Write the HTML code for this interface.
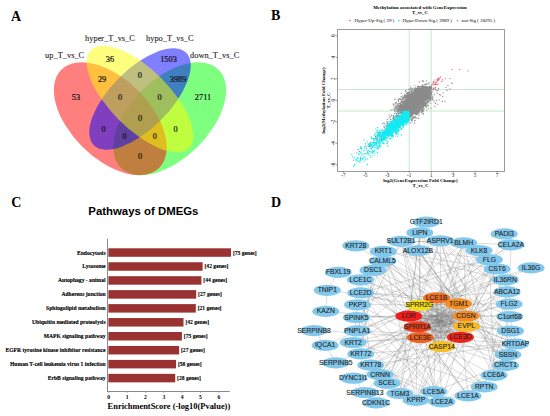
<!DOCTYPE html>
<html><head><meta charset="utf-8"><style>
html,body{margin:0;padding:0;background:#fff;}
body{width:550px;height:416px;overflow:hidden;font-family:"Liberation Sans",sans-serif;}
svg{display:block;}
</style></head><body>
<svg width="550" height="416" viewBox="0 0 550 416">
<rect width="550" height="416" fill="#fff"/>
<text x="10.9" y="20.5" font-family="Liberation Serif, serif" font-weight="bold" font-size="14">A</text>
<text x="271" y="20.4" font-family="Liberation Serif, serif" font-weight="bold" font-size="14">B</text>
<text x="11.2" y="207.3" font-family="Liberation Serif, serif" font-weight="bold" font-size="14">C</text>
<text x="271" y="207.2" font-family="Liberation Serif, serif" font-weight="bold" font-size="14">D</text>
<ellipse cx="169.70" cy="118.74" rx="69.30" ry="39.60" transform="rotate(-45.0 169.70 118.74)" fill="#00ff00" fill-opacity="0.5"/>
<ellipse cx="110.30" cy="118.74" rx="69.30" ry="39.60" transform="rotate(-135.0 110.30 118.74)" fill="#ff0000" fill-opacity="0.5"/>
<ellipse cx="140.00" cy="98.94" rx="65.34" ry="29.70" transform="rotate(-45.0 140.00 98.94)" fill="#0000ff" fill-opacity="0.5"/>
<ellipse cx="140.00" cy="98.94" rx="69.30" ry="29.70" transform="rotate(-135.0 140.00 98.94)" fill="#ffff00" fill-opacity="0.5"/>
<text x="109.9" y="62.3" font-family="Liberation Serif, serif" font-size="8.3" text-anchor="middle" fill="#111" stroke="#111" stroke-width="0.2">36</text>
<text x="168.5" y="62.3" font-family="Liberation Serif, serif" font-size="8.3" text-anchor="middle" fill="#111" stroke="#111" stroke-width="0.2">1503</text>
<text x="102.1" y="82.0" font-family="Liberation Serif, serif" font-size="8.3" text-anchor="middle" fill="#111" stroke="#111" stroke-width="0.2">29</text>
<text x="139.9" y="77.6" font-family="Liberation Serif, serif" font-size="8.3" text-anchor="middle" fill="#111" stroke="#111" stroke-width="0.2">0</text>
<text x="178.1" y="82.0" font-family="Liberation Serif, serif" font-size="8.3" text-anchor="middle" fill="#111" stroke="#111" stroke-width="0.2">3989</text>
<text x="76" y="99.7" font-family="Liberation Serif, serif" font-size="8.3" text-anchor="middle" fill="#111" stroke="#111" stroke-width="0.2">53</text>
<text x="120.1" y="99.7" font-family="Liberation Serif, serif" font-size="8.3" text-anchor="middle" fill="#111" stroke="#111" stroke-width="0.2">0</text>
<text x="159.5" y="99.7" font-family="Liberation Serif, serif" font-size="8.3" text-anchor="middle" fill="#111" stroke="#111" stroke-width="0.2">0</text>
<text x="203" y="99.7" font-family="Liberation Serif, serif" font-size="8.3" text-anchor="middle" fill="#111" stroke="#111" stroke-width="0.2">2711</text>
<text x="140" y="121.3" font-family="Liberation Serif, serif" font-size="8.3" text-anchor="middle" fill="#111" stroke="#111" stroke-width="0.2">0</text>
<text x="103.6" y="131.8" font-family="Liberation Serif, serif" font-size="8.3" text-anchor="middle" fill="#111" stroke="#111" stroke-width="0.2">0</text>
<text x="175.6" y="131.8" font-family="Liberation Serif, serif" font-size="8.3" text-anchor="middle" fill="#111" stroke="#111" stroke-width="0.2">0</text>
<text x="124.6" y="139.3" font-family="Liberation Serif, serif" font-size="8.3" text-anchor="middle" fill="#111" stroke="#111" stroke-width="0.2">0</text>
<text x="154.9" y="139.3" font-family="Liberation Serif, serif" font-size="8.3" text-anchor="middle" fill="#111" stroke="#111" stroke-width="0.2">0</text>
<text x="140" y="159.0" font-family="Liberation Serif, serif" font-size="8.3" text-anchor="middle" fill="#111" stroke="#111" stroke-width="0.2">0</text>
<text x="45.1" y="58" font-family="Liberation Serif, serif" font-size="8.4" fill="#222" stroke="#222" stroke-width="0.1">up_T_vs_C</text>
<text x="85.1" y="41.1" font-family="Liberation Serif, serif" font-size="8.4" fill="#222" stroke="#222" stroke-width="0.1">hyper_T_vs_C</text>
<text x="146" y="40.6" font-family="Liberation Serif, serif" font-size="8.4" fill="#222" stroke="#222" stroke-width="0.1">hypo_T_vs_C</text>
<text x="190" y="57.6" font-family="Liberation Serif, serif" font-size="8.4" fill="#222" stroke="#222" stroke-width="0.1">down_T_vs_C</text>
<text x="420" y="8.7" font-family="Liberation Serif, serif" font-weight="bold" font-size="4.9" text-anchor="middle">Methylation associated with GeneExpression</text>
<text x="420" y="13.6" font-family="Liberation Serif, serif" font-weight="bold" font-size="4.9" text-anchor="middle">T_vs_C</text>
<circle cx="349.9" cy="20.6" r="0.8" fill="#f05070"/><circle cx="398.9" cy="20.6" r="0.8" fill="#00e0ff"/><circle cx="457.5" cy="20.6" r="0.8" fill="#888"/>
<text x="354.5" y="22.2" font-family="Liberation Serif, serif" font-size="4.9">Hyper-Up-Sig ( 29 )</text>
<text x="402.5" y="22.2" font-family="Liberation Serif, serif" font-size="4.9">Hypo-Down-Sig ( 3989 )</text>
<text x="461.5" y="22.2" font-family="Liberation Serif, serif" font-size="4.9">not-Sig ( 18295 )</text>
<line x1="409.2" y1="29" x2="409.2" y2="171" stroke="#c4e8c8" stroke-width="1"/>
<line x1="337" y1="111.0" x2="504" y2="111.0" stroke="#c4e8c8" stroke-width="1"/>
<line x1="431.2" y1="29" x2="431.2" y2="171" stroke="#c4e8c8" stroke-width="1"/>
<line x1="337" y1="89.5" x2="504" y2="89.5" stroke="#c4e8c8" stroke-width="1"/>
<path d="M410.0 101.8h1.1v1.1h-1.1zM413.3 104.5h1.1v1.1h-1.1zM406.6 110.3h1.1v1.1h-1.1zM422.5 90.1h1.1v1.1h-1.1zM422.5 91.4h1.1v1.1h-1.1zM417.0 97.2h1.1v1.1h-1.1zM411.2 94.4h1.1v1.1h-1.1zM426.8 92.0h1.1v1.1h-1.1zM421.2 99.1h1.1v1.1h-1.1zM415.5 97.3h1.1v1.1h-1.1zM402.0 101.0h1.1v1.1h-1.1zM414.8 92.2h1.1v1.1h-1.1zM411.3 109.4h1.1v1.1h-1.1zM411.5 104.8h1.1v1.1h-1.1zM418.9 94.9h1.1v1.1h-1.1zM413.7 108.7h1.1v1.1h-1.1zM405.1 101.6h1.1v1.1h-1.1zM406.1 107.6h1.1v1.1h-1.1zM423.4 103.0h1.1v1.1h-1.1zM409.8 96.3h1.1v1.1h-1.1zM416.2 105.2h1.1v1.1h-1.1zM418.8 97.2h1.1v1.1h-1.1zM411.6 103.8h1.1v1.1h-1.1zM412.1 114.0h1.1v1.1h-1.1zM403.6 101.5h1.1v1.1h-1.1zM424.9 86.7h1.1v1.1h-1.1zM420.0 100.9h1.1v1.1h-1.1zM400.6 107.7h1.1v1.1h-1.1zM423.4 91.2h1.1v1.1h-1.1zM414.8 97.7h1.1v1.1h-1.1zM410.7 97.7h1.1v1.1h-1.1zM417.8 99.9h1.1v1.1h-1.1zM402.0 110.4h1.1v1.1h-1.1zM430.9 93.8h1.1v1.1h-1.1zM421.1 98.9h1.1v1.1h-1.1zM405.2 106.8h1.1v1.1h-1.1zM414.7 96.2h1.1v1.1h-1.1zM411.1 96.2h1.1v1.1h-1.1zM409.8 108.6h1.1v1.1h-1.1zM423.4 92.2h1.1v1.1h-1.1zM402.9 105.7h1.1v1.1h-1.1zM428.9 90.1h1.1v1.1h-1.1zM413.9 103.7h1.1v1.1h-1.1zM430.4 92.8h1.1v1.1h-1.1zM430.0 94.9h1.1v1.1h-1.1zM404.8 106.0h1.1v1.1h-1.1zM421.1 88.4h1.1v1.1h-1.1zM416.7 97.8h1.1v1.1h-1.1zM413.4 98.0h1.1v1.1h-1.1zM411.6 101.9h1.1v1.1h-1.1zM419.3 96.4h1.1v1.1h-1.1zM418.9 92.7h1.1v1.1h-1.1zM416.0 95.2h1.1v1.1h-1.1zM406.4 103.4h1.1v1.1h-1.1zM421.7 84.3h1.1v1.1h-1.1zM403.3 110.3h1.1v1.1h-1.1zM416.8 97.0h1.1v1.1h-1.1zM407.9 102.8h1.1v1.1h-1.1zM418.6 100.8h1.1v1.1h-1.1zM417.3 91.2h1.1v1.1h-1.1zM424.2 90.1h1.1v1.1h-1.1zM410.1 98.5h1.1v1.1h-1.1zM416.4 88.6h1.1v1.1h-1.1zM408.9 102.1h1.1v1.1h-1.1zM433.7 101.4h1.1v1.1h-1.1zM426.2 102.0h1.1v1.1h-1.1zM416.4 104.3h1.1v1.1h-1.1zM406.2 109.9h1.1v1.1h-1.1zM416.1 99.2h1.1v1.1h-1.1zM410.1 99.9h1.1v1.1h-1.1zM414.8 117.5h1.1v1.1h-1.1zM423.3 94.3h1.1v1.1h-1.1zM412.8 97.7h1.1v1.1h-1.1zM413.8 97.1h1.1v1.1h-1.1zM423.2 99.4h1.1v1.1h-1.1zM410.4 115.6h1.1v1.1h-1.1zM422.7 87.6h1.1v1.1h-1.1zM430.7 91.8h1.1v1.1h-1.1zM418.3 105.4h1.1v1.1h-1.1zM415.2 89.0h1.1v1.1h-1.1zM400.5 103.6h1.1v1.1h-1.1zM423.6 93.4h1.1v1.1h-1.1zM414.7 97.5h1.1v1.1h-1.1zM418.9 86.1h1.1v1.1h-1.1zM427.8 89.3h1.1v1.1h-1.1zM403.8 104.2h1.1v1.1h-1.1zM414.7 99.9h1.1v1.1h-1.1zM427.8 89.9h1.1v1.1h-1.1zM413.1 97.1h1.1v1.1h-1.1zM409.8 100.5h1.1v1.1h-1.1zM409.7 108.6h1.1v1.1h-1.1zM409.1 104.5h1.1v1.1h-1.1zM423.0 96.3h1.1v1.1h-1.1zM423.2 91.6h1.1v1.1h-1.1zM414.2 100.8h1.1v1.1h-1.1zM418.0 101.8h1.1v1.1h-1.1zM407.9 109.7h1.1v1.1h-1.1zM416.8 102.1h1.1v1.1h-1.1zM408.9 108.5h1.1v1.1h-1.1zM405.4 97.8h1.1v1.1h-1.1zM423.4 108.0h1.1v1.1h-1.1zM402.3 110.4h1.1v1.1h-1.1zM415.5 113.9h1.1v1.1h-1.1zM421.6 96.0h1.1v1.1h-1.1zM418.4 100.5h1.1v1.1h-1.1zM418.4 91.9h1.1v1.1h-1.1zM418.9 94.4h1.1v1.1h-1.1zM423.7 87.3h1.1v1.1h-1.1zM425.8 104.9h1.1v1.1h-1.1zM417.4 88.8h1.1v1.1h-1.1zM413.2 105.6h1.1v1.1h-1.1zM423.8 94.0h1.1v1.1h-1.1zM418.7 100.6h1.1v1.1h-1.1zM402.6 109.1h1.1v1.1h-1.1zM409.0 102.4h1.1v1.1h-1.1zM402.9 102.0h1.1v1.1h-1.1zM424.9 89.8h1.1v1.1h-1.1zM412.3 102.7h1.1v1.1h-1.1zM403.6 103.0h1.1v1.1h-1.1zM411.0 104.6h1.1v1.1h-1.1zM430.4 86.6h1.1v1.1h-1.1zM418.6 97.6h1.1v1.1h-1.1zM412.9 100.6h1.1v1.1h-1.1zM418.3 102.9h1.1v1.1h-1.1zM417.8 92.4h1.1v1.1h-1.1zM414.5 104.0h1.1v1.1h-1.1zM424.9 87.0h1.1v1.1h-1.1zM410.4 103.8h1.1v1.1h-1.1zM427.8 91.8h1.1v1.1h-1.1zM416.8 101.6h1.1v1.1h-1.1zM417.3 100.4h1.1v1.1h-1.1zM423.6 98.1h1.1v1.1h-1.1zM404.2 103.4h1.1v1.1h-1.1zM421.8 96.4h1.1v1.1h-1.1zM418.4 90.8h1.1v1.1h-1.1zM412.7 99.3h1.1v1.1h-1.1zM414.7 98.9h1.1v1.1h-1.1zM413.5 96.2h1.1v1.1h-1.1zM403.3 100.7h1.1v1.1h-1.1zM407.4 99.8h1.1v1.1h-1.1zM414.7 94.9h1.1v1.1h-1.1zM420.6 94.5h1.1v1.1h-1.1zM428.0 86.7h1.1v1.1h-1.1zM409.4 107.5h1.1v1.1h-1.1zM403.2 106.9h1.1v1.1h-1.1zM414.1 120.2h1.1v1.1h-1.1zM399.1 104.8h1.1v1.1h-1.1zM415.8 109.6h1.1v1.1h-1.1zM405.5 106.2h1.1v1.1h-1.1zM418.0 96.4h1.1v1.1h-1.1zM424.8 85.9h1.1v1.1h-1.1zM411.8 99.4h1.1v1.1h-1.1zM425.4 83.4h1.1v1.1h-1.1zM413.3 107.3h1.1v1.1h-1.1zM411.5 98.0h1.1v1.1h-1.1zM408.6 105.8h1.1v1.1h-1.1zM406.6 106.9h1.1v1.1h-1.1zM405.5 91.3h1.1v1.1h-1.1zM407.9 101.2h1.1v1.1h-1.1zM422.9 92.8h1.1v1.1h-1.1zM413.3 94.2h1.1v1.1h-1.1zM421.1 94.4h1.1v1.1h-1.1zM419.8 92.0h1.1v1.1h-1.1zM415.8 99.4h1.1v1.1h-1.1zM409.5 101.0h1.1v1.1h-1.1zM419.5 106.5h1.1v1.1h-1.1zM417.6 112.3h1.1v1.1h-1.1zM406.0 105.3h1.1v1.1h-1.1zM419.4 96.6h1.1v1.1h-1.1zM417.3 108.5h1.1v1.1h-1.1zM428.6 83.5h1.1v1.1h-1.1zM417.9 101.3h1.1v1.1h-1.1zM428.0 98.9h1.1v1.1h-1.1zM423.9 100.2h1.1v1.1h-1.1zM428.2 94.4h1.1v1.1h-1.1zM414.4 106.0h1.1v1.1h-1.1zM418.5 96.4h1.1v1.1h-1.1zM410.2 102.7h1.1v1.1h-1.1zM424.0 99.5h1.1v1.1h-1.1zM409.1 113.5h1.1v1.1h-1.1zM413.6 109.4h1.1v1.1h-1.1zM413.5 104.2h1.1v1.1h-1.1zM416.4 104.6h1.1v1.1h-1.1zM419.1 94.0h1.1v1.1h-1.1zM415.8 104.5h1.1v1.1h-1.1zM422.5 112.6h1.1v1.1h-1.1zM405.3 109.8h1.1v1.1h-1.1zM420.5 105.0h1.1v1.1h-1.1zM413.1 104.7h1.1v1.1h-1.1zM416.0 95.2h1.1v1.1h-1.1zM416.9 104.7h1.1v1.1h-1.1zM413.1 102.9h1.1v1.1h-1.1zM419.6 93.9h1.1v1.1h-1.1zM412.7 112.5h1.1v1.1h-1.1zM413.5 107.3h1.1v1.1h-1.1zM409.4 105.3h1.1v1.1h-1.1zM420.3 98.3h1.1v1.1h-1.1zM406.6 107.0h1.1v1.1h-1.1zM411.0 87.7h1.1v1.1h-1.1zM412.4 94.0h1.1v1.1h-1.1zM417.5 91.3h1.1v1.1h-1.1zM419.3 97.5h1.1v1.1h-1.1zM422.6 100.8h1.1v1.1h-1.1zM428.4 94.7h1.1v1.1h-1.1zM408.7 91.6h1.1v1.1h-1.1zM412.1 103.2h1.1v1.1h-1.1zM424.4 91.1h1.1v1.1h-1.1zM406.0 107.5h1.1v1.1h-1.1zM416.8 93.7h1.1v1.1h-1.1zM400.9 101.9h1.1v1.1h-1.1zM429.0 86.7h1.1v1.1h-1.1zM418.1 100.5h1.1v1.1h-1.1zM429.3 91.5h1.1v1.1h-1.1zM421.9 97.2h1.1v1.1h-1.1zM405.4 104.9h1.1v1.1h-1.1zM426.1 89.7h1.1v1.1h-1.1zM405.2 104.4h1.1v1.1h-1.1zM412.6 100.7h1.1v1.1h-1.1zM421.5 96.3h1.1v1.1h-1.1zM408.8 98.1h1.1v1.1h-1.1zM414.1 95.0h1.1v1.1h-1.1zM426.3 92.7h1.1v1.1h-1.1zM414.8 103.0h1.1v1.1h-1.1zM417.1 106.3h1.1v1.1h-1.1zM419.6 106.3h1.1v1.1h-1.1zM412.4 100.9h1.1v1.1h-1.1zM419.2 98.1h1.1v1.1h-1.1zM405.5 108.7h1.1v1.1h-1.1zM404.1 100.0h1.1v1.1h-1.1zM421.4 95.1h1.1v1.1h-1.1zM412.5 108.0h1.1v1.1h-1.1zM414.9 96.9h1.1v1.1h-1.1zM411.6 88.9h1.1v1.1h-1.1zM407.8 107.5h1.1v1.1h-1.1zM416.1 95.9h1.1v1.1h-1.1zM419.2 92.9h1.1v1.1h-1.1zM418.2 94.5h1.1v1.1h-1.1zM408.8 97.3h1.1v1.1h-1.1zM429.4 94.2h1.1v1.1h-1.1zM404.3 107.2h1.1v1.1h-1.1zM406.1 110.3h1.1v1.1h-1.1zM411.4 101.9h1.1v1.1h-1.1zM400.7 96.1h1.1v1.1h-1.1zM418.5 91.1h1.1v1.1h-1.1zM412.8 97.1h1.1v1.1h-1.1zM410.6 97.7h1.1v1.1h-1.1zM416.0 100.6h1.1v1.1h-1.1zM426.8 86.8h1.1v1.1h-1.1zM424.7 96.0h1.1v1.1h-1.1zM414.1 101.5h1.1v1.1h-1.1zM416.8 96.1h1.1v1.1h-1.1zM429.6 90.4h1.1v1.1h-1.1zM410.0 115.2h1.1v1.1h-1.1zM418.1 102.6h1.1v1.1h-1.1zM428.0 92.8h1.1v1.1h-1.1zM410.8 101.1h1.1v1.1h-1.1zM408.8 96.4h1.1v1.1h-1.1zM414.5 104.4h1.1v1.1h-1.1zM422.1 89.9h1.1v1.1h-1.1zM411.3 94.6h1.1v1.1h-1.1zM421.5 93.8h1.1v1.1h-1.1zM424.5 96.7h1.1v1.1h-1.1zM412.1 98.1h1.1v1.1h-1.1zM429.1 89.5h1.1v1.1h-1.1zM412.8 101.3h1.1v1.1h-1.1zM406.8 105.9h1.1v1.1h-1.1zM411.3 118.3h1.1v1.1h-1.1zM413.6 100.1h1.1v1.1h-1.1zM406.0 103.0h1.1v1.1h-1.1zM413.9 105.9h1.1v1.1h-1.1zM424.1 102.8h1.1v1.1h-1.1zM408.2 107.4h1.1v1.1h-1.1zM422.3 94.5h1.1v1.1h-1.1zM419.3 101.0h1.1v1.1h-1.1zM410.8 92.8h1.1v1.1h-1.1zM399.4 98.9h1.1v1.1h-1.1zM408.4 106.9h1.1v1.1h-1.1zM412.0 96.2h1.1v1.1h-1.1zM410.8 119.7h1.1v1.1h-1.1zM416.7 93.2h1.1v1.1h-1.1zM410.1 86.5h1.1v1.1h-1.1zM415.1 98.7h1.1v1.1h-1.1zM421.1 91.9h1.1v1.1h-1.1zM426.0 87.7h1.1v1.1h-1.1zM405.5 105.1h1.1v1.1h-1.1zM409.6 102.1h1.1v1.1h-1.1zM421.3 94.2h1.1v1.1h-1.1zM393.6 107.2h1.1v1.1h-1.1zM398.6 106.2h1.1v1.1h-1.1zM421.8 100.7h1.1v1.1h-1.1zM422.5 90.7h1.1v1.1h-1.1zM394.3 109.3h1.1v1.1h-1.1zM413.9 95.3h1.1v1.1h-1.1zM416.5 100.2h1.1v1.1h-1.1zM416.2 98.9h1.1v1.1h-1.1zM421.6 109.3h1.1v1.1h-1.1zM407.9 102.6h1.1v1.1h-1.1zM427.4 91.0h1.1v1.1h-1.1zM407.3 96.8h1.1v1.1h-1.1zM408.6 101.6h1.1v1.1h-1.1zM429.0 86.5h1.1v1.1h-1.1zM427.7 93.2h1.1v1.1h-1.1zM416.3 99.8h1.1v1.1h-1.1zM411.1 96.3h1.1v1.1h-1.1zM410.2 97.6h1.1v1.1h-1.1zM414.7 89.0h1.1v1.1h-1.1zM419.7 109.2h1.1v1.1h-1.1zM420.8 104.5h1.1v1.1h-1.1zM407.7 102.2h1.1v1.1h-1.1zM399.2 106.5h1.1v1.1h-1.1zM418.2 95.1h1.1v1.1h-1.1zM417.0 103.9h1.1v1.1h-1.1zM415.9 98.9h1.1v1.1h-1.1zM407.7 109.7h1.1v1.1h-1.1zM416.8 97.2h1.1v1.1h-1.1zM407.1 106.5h1.1v1.1h-1.1zM400.9 109.4h1.1v1.1h-1.1zM412.7 113.3h1.1v1.1h-1.1zM426.1 98.3h1.1v1.1h-1.1zM407.7 110.5h1.1v1.1h-1.1zM416.1 104.2h1.1v1.1h-1.1zM411.5 98.6h1.1v1.1h-1.1zM406.8 102.2h1.1v1.1h-1.1zM425.0 91.2h1.1v1.1h-1.1zM409.5 93.1h1.1v1.1h-1.1zM419.8 91.0h1.1v1.1h-1.1zM427.7 100.5h1.1v1.1h-1.1zM416.9 99.7h1.1v1.1h-1.1zM411.2 100.8h1.1v1.1h-1.1zM423.5 95.2h1.1v1.1h-1.1zM423.6 97.9h1.1v1.1h-1.1zM406.9 96.1h1.1v1.1h-1.1zM418.7 98.0h1.1v1.1h-1.1zM412.5 96.3h1.1v1.1h-1.1zM416.1 95.8h1.1v1.1h-1.1zM408.9 96.9h1.1v1.1h-1.1zM412.7 106.7h1.1v1.1h-1.1zM421.9 93.4h1.1v1.1h-1.1zM413.8 105.9h1.1v1.1h-1.1zM409.6 101.4h1.1v1.1h-1.1zM421.7 102.6h1.1v1.1h-1.1zM417.3 97.0h1.1v1.1h-1.1zM402.4 107.3h1.1v1.1h-1.1zM412.9 105.0h1.1v1.1h-1.1zM416.4 89.7h1.1v1.1h-1.1zM406.4 105.8h1.1v1.1h-1.1zM397.9 100.8h1.1v1.1h-1.1zM405.4 101.4h1.1v1.1h-1.1zM405.4 104.1h1.1v1.1h-1.1zM413.3 91.3h1.1v1.1h-1.1zM414.1 100.7h1.1v1.1h-1.1zM424.0 96.1h1.1v1.1h-1.1zM421.4 100.8h1.1v1.1h-1.1zM424.2 96.8h1.1v1.1h-1.1zM414.4 100.0h1.1v1.1h-1.1zM418.3 99.0h1.1v1.1h-1.1zM410.4 109.8h1.1v1.1h-1.1zM409.2 106.3h1.1v1.1h-1.1zM407.6 99.3h1.1v1.1h-1.1zM418.8 98.4h1.1v1.1h-1.1zM420.5 96.2h1.1v1.1h-1.1zM422.9 80.6h1.1v1.1h-1.1zM411.1 104.1h1.1v1.1h-1.1zM423.7 95.2h1.1v1.1h-1.1zM427.3 94.1h1.1v1.1h-1.1zM418.5 100.9h1.1v1.1h-1.1zM418.1 102.4h1.1v1.1h-1.1zM414.4 96.6h1.1v1.1h-1.1zM402.9 107.4h1.1v1.1h-1.1zM409.5 103.5h1.1v1.1h-1.1zM408.6 95.4h1.1v1.1h-1.1zM416.9 100.0h1.1v1.1h-1.1zM411.1 108.8h1.1v1.1h-1.1zM401.5 109.2h1.1v1.1h-1.1zM400.1 110.5h1.1v1.1h-1.1zM403.8 109.0h1.1v1.1h-1.1zM425.7 88.6h1.1v1.1h-1.1zM407.5 107.6h1.1v1.1h-1.1zM421.8 106.3h1.1v1.1h-1.1zM408.1 106.1h1.1v1.1h-1.1zM409.7 105.2h1.1v1.1h-1.1zM417.9 92.2h1.1v1.1h-1.1zM420.1 91.3h1.1v1.1h-1.1zM411.7 103.9h1.1v1.1h-1.1zM412.9 104.9h1.1v1.1h-1.1zM418.9 109.1h1.1v1.1h-1.1zM411.3 104.4h1.1v1.1h-1.1zM405.6 110.0h1.1v1.1h-1.1zM419.4 97.4h1.1v1.1h-1.1zM418.7 101.2h1.1v1.1h-1.1zM425.0 91.7h1.1v1.1h-1.1zM427.3 104.6h1.1v1.1h-1.1zM420.4 92.6h1.1v1.1h-1.1zM416.5 103.3h1.1v1.1h-1.1zM421.6 97.5h1.1v1.1h-1.1zM418.0 101.2h1.1v1.1h-1.1zM413.2 96.9h1.1v1.1h-1.1zM406.5 109.1h1.1v1.1h-1.1zM419.1 95.4h1.1v1.1h-1.1zM419.8 98.5h1.1v1.1h-1.1zM416.9 102.1h1.1v1.1h-1.1zM396.9 107.1h1.1v1.1h-1.1zM418.4 99.5h1.1v1.1h-1.1zM427.0 89.3h1.1v1.1h-1.1zM397.6 109.7h1.1v1.1h-1.1zM400.6 93.0h1.1v1.1h-1.1zM408.3 110.2h1.1v1.1h-1.1zM419.0 104.3h1.1v1.1h-1.1zM415.3 89.7h1.1v1.1h-1.1zM413.8 101.4h1.1v1.1h-1.1zM418.7 96.1h1.1v1.1h-1.1zM409.7 110.8h1.1v1.1h-1.1zM416.6 95.2h1.1v1.1h-1.1zM413.7 103.0h1.1v1.1h-1.1zM422.5 93.1h1.1v1.1h-1.1zM418.6 92.8h1.1v1.1h-1.1zM411.3 94.8h1.1v1.1h-1.1zM410.4 107.7h1.1v1.1h-1.1zM409.9 111.3h1.1v1.1h-1.1zM415.2 97.7h1.1v1.1h-1.1zM419.6 103.1h1.1v1.1h-1.1zM413.5 100.9h1.1v1.1h-1.1zM410.8 111.9h1.1v1.1h-1.1zM402.3 104.6h1.1v1.1h-1.1zM406.5 93.5h1.1v1.1h-1.1zM423.5 89.8h1.1v1.1h-1.1zM407.2 105.2h1.1v1.1h-1.1zM416.0 95.9h1.1v1.1h-1.1zM409.1 116.5h1.1v1.1h-1.1zM414.9 95.2h1.1v1.1h-1.1zM412.2 101.1h1.1v1.1h-1.1zM430.2 93.6h1.1v1.1h-1.1zM414.3 102.0h1.1v1.1h-1.1zM427.4 98.2h1.1v1.1h-1.1zM413.1 99.1h1.1v1.1h-1.1zM413.4 100.1h1.1v1.1h-1.1zM401.4 103.7h1.1v1.1h-1.1zM415.0 113.6h1.1v1.1h-1.1zM415.3 105.7h1.1v1.1h-1.1zM421.1 103.0h1.1v1.1h-1.1zM407.7 97.5h1.1v1.1h-1.1zM420.8 95.9h1.1v1.1h-1.1zM415.7 100.7h1.1v1.1h-1.1zM411.1 99.2h1.1v1.1h-1.1zM422.1 110.8h1.1v1.1h-1.1zM417.2 104.7h1.1v1.1h-1.1zM422.2 97.8h1.1v1.1h-1.1zM407.6 92.3h1.1v1.1h-1.1zM408.9 114.5h1.1v1.1h-1.1zM410.3 122.3h1.1v1.1h-1.1zM415.3 113.6h1.1v1.1h-1.1zM409.6 101.2h1.1v1.1h-1.1zM412.6 104.9h1.1v1.1h-1.1zM419.5 98.3h1.1v1.1h-1.1zM418.1 97.0h1.1v1.1h-1.1zM423.0 95.5h1.1v1.1h-1.1zM414.8 99.4h1.1v1.1h-1.1zM426.0 87.0h1.1v1.1h-1.1zM409.2 114.5h1.1v1.1h-1.1zM415.2 102.9h1.1v1.1h-1.1zM408.9 110.2h1.1v1.1h-1.1zM427.1 100.7h1.1v1.1h-1.1zM417.6 99.7h1.1v1.1h-1.1zM433.5 94.1h1.1v1.1h-1.1zM417.4 95.2h1.1v1.1h-1.1zM415.3 99.0h1.1v1.1h-1.1zM429.0 97.5h1.1v1.1h-1.1zM411.4 108.4h1.1v1.1h-1.1zM416.5 97.2h1.1v1.1h-1.1zM416.9 103.5h1.1v1.1h-1.1zM406.8 101.8h1.1v1.1h-1.1zM420.6 94.3h1.1v1.1h-1.1zM405.6 98.6h1.1v1.1h-1.1zM406.5 104.2h1.1v1.1h-1.1zM425.4 92.2h1.1v1.1h-1.1zM425.6 98.1h1.1v1.1h-1.1zM422.5 91.8h1.1v1.1h-1.1zM415.4 108.7h1.1v1.1h-1.1zM410.8 90.8h1.1v1.1h-1.1zM420.1 95.5h1.1v1.1h-1.1zM426.1 109.4h1.1v1.1h-1.1zM424.4 91.1h1.1v1.1h-1.1zM414.4 93.5h1.1v1.1h-1.1zM398.9 105.3h1.1v1.1h-1.1zM404.0 94.2h1.1v1.1h-1.1zM410.4 100.2h1.1v1.1h-1.1zM415.0 108.6h1.1v1.1h-1.1zM420.6 88.5h1.1v1.1h-1.1zM422.0 103.4h1.1v1.1h-1.1zM405.7 104.0h1.1v1.1h-1.1zM416.2 100.4h1.1v1.1h-1.1zM413.3 96.8h1.1v1.1h-1.1zM425.2 95.4h1.1v1.1h-1.1zM395.5 109.4h1.1v1.1h-1.1zM411.2 96.4h1.1v1.1h-1.1zM419.7 106.3h1.1v1.1h-1.1zM406.9 103.3h1.1v1.1h-1.1zM418.0 86.2h1.1v1.1h-1.1zM411.6 113.9h1.1v1.1h-1.1zM415.4 93.5h1.1v1.1h-1.1zM420.6 104.3h1.1v1.1h-1.1zM418.3 91.7h1.1v1.1h-1.1zM420.9 98.3h1.1v1.1h-1.1zM414.0 95.9h1.1v1.1h-1.1zM415.9 112.8h1.1v1.1h-1.1zM415.3 96.8h1.1v1.1h-1.1zM411.0 98.1h1.1v1.1h-1.1zM409.2 106.8h1.1v1.1h-1.1zM409.4 102.0h1.1v1.1h-1.1zM429.3 88.3h1.1v1.1h-1.1zM417.0 106.1h1.1v1.1h-1.1zM413.5 92.4h1.1v1.1h-1.1zM417.4 95.2h1.1v1.1h-1.1zM411.8 102.5h1.1v1.1h-1.1zM397.6 110.1h1.1v1.1h-1.1zM414.5 108.9h1.1v1.1h-1.1zM410.5 110.9h1.1v1.1h-1.1zM417.9 90.1h1.1v1.1h-1.1zM398.7 109.9h1.1v1.1h-1.1zM424.2 95.7h1.1v1.1h-1.1zM407.3 105.7h1.1v1.1h-1.1zM418.4 111.7h1.1v1.1h-1.1zM421.8 104.8h1.1v1.1h-1.1zM426.6 97.8h1.1v1.1h-1.1zM411.1 110.5h1.1v1.1h-1.1zM404.6 101.5h1.1v1.1h-1.1zM419.6 91.8h1.1v1.1h-1.1zM422.7 104.1h1.1v1.1h-1.1zM411.5 107.9h1.1v1.1h-1.1zM403.6 108.1h1.1v1.1h-1.1zM410.1 110.4h1.1v1.1h-1.1zM412.3 117.8h1.1v1.1h-1.1zM414.6 91.4h1.1v1.1h-1.1zM419.3 103.3h1.1v1.1h-1.1zM423.9 89.7h1.1v1.1h-1.1zM417.0 88.0h1.1v1.1h-1.1zM425.8 93.1h1.1v1.1h-1.1zM420.7 89.4h1.1v1.1h-1.1zM423.2 100.1h1.1v1.1h-1.1zM413.9 108.1h1.1v1.1h-1.1zM416.4 102.8h1.1v1.1h-1.1zM422.8 93.5h1.1v1.1h-1.1zM419.8 93.8h1.1v1.1h-1.1zM412.6 102.2h1.1v1.1h-1.1zM404.2 107.5h1.1v1.1h-1.1zM414.7 107.1h1.1v1.1h-1.1zM411.0 99.4h1.1v1.1h-1.1zM421.7 110.9h1.1v1.1h-1.1zM408.4 107.8h1.1v1.1h-1.1zM420.4 102.0h1.1v1.1h-1.1zM413.4 98.4h1.1v1.1h-1.1zM423.4 105.1h1.1v1.1h-1.1zM410.6 110.9h1.1v1.1h-1.1zM409.3 108.1h1.1v1.1h-1.1zM423.0 94.2h1.1v1.1h-1.1zM408.7 116.8h1.1v1.1h-1.1zM422.0 101.1h1.1v1.1h-1.1zM406.7 100.1h1.1v1.1h-1.1zM420.6 99.6h1.1v1.1h-1.1zM407.3 104.2h1.1v1.1h-1.1zM408.0 105.3h1.1v1.1h-1.1zM428.3 87.3h1.1v1.1h-1.1zM410.2 100.0h1.1v1.1h-1.1zM407.0 100.7h1.1v1.1h-1.1zM400.5 110.4h1.1v1.1h-1.1zM412.5 108.7h1.1v1.1h-1.1zM430.3 99.3h1.1v1.1h-1.1zM417.2 102.3h1.1v1.1h-1.1zM424.8 99.7h1.1v1.1h-1.1zM415.5 100.0h1.1v1.1h-1.1zM428.2 90.7h1.1v1.1h-1.1zM412.5 99.7h1.1v1.1h-1.1zM416.1 95.3h1.1v1.1h-1.1zM418.8 103.3h1.1v1.1h-1.1zM422.1 104.0h1.1v1.1h-1.1zM430.5 93.2h1.1v1.1h-1.1zM419.3 100.3h1.1v1.1h-1.1zM414.5 109.3h1.1v1.1h-1.1zM417.6 105.7h1.1v1.1h-1.1zM425.7 96.2h1.1v1.1h-1.1zM410.9 99.3h1.1v1.1h-1.1zM417.6 91.6h1.1v1.1h-1.1zM422.0 90.8h1.1v1.1h-1.1zM417.2 91.8h1.1v1.1h-1.1zM415.2 101.0h1.1v1.1h-1.1zM423.0 99.4h1.1v1.1h-1.1zM421.8 99.7h1.1v1.1h-1.1zM409.8 113.3h1.1v1.1h-1.1zM425.3 88.7h1.1v1.1h-1.1zM413.4 117.2h1.1v1.1h-1.1zM392.9 104.5h1.1v1.1h-1.1zM416.6 100.1h1.1v1.1h-1.1zM416.7 108.7h1.1v1.1h-1.1zM398.6 104.5h1.1v1.1h-1.1zM404.3 105.0h1.1v1.1h-1.1zM412.7 95.4h1.1v1.1h-1.1zM402.0 109.0h1.1v1.1h-1.1zM420.3 100.6h1.1v1.1h-1.1zM421.7 100.4h1.1v1.1h-1.1zM407.1 108.4h1.1v1.1h-1.1zM410.6 115.3h1.1v1.1h-1.1zM407.6 102.4h1.1v1.1h-1.1zM405.9 100.4h1.1v1.1h-1.1zM426.5 86.4h1.1v1.1h-1.1zM425.6 96.1h1.1v1.1h-1.1zM420.4 93.4h1.1v1.1h-1.1zM419.9 95.6h1.1v1.1h-1.1zM427.3 93.1h1.1v1.1h-1.1zM411.0 115.1h1.1v1.1h-1.1zM427.2 93.9h1.1v1.1h-1.1zM414.8 109.8h1.1v1.1h-1.1zM413.9 106.1h1.1v1.1h-1.1zM412.7 109.6h1.1v1.1h-1.1zM416.2 102.7h1.1v1.1h-1.1zM414.3 99.5h1.1v1.1h-1.1zM425.2 106.2h1.1v1.1h-1.1zM412.3 108.9h1.1v1.1h-1.1zM426.8 100.2h1.1v1.1h-1.1zM408.9 108.7h1.1v1.1h-1.1zM407.6 100.8h1.1v1.1h-1.1zM406.7 101.8h1.1v1.1h-1.1zM423.5 89.1h1.1v1.1h-1.1zM418.1 96.7h1.1v1.1h-1.1zM422.9 101.5h1.1v1.1h-1.1zM424.6 95.0h1.1v1.1h-1.1zM422.6 92.4h1.1v1.1h-1.1zM424.7 92.0h1.1v1.1h-1.1zM409.8 104.0h1.1v1.1h-1.1zM412.4 107.0h1.1v1.1h-1.1zM414.6 100.0h1.1v1.1h-1.1zM427.5 87.9h1.1v1.1h-1.1zM418.8 99.6h1.1v1.1h-1.1zM427.6 86.9h1.1v1.1h-1.1zM408.9 94.9h1.1v1.1h-1.1zM414.2 99.2h1.1v1.1h-1.1zM422.0 104.9h1.1v1.1h-1.1zM427.7 97.2h1.1v1.1h-1.1zM422.4 88.2h1.1v1.1h-1.1zM415.6 107.7h1.1v1.1h-1.1zM421.5 96.4h1.1v1.1h-1.1zM429.3 89.1h1.1v1.1h-1.1zM415.7 99.8h1.1v1.1h-1.1zM410.0 116.1h1.1v1.1h-1.1zM419.4 93.3h1.1v1.1h-1.1zM415.7 104.2h1.1v1.1h-1.1zM424.0 98.0h1.1v1.1h-1.1zM420.8 92.3h1.1v1.1h-1.1zM413.8 105.3h1.1v1.1h-1.1zM420.0 102.2h1.1v1.1h-1.1zM410.5 112.9h1.1v1.1h-1.1zM404.7 107.1h1.1v1.1h-1.1zM427.6 105.0h1.1v1.1h-1.1zM421.3 103.4h1.1v1.1h-1.1zM412.1 101.0h1.1v1.1h-1.1zM428.8 88.8h1.1v1.1h-1.1zM420.8 100.5h1.1v1.1h-1.1zM424.4 99.8h1.1v1.1h-1.1zM407.2 101.2h1.1v1.1h-1.1zM423.1 97.1h1.1v1.1h-1.1zM413.9 110.5h1.1v1.1h-1.1zM431.0 92.7h1.1v1.1h-1.1zM413.9 101.3h1.1v1.1h-1.1zM409.6 98.4h1.1v1.1h-1.1zM416.9 100.1h1.1v1.1h-1.1zM428.1 99.0h1.1v1.1h-1.1zM425.5 97.2h1.1v1.1h-1.1zM404.5 97.0h1.1v1.1h-1.1zM424.1 101.8h1.1v1.1h-1.1zM423.0 96.2h1.1v1.1h-1.1zM421.6 89.5h1.1v1.1h-1.1zM418.2 101.9h1.1v1.1h-1.1zM422.6 109.6h1.1v1.1h-1.1zM410.4 95.3h1.1v1.1h-1.1zM413.4 109.2h1.1v1.1h-1.1zM413.3 96.9h1.1v1.1h-1.1zM420.7 107.6h1.1v1.1h-1.1zM410.1 104.6h1.1v1.1h-1.1zM425.4 101.9h1.1v1.1h-1.1zM410.7 95.5h1.1v1.1h-1.1zM414.1 97.1h1.1v1.1h-1.1zM414.9 90.6h1.1v1.1h-1.1zM403.1 105.2h1.1v1.1h-1.1zM402.8 107.5h1.1v1.1h-1.1zM414.9 98.9h1.1v1.1h-1.1zM422.9 93.0h1.1v1.1h-1.1zM420.9 88.5h1.1v1.1h-1.1zM417.4 102.2h1.1v1.1h-1.1zM409.4 109.8h1.1v1.1h-1.1zM412.5 103.2h1.1v1.1h-1.1zM409.0 108.7h1.1v1.1h-1.1zM419.7 103.4h1.1v1.1h-1.1zM430.6 89.3h1.1v1.1h-1.1zM419.4 95.1h1.1v1.1h-1.1zM414.4 98.5h1.1v1.1h-1.1zM423.5 89.3h1.1v1.1h-1.1zM423.9 97.6h1.1v1.1h-1.1zM409.0 110.6h1.1v1.1h-1.1zM428.4 90.3h1.1v1.1h-1.1zM404.1 106.4h1.1v1.1h-1.1zM418.6 81.3h1.1v1.1h-1.1zM413.6 99.9h1.1v1.1h-1.1zM410.5 98.3h1.1v1.1h-1.1zM418.2 96.1h1.1v1.1h-1.1zM423.4 109.2h1.1v1.1h-1.1zM413.6 107.3h1.1v1.1h-1.1zM418.4 93.3h1.1v1.1h-1.1zM412.1 99.7h1.1v1.1h-1.1zM408.5 106.4h1.1v1.1h-1.1zM412.5 99.0h1.1v1.1h-1.1zM414.1 102.5h1.1v1.1h-1.1zM415.3 104.8h1.1v1.1h-1.1zM433.5 88.2h1.1v1.1h-1.1zM417.3 92.3h1.1v1.1h-1.1zM410.3 110.8h1.1v1.1h-1.1zM399.6 104.4h1.1v1.1h-1.1zM416.1 95.5h1.1v1.1h-1.1zM425.4 86.4h1.1v1.1h-1.1zM410.1 106.6h1.1v1.1h-1.1zM421.1 98.7h1.1v1.1h-1.1zM408.6 104.6h1.1v1.1h-1.1zM405.0 96.8h1.1v1.1h-1.1zM409.5 102.2h1.1v1.1h-1.1zM406.2 108.8h1.1v1.1h-1.1zM418.8 98.8h1.1v1.1h-1.1zM417.4 98.6h1.1v1.1h-1.1zM428.0 94.4h1.1v1.1h-1.1zM412.6 95.0h1.1v1.1h-1.1zM409.9 100.2h1.1v1.1h-1.1zM413.4 95.6h1.1v1.1h-1.1zM402.0 98.6h1.1v1.1h-1.1zM425.5 86.2h1.1v1.1h-1.1zM397.7 98.4h1.1v1.1h-1.1zM414.3 100.8h1.1v1.1h-1.1zM423.4 99.9h1.1v1.1h-1.1zM414.3 94.2h1.1v1.1h-1.1zM420.8 97.5h1.1v1.1h-1.1zM410.6 106.5h1.1v1.1h-1.1zM415.0 89.4h1.1v1.1h-1.1zM415.1 105.0h1.1v1.1h-1.1zM416.8 97.3h1.1v1.1h-1.1zM408.8 111.9h1.1v1.1h-1.1zM410.8 99.9h1.1v1.1h-1.1zM423.1 101.4h1.1v1.1h-1.1zM413.9 99.2h1.1v1.1h-1.1zM416.9 106.0h1.1v1.1h-1.1zM414.8 103.1h1.1v1.1h-1.1zM420.2 101.4h1.1v1.1h-1.1zM430.0 97.8h1.1v1.1h-1.1zM412.6 102.9h1.1v1.1h-1.1zM425.0 95.1h1.1v1.1h-1.1zM421.1 98.6h1.1v1.1h-1.1zM414.4 88.7h1.1v1.1h-1.1zM409.0 103.3h1.1v1.1h-1.1zM402.3 106.0h1.1v1.1h-1.1zM424.8 90.7h1.1v1.1h-1.1zM402.6 109.8h1.1v1.1h-1.1zM420.4 87.4h1.1v1.1h-1.1zM428.1 100.8h1.1v1.1h-1.1zM402.9 102.2h1.1v1.1h-1.1zM399.1 108.0h1.1v1.1h-1.1zM428.2 82.2h1.1v1.1h-1.1zM414.3 98.2h1.1v1.1h-1.1zM407.4 94.8h1.1v1.1h-1.1zM417.8 97.2h1.1v1.1h-1.1zM414.6 105.4h1.1v1.1h-1.1zM425.6 89.1h1.1v1.1h-1.1zM414.6 104.1h1.1v1.1h-1.1zM428.1 96.0h1.1v1.1h-1.1zM418.0 96.5h1.1v1.1h-1.1zM411.5 100.4h1.1v1.1h-1.1zM409.0 104.2h1.1v1.1h-1.1zM417.4 90.8h1.1v1.1h-1.1zM416.2 103.6h1.1v1.1h-1.1zM408.4 102.5h1.1v1.1h-1.1zM405.9 102.8h1.1v1.1h-1.1zM430.9 86.4h1.1v1.1h-1.1zM422.9 90.0h1.1v1.1h-1.1zM400.6 109.9h1.1v1.1h-1.1zM403.6 105.1h1.1v1.1h-1.1zM421.1 91.3h1.1v1.1h-1.1zM412.4 103.2h1.1v1.1h-1.1zM427.8 91.9h1.1v1.1h-1.1zM428.0 101.7h1.1v1.1h-1.1zM416.6 100.3h1.1v1.1h-1.1zM412.0 107.9h1.1v1.1h-1.1zM413.7 107.0h1.1v1.1h-1.1zM411.2 108.0h1.1v1.1h-1.1zM422.1 95.4h1.1v1.1h-1.1zM404.8 100.8h1.1v1.1h-1.1zM419.5 89.5h1.1v1.1h-1.1zM425.7 92.4h1.1v1.1h-1.1zM409.0 98.5h1.1v1.1h-1.1zM409.7 106.6h1.1v1.1h-1.1zM416.2 96.7h1.1v1.1h-1.1zM408.1 100.3h1.1v1.1h-1.1zM409.9 100.3h1.1v1.1h-1.1zM421.3 89.6h1.1v1.1h-1.1zM424.9 99.1h1.1v1.1h-1.1zM412.9 91.8h1.1v1.1h-1.1zM406.0 108.2h1.1v1.1h-1.1zM411.9 98.5h1.1v1.1h-1.1zM405.7 110.2h1.1v1.1h-1.1zM413.3 102.8h1.1v1.1h-1.1zM397.7 106.1h1.1v1.1h-1.1zM410.3 96.0h1.1v1.1h-1.1zM406.7 108.4h1.1v1.1h-1.1zM421.8 94.3h1.1v1.1h-1.1zM417.0 102.7h1.1v1.1h-1.1zM421.0 92.0h1.1v1.1h-1.1zM408.6 89.0h1.1v1.1h-1.1zM415.9 103.8h1.1v1.1h-1.1zM406.9 102.8h1.1v1.1h-1.1zM413.1 111.2h1.1v1.1h-1.1zM429.4 97.2h1.1v1.1h-1.1zM419.7 108.0h1.1v1.1h-1.1zM416.9 114.0h1.1v1.1h-1.1zM420.1 104.9h1.1v1.1h-1.1zM425.2 104.7h1.1v1.1h-1.1zM409.6 110.2h1.1v1.1h-1.1zM403.5 109.4h1.1v1.1h-1.1zM415.9 105.5h1.1v1.1h-1.1zM402.4 107.1h1.1v1.1h-1.1zM406.1 105.0h1.1v1.1h-1.1zM425.1 104.2h1.1v1.1h-1.1zM414.4 95.6h1.1v1.1h-1.1zM417.6 90.7h1.1v1.1h-1.1zM411.6 105.4h1.1v1.1h-1.1zM422.6 96.1h1.1v1.1h-1.1zM429.4 97.8h1.1v1.1h-1.1zM420.6 96.3h1.1v1.1h-1.1zM423.8 89.2h1.1v1.1h-1.1zM420.3 104.2h1.1v1.1h-1.1zM425.0 90.9h1.1v1.1h-1.1zM405.5 105.5h1.1v1.1h-1.1zM409.2 110.0h1.1v1.1h-1.1zM428.6 90.7h1.1v1.1h-1.1zM410.4 105.6h1.1v1.1h-1.1zM405.2 105.0h1.1v1.1h-1.1zM404.4 103.6h1.1v1.1h-1.1zM418.4 101.2h1.1v1.1h-1.1zM394.7 102.4h1.1v1.1h-1.1zM423.0 100.3h1.1v1.1h-1.1zM435.8 99.8h1.1v1.1h-1.1zM408.6 104.9h1.1v1.1h-1.1zM407.3 99.8h1.1v1.1h-1.1zM408.5 107.1h1.1v1.1h-1.1zM414.7 91.7h1.1v1.1h-1.1zM409.6 109.9h1.1v1.1h-1.1zM427.0 89.1h1.1v1.1h-1.1zM422.0 91.7h1.1v1.1h-1.1zM419.0 102.6h1.1v1.1h-1.1zM414.2 101.9h1.1v1.1h-1.1zM401.8 100.5h1.1v1.1h-1.1zM413.6 94.0h1.1v1.1h-1.1zM408.5 108.8h1.1v1.1h-1.1zM411.1 111.4h1.1v1.1h-1.1zM425.9 90.0h1.1v1.1h-1.1zM409.3 104.2h1.1v1.1h-1.1zM417.4 88.2h1.1v1.1h-1.1zM416.3 97.2h1.1v1.1h-1.1zM415.5 92.5h1.1v1.1h-1.1zM424.1 100.4h1.1v1.1h-1.1zM416.5 101.5h1.1v1.1h-1.1zM428.9 85.9h1.1v1.1h-1.1zM402.7 102.4h1.1v1.1h-1.1zM409.1 102.9h1.1v1.1h-1.1zM412.1 100.2h1.1v1.1h-1.1zM426.6 94.5h1.1v1.1h-1.1zM405.2 103.8h1.1v1.1h-1.1zM411.1 102.8h1.1v1.1h-1.1zM426.3 95.4h1.1v1.1h-1.1zM424.4 93.2h1.1v1.1h-1.1zM411.1 108.0h1.1v1.1h-1.1zM410.9 97.4h1.1v1.1h-1.1zM415.5 105.1h1.1v1.1h-1.1zM400.6 101.0h1.1v1.1h-1.1zM412.1 98.9h1.1v1.1h-1.1zM408.7 103.1h1.1v1.1h-1.1zM422.0 94.8h1.1v1.1h-1.1zM410.8 106.0h1.1v1.1h-1.1zM410.7 103.3h1.1v1.1h-1.1zM412.0 98.9h1.1v1.1h-1.1zM410.2 100.1h1.1v1.1h-1.1zM425.9 87.6h1.1v1.1h-1.1zM409.6 102.4h1.1v1.1h-1.1zM414.6 103.9h1.1v1.1h-1.1zM405.2 96.7h1.1v1.1h-1.1zM418.0 92.0h1.1v1.1h-1.1zM428.1 98.7h1.1v1.1h-1.1zM415.8 94.2h1.1v1.1h-1.1zM416.2 106.2h1.1v1.1h-1.1zM420.7 96.2h1.1v1.1h-1.1zM425.6 92.8h1.1v1.1h-1.1zM411.6 96.1h1.1v1.1h-1.1zM419.5 88.0h1.1v1.1h-1.1zM405.1 95.0h1.1v1.1h-1.1zM408.7 110.3h1.1v1.1h-1.1zM409.5 96.2h1.1v1.1h-1.1zM411.2 90.2h1.1v1.1h-1.1zM418.8 90.9h1.1v1.1h-1.1zM408.1 108.8h1.1v1.1h-1.1zM418.9 103.7h1.1v1.1h-1.1zM411.8 111.4h1.1v1.1h-1.1zM407.5 101.3h1.1v1.1h-1.1zM417.8 95.5h1.1v1.1h-1.1zM421.4 99.3h1.1v1.1h-1.1zM413.4 105.0h1.1v1.1h-1.1zM407.7 110.3h1.1v1.1h-1.1zM406.7 108.7h1.1v1.1h-1.1zM420.0 93.2h1.1v1.1h-1.1zM413.0 98.9h1.1v1.1h-1.1zM415.6 105.7h1.1v1.1h-1.1zM412.9 100.9h1.1v1.1h-1.1zM413.4 111.7h1.1v1.1h-1.1zM405.7 103.8h1.1v1.1h-1.1zM411.4 113.3h1.1v1.1h-1.1zM407.3 94.3h1.1v1.1h-1.1zM402.5 104.7h1.1v1.1h-1.1zM414.4 98.0h1.1v1.1h-1.1zM429.6 92.3h1.1v1.1h-1.1zM414.6 102.9h1.1v1.1h-1.1zM418.8 95.8h1.1v1.1h-1.1zM413.7 96.1h1.1v1.1h-1.1zM411.6 102.5h1.1v1.1h-1.1zM404.6 101.3h1.1v1.1h-1.1zM415.2 88.0h1.1v1.1h-1.1zM410.0 97.8h1.1v1.1h-1.1zM413.9 107.6h1.1v1.1h-1.1zM412.5 100.9h1.1v1.1h-1.1zM425.5 98.0h1.1v1.1h-1.1zM419.8 94.3h1.1v1.1h-1.1zM430.0 91.9h1.1v1.1h-1.1zM423.0 87.0h1.1v1.1h-1.1zM398.8 109.1h1.1v1.1h-1.1zM420.2 100.5h1.1v1.1h-1.1zM428.9 91.5h1.1v1.1h-1.1zM419.8 109.2h1.1v1.1h-1.1zM410.3 110.8h1.1v1.1h-1.1zM425.3 86.8h1.1v1.1h-1.1zM402.6 108.9h1.1v1.1h-1.1zM419.2 98.1h1.1v1.1h-1.1zM415.5 102.2h1.1v1.1h-1.1zM415.8 112.2h1.1v1.1h-1.1zM408.8 97.7h1.1v1.1h-1.1zM427.6 90.1h1.1v1.1h-1.1zM408.4 108.5h1.1v1.1h-1.1zM420.7 92.5h1.1v1.1h-1.1zM407.8 105.1h1.1v1.1h-1.1zM410.5 101.3h1.1v1.1h-1.1zM415.8 110.0h1.1v1.1h-1.1zM412.0 98.2h1.1v1.1h-1.1zM423.1 95.2h1.1v1.1h-1.1zM401.3 99.8h1.1v1.1h-1.1zM417.7 90.7h1.1v1.1h-1.1zM400.1 103.7h1.1v1.1h-1.1zM415.9 90.4h1.1v1.1h-1.1zM422.7 106.4h1.1v1.1h-1.1zM417.7 94.0h1.1v1.1h-1.1zM408.4 103.3h1.1v1.1h-1.1zM419.8 93.7h1.1v1.1h-1.1zM413.3 91.7h1.1v1.1h-1.1zM409.5 104.9h1.1v1.1h-1.1zM406.0 102.2h1.1v1.1h-1.1zM409.0 103.2h1.1v1.1h-1.1zM415.1 100.0h1.1v1.1h-1.1zM429.3 87.1h1.1v1.1h-1.1zM423.5 86.5h1.1v1.1h-1.1zM426.1 90.8h1.1v1.1h-1.1zM419.5 90.9h1.1v1.1h-1.1zM407.9 105.6h1.1v1.1h-1.1zM413.2 102.6h1.1v1.1h-1.1zM427.9 92.9h1.1v1.1h-1.1zM412.5 107.4h1.1v1.1h-1.1zM412.3 99.3h1.1v1.1h-1.1zM410.3 100.8h1.1v1.1h-1.1zM420.0 97.6h1.1v1.1h-1.1zM424.5 104.4h1.1v1.1h-1.1zM417.0 104.9h1.1v1.1h-1.1zM414.6 88.7h1.1v1.1h-1.1zM407.4 101.8h1.1v1.1h-1.1zM407.1 110.4h1.1v1.1h-1.1zM419.7 100.5h1.1v1.1h-1.1zM424.1 89.2h1.1v1.1h-1.1zM416.4 114.0h1.1v1.1h-1.1zM425.4 93.2h1.1v1.1h-1.1zM408.9 106.5h1.1v1.1h-1.1zM406.0 100.4h1.1v1.1h-1.1zM423.4 87.0h1.1v1.1h-1.1zM415.8 93.2h1.1v1.1h-1.1zM418.3 97.9h1.1v1.1h-1.1zM422.5 91.3h1.1v1.1h-1.1zM413.9 90.9h1.1v1.1h-1.1zM431.1 84.5h1.1v1.1h-1.1zM420.1 102.9h1.1v1.1h-1.1zM406.2 98.9h1.1v1.1h-1.1zM405.8 103.1h1.1v1.1h-1.1zM411.7 115.4h1.1v1.1h-1.1zM419.8 98.3h1.1v1.1h-1.1zM407.6 100.3h1.1v1.1h-1.1zM407.9 110.1h1.1v1.1h-1.1zM414.0 98.7h1.1v1.1h-1.1zM406.1 102.1h1.1v1.1h-1.1zM434.8 83.9h1.1v1.1h-1.1zM427.4 90.7h1.1v1.1h-1.1zM416.5 101.4h1.1v1.1h-1.1zM413.2 111.1h1.1v1.1h-1.1zM406.2 100.2h1.1v1.1h-1.1zM425.2 93.0h1.1v1.1h-1.1zM412.1 108.2h1.1v1.1h-1.1zM397.6 105.2h1.1v1.1h-1.1zM419.4 95.4h1.1v1.1h-1.1zM413.5 109.0h1.1v1.1h-1.1zM422.7 87.6h1.1v1.1h-1.1zM402.5 106.0h1.1v1.1h-1.1zM402.4 108.5h1.1v1.1h-1.1zM416.9 95.7h1.1v1.1h-1.1zM425.8 95.7h1.1v1.1h-1.1zM420.7 90.0h1.1v1.1h-1.1zM409.8 97.3h1.1v1.1h-1.1zM409.0 108.1h1.1v1.1h-1.1zM411.0 106.0h1.1v1.1h-1.1zM420.4 91.8h1.1v1.1h-1.1zM421.0 91.2h1.1v1.1h-1.1zM425.0 97.5h1.1v1.1h-1.1zM416.8 110.5h1.1v1.1h-1.1zM416.9 102.5h1.1v1.1h-1.1zM415.9 102.1h1.1v1.1h-1.1zM411.4 97.2h1.1v1.1h-1.1zM425.6 89.2h1.1v1.1h-1.1zM412.9 96.7h1.1v1.1h-1.1zM415.4 107.4h1.1v1.1h-1.1zM426.9 95.3h1.1v1.1h-1.1zM425.5 96.9h1.1v1.1h-1.1zM417.3 104.9h1.1v1.1h-1.1zM420.8 105.6h1.1v1.1h-1.1zM417.9 100.9h1.1v1.1h-1.1zM399.7 107.2h1.1v1.1h-1.1zM429.6 90.0h1.1v1.1h-1.1zM424.5 88.6h1.1v1.1h-1.1zM420.6 89.8h1.1v1.1h-1.1zM417.3 101.6h1.1v1.1h-1.1zM428.6 92.1h1.1v1.1h-1.1zM411.6 99.2h1.1v1.1h-1.1zM415.1 99.5h1.1v1.1h-1.1zM408.2 109.2h1.1v1.1h-1.1zM414.1 107.9h1.1v1.1h-1.1zM414.3 113.3h1.1v1.1h-1.1zM415.8 100.2h1.1v1.1h-1.1zM409.6 102.4h1.1v1.1h-1.1zM415.8 101.5h1.1v1.1h-1.1zM414.8 88.7h1.1v1.1h-1.1zM413.6 108.3h1.1v1.1h-1.1zM408.7 106.1h1.1v1.1h-1.1zM422.2 99.4h1.1v1.1h-1.1zM426.3 96.5h1.1v1.1h-1.1zM419.8 93.0h1.1v1.1h-1.1zM410.6 90.1h1.1v1.1h-1.1zM412.5 104.1h1.1v1.1h-1.1zM415.2 94.4h1.1v1.1h-1.1zM405.6 105.4h1.1v1.1h-1.1zM425.7 89.7h1.1v1.1h-1.1zM412.6 101.6h1.1v1.1h-1.1zM417.9 89.2h1.1v1.1h-1.1zM410.3 99.5h1.1v1.1h-1.1zM407.2 108.2h1.1v1.1h-1.1zM429.4 95.3h1.1v1.1h-1.1zM409.5 113.4h1.1v1.1h-1.1zM407.2 103.8h1.1v1.1h-1.1zM426.4 103.3h1.1v1.1h-1.1zM428.7 91.1h1.1v1.1h-1.1zM403.3 100.6h1.1v1.1h-1.1zM417.8 106.3h1.1v1.1h-1.1zM411.2 109.2h1.1v1.1h-1.1zM420.5 92.8h1.1v1.1h-1.1zM392.6 103.4h1.1v1.1h-1.1zM405.3 109.3h1.1v1.1h-1.1zM411.8 98.5h1.1v1.1h-1.1zM409.8 102.6h1.1v1.1h-1.1zM401.7 110.5h1.1v1.1h-1.1zM410.3 101.0h1.1v1.1h-1.1zM419.8 93.4h1.1v1.1h-1.1zM403.5 101.1h1.1v1.1h-1.1zM396.4 105.2h1.1v1.1h-1.1zM411.8 105.2h1.1v1.1h-1.1zM414.9 92.1h1.1v1.1h-1.1zM422.8 93.4h1.1v1.1h-1.1zM419.4 103.7h1.1v1.1h-1.1zM417.4 100.1h1.1v1.1h-1.1zM410.3 99.7h1.1v1.1h-1.1zM419.1 95.9h1.1v1.1h-1.1zM406.9 97.4h1.1v1.1h-1.1zM412.3 96.1h1.1v1.1h-1.1zM413.2 93.1h1.1v1.1h-1.1zM426.6 97.0h1.1v1.1h-1.1zM413.3 91.2h1.1v1.1h-1.1zM427.1 90.9h1.1v1.1h-1.1zM425.3 84.3h1.1v1.1h-1.1zM409.9 102.3h1.1v1.1h-1.1zM414.2 93.2h1.1v1.1h-1.1zM426.9 96.1h1.1v1.1h-1.1zM420.8 97.2h1.1v1.1h-1.1zM401.9 102.8h1.1v1.1h-1.1zM411.8 109.6h1.1v1.1h-1.1zM413.7 107.7h1.1v1.1h-1.1zM421.5 91.6h1.1v1.1h-1.1zM424.7 88.2h1.1v1.1h-1.1zM405.2 102.9h1.1v1.1h-1.1zM410.2 108.5h1.1v1.1h-1.1zM412.6 102.6h1.1v1.1h-1.1zM426.5 93.4h1.1v1.1h-1.1zM417.3 98.5h1.1v1.1h-1.1zM410.9 101.8h1.1v1.1h-1.1zM415.2 97.0h1.1v1.1h-1.1zM416.2 102.5h1.1v1.1h-1.1zM421.3 101.2h1.1v1.1h-1.1zM409.7 109.6h1.1v1.1h-1.1zM416.6 104.5h1.1v1.1h-1.1zM416.5 110.8h1.1v1.1h-1.1zM418.5 103.2h1.1v1.1h-1.1zM427.6 107.7h1.1v1.1h-1.1zM406.4 107.3h1.1v1.1h-1.1zM414.6 100.2h1.1v1.1h-1.1zM418.9 103.5h1.1v1.1h-1.1zM420.7 95.3h1.1v1.1h-1.1zM415.9 102.8h1.1v1.1h-1.1zM418.5 96.4h1.1v1.1h-1.1zM422.4 90.2h1.1v1.1h-1.1zM409.6 107.3h1.1v1.1h-1.1zM423.4 94.9h1.1v1.1h-1.1zM415.6 96.3h1.1v1.1h-1.1zM420.8 110.9h1.1v1.1h-1.1zM414.5 99.5h1.1v1.1h-1.1zM418.0 102.8h1.1v1.1h-1.1zM425.1 91.6h1.1v1.1h-1.1zM411.3 109.1h1.1v1.1h-1.1zM421.1 102.1h1.1v1.1h-1.1zM398.5 102.9h1.1v1.1h-1.1zM421.8 86.6h1.1v1.1h-1.1zM423.8 87.8h1.1v1.1h-1.1zM412.5 97.6h1.1v1.1h-1.1zM409.6 98.3h1.1v1.1h-1.1zM412.4 98.3h1.1v1.1h-1.1zM420.1 105.8h1.1v1.1h-1.1zM394.4 98.8h1.1v1.1h-1.1zM411.9 94.5h1.1v1.1h-1.1zM417.9 85.8h1.1v1.1h-1.1zM421.1 98.7h1.1v1.1h-1.1zM421.1 107.9h1.1v1.1h-1.1zM409.3 99.8h1.1v1.1h-1.1zM416.6 89.8h1.1v1.1h-1.1zM411.5 89.7h1.1v1.1h-1.1zM399.4 106.3h1.1v1.1h-1.1zM419.6 99.5h1.1v1.1h-1.1zM418.2 96.9h1.1v1.1h-1.1zM415.5 100.3h1.1v1.1h-1.1zM419.6 98.2h1.1v1.1h-1.1zM415.5 103.3h1.1v1.1h-1.1zM416.0 90.2h1.1v1.1h-1.1zM419.2 92.9h1.1v1.1h-1.1zM429.3 92.0h1.1v1.1h-1.1zM409.3 93.6h1.1v1.1h-1.1zM414.2 103.2h1.1v1.1h-1.1zM407.8 107.8h1.1v1.1h-1.1zM409.6 104.4h1.1v1.1h-1.1zM418.7 99.4h1.1v1.1h-1.1zM409.2 105.9h1.1v1.1h-1.1zM408.1 105.3h1.1v1.1h-1.1zM414.1 105.2h1.1v1.1h-1.1zM417.7 106.3h1.1v1.1h-1.1zM418.3 93.0h1.1v1.1h-1.1zM408.5 102.9h1.1v1.1h-1.1zM411.1 99.9h1.1v1.1h-1.1zM412.5 100.3h1.1v1.1h-1.1zM423.2 90.2h1.1v1.1h-1.1zM402.1 108.2h1.1v1.1h-1.1zM412.9 101.8h1.1v1.1h-1.1zM414.2 111.0h1.1v1.1h-1.1zM414.5 119.9h1.1v1.1h-1.1zM428.3 95.6h1.1v1.1h-1.1zM406.0 105.7h1.1v1.1h-1.1zM404.8 105.7h1.1v1.1h-1.1zM408.8 96.8h1.1v1.1h-1.1zM407.5 104.2h1.1v1.1h-1.1zM413.9 98.3h1.1v1.1h-1.1zM428.1 98.1h1.1v1.1h-1.1zM417.2 99.6h1.1v1.1h-1.1zM414.5 107.0h1.1v1.1h-1.1zM411.0 111.6h1.1v1.1h-1.1zM395.7 102.0h1.1v1.1h-1.1zM428.9 86.9h1.1v1.1h-1.1zM424.1 98.4h1.1v1.1h-1.1zM410.3 95.1h1.1v1.1h-1.1zM417.4 105.2h1.1v1.1h-1.1zM415.6 106.9h1.1v1.1h-1.1zM413.6 107.6h1.1v1.1h-1.1zM409.8 112.1h1.1v1.1h-1.1zM411.3 94.5h1.1v1.1h-1.1zM404.4 95.4h1.1v1.1h-1.1zM413.1 98.5h1.1v1.1h-1.1zM426.0 93.7h1.1v1.1h-1.1zM419.2 101.3h1.1v1.1h-1.1zM416.0 87.9h1.1v1.1h-1.1zM397.1 108.9h1.1v1.1h-1.1zM417.8 101.2h1.1v1.1h-1.1zM415.7 95.3h1.1v1.1h-1.1zM418.8 92.8h1.1v1.1h-1.1zM421.9 102.0h1.1v1.1h-1.1zM410.0 104.5h1.1v1.1h-1.1zM403.2 109.6h1.1v1.1h-1.1zM424.5 102.7h1.1v1.1h-1.1zM417.6 89.2h1.1v1.1h-1.1zM403.6 105.3h1.1v1.1h-1.1zM411.3 97.3h1.1v1.1h-1.1zM406.5 103.0h1.1v1.1h-1.1zM419.8 95.3h1.1v1.1h-1.1zM411.9 104.6h1.1v1.1h-1.1zM415.1 90.2h1.1v1.1h-1.1zM409.8 99.4h1.1v1.1h-1.1zM408.1 93.7h1.1v1.1h-1.1zM422.0 88.2h1.1v1.1h-1.1zM419.8 99.5h1.1v1.1h-1.1zM411.5 102.4h1.1v1.1h-1.1zM404.9 108.0h1.1v1.1h-1.1zM415.4 106.0h1.1v1.1h-1.1zM400.5 109.1h1.1v1.1h-1.1zM420.4 101.4h1.1v1.1h-1.1zM402.2 106.9h1.1v1.1h-1.1zM420.4 97.3h1.1v1.1h-1.1zM429.0 88.8h1.1v1.1h-1.1zM401.1 106.6h1.1v1.1h-1.1zM411.3 101.8h1.1v1.1h-1.1zM418.1 104.5h1.1v1.1h-1.1zM429.9 92.9h1.1v1.1h-1.1zM425.2 89.0h1.1v1.1h-1.1zM403.6 109.9h1.1v1.1h-1.1zM422.3 99.7h1.1v1.1h-1.1zM403.0 109.3h1.1v1.1h-1.1zM412.4 113.4h1.1v1.1h-1.1zM411.5 102.8h1.1v1.1h-1.1zM413.5 110.2h1.1v1.1h-1.1zM422.2 105.6h1.1v1.1h-1.1zM417.1 95.1h1.1v1.1h-1.1zM423.6 85.8h1.1v1.1h-1.1zM411.9 104.5h1.1v1.1h-1.1zM413.5 112.3h1.1v1.1h-1.1zM411.1 104.2h1.1v1.1h-1.1zM414.3 108.1h1.1v1.1h-1.1zM428.3 100.7h1.1v1.1h-1.1zM416.5 94.0h1.1v1.1h-1.1zM413.2 102.4h1.1v1.1h-1.1zM421.5 94.6h1.1v1.1h-1.1zM410.4 98.9h1.1v1.1h-1.1zM406.4 94.8h1.1v1.1h-1.1zM411.1 103.3h1.1v1.1h-1.1zM401.3 100.5h1.1v1.1h-1.1zM426.6 102.5h1.1v1.1h-1.1zM411.5 99.2h1.1v1.1h-1.1zM423.2 89.7h1.1v1.1h-1.1zM404.3 105.4h1.1v1.1h-1.1zM398.6 107.0h1.1v1.1h-1.1zM412.5 87.7h1.1v1.1h-1.1zM411.9 104.4h1.1v1.1h-1.1zM405.7 101.5h1.1v1.1h-1.1zM401.9 108.3h1.1v1.1h-1.1zM408.4 101.9h1.1v1.1h-1.1zM419.2 102.1h1.1v1.1h-1.1zM416.6 111.5h1.1v1.1h-1.1zM424.6 94.2h1.1v1.1h-1.1zM417.3 100.0h1.1v1.1h-1.1zM417.5 100.2h1.1v1.1h-1.1zM410.8 107.2h1.1v1.1h-1.1zM426.5 93.6h1.1v1.1h-1.1zM421.5 102.1h1.1v1.1h-1.1zM412.9 112.2h1.1v1.1h-1.1zM410.0 100.7h1.1v1.1h-1.1zM418.5 100.5h1.1v1.1h-1.1zM420.7 97.4h1.1v1.1h-1.1zM416.4 97.3h1.1v1.1h-1.1zM427.6 105.3h1.1v1.1h-1.1zM400.2 109.7h1.1v1.1h-1.1zM405.3 94.5h1.1v1.1h-1.1zM414.1 105.3h1.1v1.1h-1.1zM425.1 86.8h1.1v1.1h-1.1zM410.7 95.4h1.1v1.1h-1.1zM405.1 101.9h1.1v1.1h-1.1zM418.7 100.4h1.1v1.1h-1.1zM422.0 92.3h1.1v1.1h-1.1zM412.2 107.3h1.1v1.1h-1.1zM410.8 105.5h1.1v1.1h-1.1zM413.9 104.8h1.1v1.1h-1.1zM418.0 100.9h1.1v1.1h-1.1zM408.8 100.2h1.1v1.1h-1.1zM418.5 105.5h1.1v1.1h-1.1zM418.4 98.5h1.1v1.1h-1.1zM417.3 96.3h1.1v1.1h-1.1zM404.0 96.3h1.1v1.1h-1.1zM419.9 99.9h1.1v1.1h-1.1zM416.6 99.8h1.1v1.1h-1.1zM394.9 106.0h1.1v1.1h-1.1zM413.6 103.9h1.1v1.1h-1.1zM405.8 102.7h1.1v1.1h-1.1zM408.4 95.2h1.1v1.1h-1.1zM415.2 89.0h1.1v1.1h-1.1zM411.8 101.1h1.1v1.1h-1.1zM411.0 105.6h1.1v1.1h-1.1zM423.7 90.2h1.1v1.1h-1.1zM421.7 88.1h1.1v1.1h-1.1zM418.5 90.1h1.1v1.1h-1.1zM406.1 103.7h1.1v1.1h-1.1zM413.3 105.9h1.1v1.1h-1.1zM430.3 97.7h1.1v1.1h-1.1zM408.9 106.0h1.1v1.1h-1.1zM418.8 91.4h1.1v1.1h-1.1zM416.0 92.0h1.1v1.1h-1.1zM405.8 109.9h1.1v1.1h-1.1zM413.6 95.1h1.1v1.1h-1.1zM413.7 98.3h1.1v1.1h-1.1zM407.9 93.0h1.1v1.1h-1.1zM421.7 103.0h1.1v1.1h-1.1zM414.2 106.1h1.1v1.1h-1.1zM416.3 103.4h1.1v1.1h-1.1zM413.1 100.7h1.1v1.1h-1.1zM403.0 107.0h1.1v1.1h-1.1zM401.9 98.9h1.1v1.1h-1.1zM421.9 89.1h1.1v1.1h-1.1zM410.5 95.4h1.1v1.1h-1.1zM422.8 103.9h1.1v1.1h-1.1zM419.3 94.3h1.1v1.1h-1.1zM424.8 88.4h1.1v1.1h-1.1zM414.6 113.2h1.1v1.1h-1.1zM399.7 104.6h1.1v1.1h-1.1zM424.1 94.3h1.1v1.1h-1.1zM410.1 103.6h1.1v1.1h-1.1zM408.7 95.1h1.1v1.1h-1.1zM413.8 105.4h1.1v1.1h-1.1zM409.8 102.4h1.1v1.1h-1.1zM413.7 97.0h1.1v1.1h-1.1zM393.6 104.5h1.1v1.1h-1.1zM430.1 86.0h1.1v1.1h-1.1zM425.6 105.5h1.1v1.1h-1.1zM419.5 106.3h1.1v1.1h-1.1zM413.3 92.8h1.1v1.1h-1.1zM428.3 97.8h1.1v1.1h-1.1zM422.8 86.6h1.1v1.1h-1.1zM409.3 102.7h1.1v1.1h-1.1zM428.4 89.7h1.1v1.1h-1.1zM416.0 103.4h1.1v1.1h-1.1zM431.6 99.0h1.1v1.1h-1.1zM420.5 108.6h1.1v1.1h-1.1zM422.6 102.1h1.1v1.1h-1.1zM421.6 98.5h1.1v1.1h-1.1zM425.9 92.0h1.1v1.1h-1.1zM418.9 97.9h1.1v1.1h-1.1zM430.8 87.5h1.1v1.1h-1.1zM407.0 94.8h1.1v1.1h-1.1zM412.4 98.4h1.1v1.1h-1.1zM407.1 106.9h1.1v1.1h-1.1zM413.9 112.0h1.1v1.1h-1.1zM398.0 109.3h1.1v1.1h-1.1zM423.1 103.0h1.1v1.1h-1.1zM422.5 87.8h1.1v1.1h-1.1zM421.2 100.0h1.1v1.1h-1.1zM414.7 101.5h1.1v1.1h-1.1zM412.5 102.9h1.1v1.1h-1.1zM408.8 111.4h1.1v1.1h-1.1zM408.8 102.3h1.1v1.1h-1.1zM398.1 106.1h1.1v1.1h-1.1zM410.8 108.7h1.1v1.1h-1.1zM418.7 94.0h1.1v1.1h-1.1zM415.0 107.9h1.1v1.1h-1.1zM411.2 115.3h1.1v1.1h-1.1zM420.2 88.0h1.1v1.1h-1.1zM402.1 95.4h1.1v1.1h-1.1zM408.1 103.5h1.1v1.1h-1.1zM426.8 95.3h1.1v1.1h-1.1zM423.4 96.7h1.1v1.1h-1.1zM414.0 89.0h1.1v1.1h-1.1zM416.1 92.0h1.1v1.1h-1.1zM419.7 95.9h1.1v1.1h-1.1zM424.8 93.6h1.1v1.1h-1.1zM419.2 101.5h1.1v1.1h-1.1zM410.4 102.5h1.1v1.1h-1.1zM405.8 110.1h1.1v1.1h-1.1zM422.9 88.2h1.1v1.1h-1.1zM411.9 112.2h1.1v1.1h-1.1zM403.3 105.9h1.1v1.1h-1.1zM412.6 116.8h1.1v1.1h-1.1zM405.6 109.6h1.1v1.1h-1.1zM417.4 98.6h1.1v1.1h-1.1zM425.8 99.3h1.1v1.1h-1.1zM422.0 108.8h1.1v1.1h-1.1zM418.2 109.2h1.1v1.1h-1.1zM421.2 93.1h1.1v1.1h-1.1zM421.7 80.6h1.1v1.1h-1.1zM417.6 90.5h1.1v1.1h-1.1zM412.2 104.3h1.1v1.1h-1.1zM398.8 108.9h1.1v1.1h-1.1zM411.9 108.1h1.1v1.1h-1.1zM417.8 103.8h1.1v1.1h-1.1zM427.7 89.5h1.1v1.1h-1.1zM423.9 102.0h1.1v1.1h-1.1zM414.3 106.6h1.1v1.1h-1.1zM416.2 91.4h1.1v1.1h-1.1zM427.2 99.9h1.1v1.1h-1.1zM409.7 102.5h1.1v1.1h-1.1zM416.7 88.9h1.1v1.1h-1.1zM415.1 95.0h1.1v1.1h-1.1zM420.2 93.4h1.1v1.1h-1.1zM414.2 95.6h1.1v1.1h-1.1zM420.6 96.7h1.1v1.1h-1.1zM406.5 101.9h1.1v1.1h-1.1zM417.8 94.3h1.1v1.1h-1.1zM405.0 106.0h1.1v1.1h-1.1zM421.7 95.3h1.1v1.1h-1.1zM412.1 88.4h1.1v1.1h-1.1zM418.7 103.1h1.1v1.1h-1.1zM417.8 88.0h1.1v1.1h-1.1zM412.4 113.6h1.1v1.1h-1.1zM409.4 99.3h1.1v1.1h-1.1zM425.9 94.2h1.1v1.1h-1.1zM406.2 99.4h1.1v1.1h-1.1zM407.0 96.2h1.1v1.1h-1.1zM394.5 107.2h1.1v1.1h-1.1zM410.8 99.3h1.1v1.1h-1.1zM422.4 89.5h1.1v1.1h-1.1zM420.0 106.4h1.1v1.1h-1.1zM404.8 101.0h1.1v1.1h-1.1zM427.6 90.3h1.1v1.1h-1.1zM414.6 112.5h1.1v1.1h-1.1zM406.3 103.1h1.1v1.1h-1.1zM420.2 101.7h1.1v1.1h-1.1zM414.5 87.7h1.1v1.1h-1.1zM411.7 117.2h1.1v1.1h-1.1zM417.1 93.6h1.1v1.1h-1.1zM421.1 91.6h1.1v1.1h-1.1zM412.5 111.1h1.1v1.1h-1.1zM401.9 108.1h1.1v1.1h-1.1zM404.6 97.1h1.1v1.1h-1.1zM425.0 104.0h1.1v1.1h-1.1zM417.5 89.4h1.1v1.1h-1.1zM418.7 105.3h1.1v1.1h-1.1zM424.5 100.6h1.1v1.1h-1.1zM418.9 99.3h1.1v1.1h-1.1zM415.7 110.6h1.1v1.1h-1.1zM410.6 108.6h1.1v1.1h-1.1zM423.2 88.5h1.1v1.1h-1.1zM420.0 100.8h1.1v1.1h-1.1zM413.1 97.5h1.1v1.1h-1.1zM422.3 87.5h1.1v1.1h-1.1zM431.1 86.8h1.1v1.1h-1.1zM401.0 105.7h1.1v1.1h-1.1zM426.6 88.9h1.1v1.1h-1.1zM416.5 94.7h1.1v1.1h-1.1zM421.8 91.1h1.1v1.1h-1.1zM411.1 94.4h1.1v1.1h-1.1zM407.1 102.9h1.1v1.1h-1.1zM409.5 108.0h1.1v1.1h-1.1zM418.2 102.1h1.1v1.1h-1.1zM428.4 98.4h1.1v1.1h-1.1zM412.2 103.7h1.1v1.1h-1.1zM415.4 101.8h1.1v1.1h-1.1zM423.8 88.0h1.1v1.1h-1.1zM417.1 107.9h1.1v1.1h-1.1zM402.9 107.3h1.1v1.1h-1.1zM410.1 108.0h1.1v1.1h-1.1zM422.7 94.5h1.1v1.1h-1.1zM417.7 98.1h1.1v1.1h-1.1zM409.2 105.7h1.1v1.1h-1.1zM405.4 108.1h1.1v1.1h-1.1zM414.1 94.7h1.1v1.1h-1.1zM410.6 100.2h1.1v1.1h-1.1zM417.6 106.6h1.1v1.1h-1.1zM407.8 105.8h1.1v1.1h-1.1zM414.8 105.3h1.1v1.1h-1.1zM408.4 97.9h1.1v1.1h-1.1zM416.3 117.6h1.1v1.1h-1.1zM422.7 110.4h1.1v1.1h-1.1zM429.5 91.9h1.1v1.1h-1.1zM414.8 103.2h1.1v1.1h-1.1zM414.0 100.4h1.1v1.1h-1.1zM427.9 96.5h1.1v1.1h-1.1zM411.5 108.1h1.1v1.1h-1.1zM409.2 102.9h1.1v1.1h-1.1zM412.2 101.3h1.1v1.1h-1.1zM414.9 94.7h1.1v1.1h-1.1zM431.0 92.5h1.1v1.1h-1.1zM409.7 104.8h1.1v1.1h-1.1zM416.9 96.1h1.1v1.1h-1.1zM419.9 103.6h1.1v1.1h-1.1zM415.9 97.2h1.1v1.1h-1.1zM413.2 97.0h1.1v1.1h-1.1zM416.8 105.8h1.1v1.1h-1.1zM427.1 101.3h1.1v1.1h-1.1zM414.7 100.0h1.1v1.1h-1.1zM412.1 94.1h1.1v1.1h-1.1zM412.9 101.9h1.1v1.1h-1.1zM427.3 99.4h1.1v1.1h-1.1zM411.3 103.7h1.1v1.1h-1.1zM425.5 95.9h1.1v1.1h-1.1zM419.9 93.0h1.1v1.1h-1.1zM413.4 97.0h1.1v1.1h-1.1zM423.4 96.2h1.1v1.1h-1.1zM420.7 89.2h1.1v1.1h-1.1zM416.6 95.6h1.1v1.1h-1.1zM415.4 107.6h1.1v1.1h-1.1zM424.8 86.2h1.1v1.1h-1.1zM422.3 90.7h1.1v1.1h-1.1zM400.2 108.8h1.1v1.1h-1.1zM415.3 105.4h1.1v1.1h-1.1zM410.6 113.7h1.1v1.1h-1.1zM409.0 105.8h1.1v1.1h-1.1zM427.0 94.0h1.1v1.1h-1.1zM419.2 94.4h1.1v1.1h-1.1zM420.8 95.3h1.1v1.1h-1.1zM397.9 109.4h1.1v1.1h-1.1zM424.4 100.3h1.1v1.1h-1.1zM415.1 102.5h1.1v1.1h-1.1zM416.6 98.4h1.1v1.1h-1.1zM407.0 91.9h1.1v1.1h-1.1zM411.4 93.6h1.1v1.1h-1.1zM427.9 92.2h1.1v1.1h-1.1zM421.6 96.7h1.1v1.1h-1.1zM414.6 99.8h1.1v1.1h-1.1zM416.1 102.9h1.1v1.1h-1.1zM429.0 88.7h1.1v1.1h-1.1zM414.3 89.3h1.1v1.1h-1.1zM416.0 92.3h1.1v1.1h-1.1zM422.6 85.4h1.1v1.1h-1.1zM414.8 101.0h1.1v1.1h-1.1zM424.7 98.4h1.1v1.1h-1.1zM422.6 100.7h1.1v1.1h-1.1zM408.8 113.2h1.1v1.1h-1.1zM416.7 101.7h1.1v1.1h-1.1zM423.2 89.5h1.1v1.1h-1.1zM408.3 100.1h1.1v1.1h-1.1zM428.6 86.6h1.1v1.1h-1.1zM409.3 105.2h1.1v1.1h-1.1zM412.6 106.8h1.1v1.1h-1.1zM409.5 104.4h1.1v1.1h-1.1zM425.9 91.2h1.1v1.1h-1.1zM410.5 102.4h1.1v1.1h-1.1zM419.1 110.4h1.1v1.1h-1.1zM417.9 100.4h1.1v1.1h-1.1zM406.8 104.1h1.1v1.1h-1.1zM416.6 103.0h1.1v1.1h-1.1zM414.7 101.7h1.1v1.1h-1.1zM417.3 96.7h1.1v1.1h-1.1zM414.5 110.1h1.1v1.1h-1.1zM401.2 108.7h1.1v1.1h-1.1zM408.9 119.3h1.1v1.1h-1.1zM418.9 109.4h1.1v1.1h-1.1zM426.3 87.4h1.1v1.1h-1.1zM422.9 99.0h1.1v1.1h-1.1zM419.8 99.0h1.1v1.1h-1.1zM424.6 93.9h1.1v1.1h-1.1zM415.0 105.8h1.1v1.1h-1.1zM408.4 100.7h1.1v1.1h-1.1zM410.9 101.7h1.1v1.1h-1.1zM430.5 90.4h1.1v1.1h-1.1zM410.4 99.7h1.1v1.1h-1.1zM412.2 102.5h1.1v1.1h-1.1zM408.9 91.8h1.1v1.1h-1.1zM422.7 96.0h1.1v1.1h-1.1zM422.4 105.6h1.1v1.1h-1.1zM430.5 93.4h1.1v1.1h-1.1zM410.4 105.7h1.1v1.1h-1.1zM420.5 100.7h1.1v1.1h-1.1zM410.7 109.6h1.1v1.1h-1.1zM416.2 91.9h1.1v1.1h-1.1zM411.3 111.3h1.1v1.1h-1.1zM424.0 94.5h1.1v1.1h-1.1zM428.7 92.7h1.1v1.1h-1.1zM418.3 98.0h1.1v1.1h-1.1zM413.0 96.8h1.1v1.1h-1.1zM415.7 100.5h1.1v1.1h-1.1zM407.5 96.6h1.1v1.1h-1.1zM419.9 96.1h1.1v1.1h-1.1zM419.9 107.7h1.1v1.1h-1.1zM411.4 98.5h1.1v1.1h-1.1zM426.7 87.2h1.1v1.1h-1.1zM413.2 97.0h1.1v1.1h-1.1zM427.8 90.3h1.1v1.1h-1.1zM411.8 101.2h1.1v1.1h-1.1zM415.3 99.7h1.1v1.1h-1.1zM409.4 103.0h1.1v1.1h-1.1zM419.3 90.9h1.1v1.1h-1.1zM428.6 89.3h1.1v1.1h-1.1zM405.7 97.5h1.1v1.1h-1.1zM414.5 98.1h1.1v1.1h-1.1zM407.6 100.8h1.1v1.1h-1.1zM414.2 108.5h1.1v1.1h-1.1zM415.2 103.5h1.1v1.1h-1.1zM423.0 95.4h1.1v1.1h-1.1zM416.1 101.1h1.1v1.1h-1.1zM419.5 100.6h1.1v1.1h-1.1zM429.2 96.8h1.1v1.1h-1.1zM413.3 107.3h1.1v1.1h-1.1zM419.8 95.6h1.1v1.1h-1.1zM419.7 98.3h1.1v1.1h-1.1zM411.8 111.6h1.1v1.1h-1.1zM413.1 106.2h1.1v1.1h-1.1zM415.4 97.6h1.1v1.1h-1.1zM423.3 93.2h1.1v1.1h-1.1zM411.4 111.7h1.1v1.1h-1.1zM413.4 99.5h1.1v1.1h-1.1zM423.2 94.1h1.1v1.1h-1.1zM415.3 104.1h1.1v1.1h-1.1zM418.5 102.4h1.1v1.1h-1.1zM403.6 105.2h1.1v1.1h-1.1zM417.5 94.6h1.1v1.1h-1.1zM419.1 102.1h1.1v1.1h-1.1zM398.8 108.1h1.1v1.1h-1.1zM412.8 98.1h1.1v1.1h-1.1zM412.3 96.2h1.1v1.1h-1.1zM401.8 105.8h1.1v1.1h-1.1zM425.0 87.5h1.1v1.1h-1.1zM419.8 100.3h1.1v1.1h-1.1zM422.9 91.4h1.1v1.1h-1.1zM418.9 91.5h1.1v1.1h-1.1zM414.8 103.8h1.1v1.1h-1.1zM418.9 91.2h1.1v1.1h-1.1zM414.8 96.1h1.1v1.1h-1.1zM409.3 104.8h1.1v1.1h-1.1zM420.4 92.4h1.1v1.1h-1.1zM418.7 94.7h1.1v1.1h-1.1zM418.4 106.4h1.1v1.1h-1.1zM436.6 92.7h1.1v1.1h-1.1zM412.3 98.8h1.1v1.1h-1.1zM420.1 99.2h1.1v1.1h-1.1zM418.8 94.0h1.1v1.1h-1.1zM424.8 94.6h1.1v1.1h-1.1zM415.2 103.2h1.1v1.1h-1.1zM405.8 107.8h1.1v1.1h-1.1zM412.6 92.7h1.1v1.1h-1.1zM409.9 102.8h1.1v1.1h-1.1zM424.8 91.8h1.1v1.1h-1.1zM414.2 100.3h1.1v1.1h-1.1zM411.6 110.9h1.1v1.1h-1.1zM423.5 91.0h1.1v1.1h-1.1zM418.0 106.4h1.1v1.1h-1.1zM410.9 96.2h1.1v1.1h-1.1zM418.8 86.6h1.1v1.1h-1.1zM430.0 89.8h1.1v1.1h-1.1zM422.2 98.8h1.1v1.1h-1.1zM420.1 98.1h1.1v1.1h-1.1zM411.0 94.9h1.1v1.1h-1.1zM418.0 99.3h1.1v1.1h-1.1zM413.7 99.9h1.1v1.1h-1.1zM408.9 105.1h1.1v1.1h-1.1zM413.8 90.6h1.1v1.1h-1.1zM400.0 109.0h1.1v1.1h-1.1zM425.4 93.0h1.1v1.1h-1.1zM426.8 89.5h1.1v1.1h-1.1zM411.0 91.3h1.1v1.1h-1.1zM408.4 89.0h1.1v1.1h-1.1zM406.8 102.0h1.1v1.1h-1.1zM402.3 104.1h1.1v1.1h-1.1zM422.2 92.5h1.1v1.1h-1.1zM417.1 87.0h1.1v1.1h-1.1zM426.4 89.4h1.1v1.1h-1.1zM409.7 97.9h1.1v1.1h-1.1zM416.4 95.1h1.1v1.1h-1.1zM417.9 91.1h1.1v1.1h-1.1zM419.3 94.5h1.1v1.1h-1.1zM415.8 91.5h1.1v1.1h-1.1zM404.3 108.9h1.1v1.1h-1.1zM427.7 94.9h1.1v1.1h-1.1zM424.0 94.3h1.1v1.1h-1.1zM421.2 93.9h1.1v1.1h-1.1zM399.3 97.8h1.1v1.1h-1.1zM423.3 97.8h1.1v1.1h-1.1zM423.7 101.8h1.1v1.1h-1.1zM409.9 105.8h1.1v1.1h-1.1zM409.3 95.6h1.1v1.1h-1.1zM414.8 90.8h1.1v1.1h-1.1zM411.3 99.0h1.1v1.1h-1.1zM403.6 105.2h1.1v1.1h-1.1zM413.9 104.1h1.1v1.1h-1.1zM418.6 107.0h1.1v1.1h-1.1zM415.0 101.5h1.1v1.1h-1.1zM416.0 109.6h1.1v1.1h-1.1zM411.3 96.6h1.1v1.1h-1.1zM420.7 96.2h1.1v1.1h-1.1zM409.9 94.0h1.1v1.1h-1.1zM401.6 105.5h1.1v1.1h-1.1zM416.6 102.7h1.1v1.1h-1.1zM412.7 97.9h1.1v1.1h-1.1zM412.9 100.6h1.1v1.1h-1.1zM417.3 92.8h1.1v1.1h-1.1zM410.3 103.8h1.1v1.1h-1.1zM408.3 110.2h1.1v1.1h-1.1zM415.2 107.7h1.1v1.1h-1.1zM415.1 93.2h1.1v1.1h-1.1zM426.9 87.7h1.1v1.1h-1.1zM415.7 94.0h1.1v1.1h-1.1zM430.4 88.3h1.1v1.1h-1.1zM425.2 99.3h1.1v1.1h-1.1zM409.2 114.6h1.1v1.1h-1.1zM420.4 96.2h1.1v1.1h-1.1zM418.0 103.6h1.1v1.1h-1.1zM406.8 95.3h1.1v1.1h-1.1zM426.0 96.5h1.1v1.1h-1.1zM414.1 100.3h1.1v1.1h-1.1zM412.3 100.5h1.1v1.1h-1.1zM419.6 95.9h1.1v1.1h-1.1zM414.2 101.9h1.1v1.1h-1.1zM412.2 97.7h1.1v1.1h-1.1zM418.2 117.8h1.1v1.1h-1.1zM418.3 96.9h1.1v1.1h-1.1zM404.8 103.1h1.1v1.1h-1.1zM406.8 101.9h1.1v1.1h-1.1zM407.0 107.7h1.1v1.1h-1.1zM417.2 97.4h1.1v1.1h-1.1zM414.8 98.0h1.1v1.1h-1.1zM406.4 96.3h1.1v1.1h-1.1zM416.4 105.7h1.1v1.1h-1.1zM408.3 106.9h1.1v1.1h-1.1zM426.5 93.2h1.1v1.1h-1.1zM418.4 95.9h1.1v1.1h-1.1zM414.4 107.7h1.1v1.1h-1.1zM415.4 105.2h1.1v1.1h-1.1zM425.1 102.9h1.1v1.1h-1.1zM421.3 89.1h1.1v1.1h-1.1zM413.9 91.2h1.1v1.1h-1.1zM425.5 102.2h1.1v1.1h-1.1zM413.0 99.3h1.1v1.1h-1.1zM412.2 111.1h1.1v1.1h-1.1zM416.1 95.9h1.1v1.1h-1.1zM411.3 105.8h1.1v1.1h-1.1zM411.8 107.7h1.1v1.1h-1.1zM409.8 98.1h1.1v1.1h-1.1zM427.1 86.5h1.1v1.1h-1.1zM412.5 97.1h1.1v1.1h-1.1zM409.7 114.1h1.1v1.1h-1.1zM413.3 96.3h1.1v1.1h-1.1zM413.0 107.3h1.1v1.1h-1.1zM415.5 95.8h1.1v1.1h-1.1zM423.2 105.8h1.1v1.1h-1.1zM418.4 114.8h1.1v1.1h-1.1zM419.3 102.2h1.1v1.1h-1.1zM403.1 101.7h1.1v1.1h-1.1zM423.9 88.4h1.1v1.1h-1.1zM415.9 98.4h1.1v1.1h-1.1zM409.3 106.5h1.1v1.1h-1.1zM413.9 98.2h1.1v1.1h-1.1zM400.6 106.1h1.1v1.1h-1.1zM416.0 97.9h1.1v1.1h-1.1zM403.7 106.3h1.1v1.1h-1.1zM408.5 96.3h1.1v1.1h-1.1zM412.4 96.9h1.1v1.1h-1.1zM418.7 103.7h1.1v1.1h-1.1zM412.2 105.5h1.1v1.1h-1.1zM410.1 104.2h1.1v1.1h-1.1zM410.0 103.4h1.1v1.1h-1.1zM417.3 98.9h1.1v1.1h-1.1zM404.5 99.0h1.1v1.1h-1.1zM415.7 97.3h1.1v1.1h-1.1zM418.0 95.7h1.1v1.1h-1.1zM414.9 96.8h1.1v1.1h-1.1zM418.9 104.2h1.1v1.1h-1.1zM410.2 102.2h1.1v1.1h-1.1zM405.5 90.8h1.1v1.1h-1.1zM417.4 94.5h1.1v1.1h-1.1zM420.7 110.0h1.1v1.1h-1.1zM424.8 95.5h1.1v1.1h-1.1zM427.2 91.2h1.1v1.1h-1.1zM407.8 99.8h1.1v1.1h-1.1zM416.9 110.1h1.1v1.1h-1.1zM416.4 95.7h1.1v1.1h-1.1zM418.7 97.8h1.1v1.1h-1.1zM420.4 101.3h1.1v1.1h-1.1zM411.5 98.5h1.1v1.1h-1.1zM421.5 99.2h1.1v1.1h-1.1zM415.7 89.4h1.1v1.1h-1.1zM409.1 102.5h1.1v1.1h-1.1zM413.3 102.7h1.1v1.1h-1.1zM420.2 105.2h1.1v1.1h-1.1zM429.2 97.4h1.1v1.1h-1.1zM409.8 98.8h1.1v1.1h-1.1zM405.9 104.8h1.1v1.1h-1.1zM409.8 103.2h1.1v1.1h-1.1zM409.1 90.9h1.1v1.1h-1.1zM400.7 109.2h1.1v1.1h-1.1zM429.5 94.1h1.1v1.1h-1.1zM406.7 92.7h1.1v1.1h-1.1zM421.3 107.4h1.1v1.1h-1.1zM408.6 96.4h1.1v1.1h-1.1zM396.9 108.9h1.1v1.1h-1.1zM418.2 90.8h1.1v1.1h-1.1zM399.8 104.1h1.1v1.1h-1.1zM398.7 105.2h1.1v1.1h-1.1zM430.9 97.0h1.1v1.1h-1.1zM413.2 111.7h1.1v1.1h-1.1zM405.4 108.1h1.1v1.1h-1.1zM423.6 104.3h1.1v1.1h-1.1zM420.2 99.0h1.1v1.1h-1.1zM408.2 102.6h1.1v1.1h-1.1zM418.7 93.2h1.1v1.1h-1.1zM416.6 97.8h1.1v1.1h-1.1zM416.3 104.1h1.1v1.1h-1.1zM404.5 109.1h1.1v1.1h-1.1zM429.9 102.7h1.1v1.1h-1.1zM404.7 101.2h1.1v1.1h-1.1zM424.6 96.1h1.1v1.1h-1.1zM429.4 93.3h1.1v1.1h-1.1zM400.4 101.3h1.1v1.1h-1.1zM411.2 105.8h1.1v1.1h-1.1zM413.0 95.9h1.1v1.1h-1.1zM392.5 108.9h1.1v1.1h-1.1zM414.4 104.6h1.1v1.1h-1.1zM416.7 99.9h1.1v1.1h-1.1zM416.0 106.9h1.1v1.1h-1.1zM420.8 90.1h1.1v1.1h-1.1zM426.7 100.5h1.1v1.1h-1.1zM408.2 103.2h1.1v1.1h-1.1zM420.2 108.3h1.1v1.1h-1.1zM410.3 90.6h1.1v1.1h-1.1zM423.8 92.2h1.1v1.1h-1.1zM400.0 107.6h1.1v1.1h-1.1zM420.6 97.1h1.1v1.1h-1.1zM408.5 100.8h1.1v1.1h-1.1zM415.9 104.3h1.1v1.1h-1.1zM413.5 105.5h1.1v1.1h-1.1zM418.0 102.0h1.1v1.1h-1.1zM426.2 94.4h1.1v1.1h-1.1zM422.6 107.5h1.1v1.1h-1.1zM394.8 108.0h1.1v1.1h-1.1zM413.9 100.1h1.1v1.1h-1.1zM426.5 93.0h1.1v1.1h-1.1zM417.9 89.8h1.1v1.1h-1.1zM420.9 101.9h1.1v1.1h-1.1zM410.3 108.4h1.1v1.1h-1.1zM408.9 99.2h1.1v1.1h-1.1zM414.7 100.4h1.1v1.1h-1.1zM401.7 104.0h1.1v1.1h-1.1zM416.8 104.1h1.1v1.1h-1.1zM409.4 97.4h1.1v1.1h-1.1zM415.2 91.7h1.1v1.1h-1.1zM420.5 97.9h1.1v1.1h-1.1zM419.8 107.1h1.1v1.1h-1.1zM415.2 105.8h1.1v1.1h-1.1zM424.6 93.8h1.1v1.1h-1.1zM416.4 97.8h1.1v1.1h-1.1zM423.3 102.7h1.1v1.1h-1.1zM417.2 92.2h1.1v1.1h-1.1zM401.0 103.8h1.1v1.1h-1.1zM411.9 98.8h1.1v1.1h-1.1zM415.8 93.5h1.1v1.1h-1.1zM410.7 108.9h1.1v1.1h-1.1zM415.3 96.0h1.1v1.1h-1.1zM418.0 95.2h1.1v1.1h-1.1zM406.0 101.6h1.1v1.1h-1.1zM414.5 93.6h1.1v1.1h-1.1zM425.0 93.4h1.1v1.1h-1.1zM413.4 93.1h1.1v1.1h-1.1zM415.8 96.4h1.1v1.1h-1.1zM424.1 86.7h1.1v1.1h-1.1zM423.8 93.4h1.1v1.1h-1.1zM405.4 104.0h1.1v1.1h-1.1zM401.5 105.0h1.1v1.1h-1.1zM408.9 104.0h1.1v1.1h-1.1zM425.4 97.4h1.1v1.1h-1.1zM402.4 104.9h1.1v1.1h-1.1zM423.9 95.3h1.1v1.1h-1.1zM406.1 106.8h1.1v1.1h-1.1zM421.0 112.1h1.1v1.1h-1.1zM416.6 93.6h1.1v1.1h-1.1zM428.7 97.2h1.1v1.1h-1.1zM395.2 105.4h1.1v1.1h-1.1zM414.3 98.0h1.1v1.1h-1.1zM430.9 92.7h1.1v1.1h-1.1zM421.4 93.2h1.1v1.1h-1.1zM395.9 107.8h1.1v1.1h-1.1zM404.1 104.1h1.1v1.1h-1.1zM427.9 92.3h1.1v1.1h-1.1zM405.8 108.7h1.1v1.1h-1.1zM401.6 107.3h1.1v1.1h-1.1zM418.5 102.5h1.1v1.1h-1.1zM405.5 104.7h1.1v1.1h-1.1zM395.2 107.9h1.1v1.1h-1.1zM407.9 108.9h1.1v1.1h-1.1zM400.1 103.6h1.1v1.1h-1.1zM416.7 89.6h1.1v1.1h-1.1zM419.6 95.4h1.1v1.1h-1.1zM413.3 99.7h1.1v1.1h-1.1zM407.0 96.8h1.1v1.1h-1.1zM418.4 112.7h1.1v1.1h-1.1zM426.3 92.4h1.1v1.1h-1.1zM418.3 98.8h1.1v1.1h-1.1zM424.4 94.8h1.1v1.1h-1.1zM413.7 90.7h1.1v1.1h-1.1zM422.5 98.7h1.1v1.1h-1.1zM416.8 98.2h1.1v1.1h-1.1zM415.0 99.5h1.1v1.1h-1.1zM415.9 109.4h1.1v1.1h-1.1zM416.8 96.0h1.1v1.1h-1.1zM414.8 91.9h1.1v1.1h-1.1zM411.6 120.5h1.1v1.1h-1.1zM390.5 109.3h1.1v1.1h-1.1zM404.6 107.9h1.1v1.1h-1.1zM411.4 98.9h1.1v1.1h-1.1zM414.7 96.9h1.1v1.1h-1.1zM416.2 94.0h1.1v1.1h-1.1zM415.2 102.8h1.1v1.1h-1.1zM422.7 91.4h1.1v1.1h-1.1zM421.8 103.0h1.1v1.1h-1.1zM406.4 102.9h1.1v1.1h-1.1zM433.2 87.6h1.1v1.1h-1.1zM410.3 106.6h1.1v1.1h-1.1zM415.0 94.3h1.1v1.1h-1.1zM414.2 102.0h1.1v1.1h-1.1zM425.3 102.4h1.1v1.1h-1.1zM413.3 102.3h1.1v1.1h-1.1zM420.5 102.2h1.1v1.1h-1.1zM412.7 110.9h1.1v1.1h-1.1zM416.6 106.2h1.1v1.1h-1.1zM407.4 101.6h1.1v1.1h-1.1zM404.0 95.9h1.1v1.1h-1.1zM424.5 103.4h1.1v1.1h-1.1zM402.3 102.0h1.1v1.1h-1.1zM408.2 97.4h1.1v1.1h-1.1zM417.7 86.1h1.1v1.1h-1.1zM406.8 108.2h1.1v1.1h-1.1zM418.2 98.8h1.1v1.1h-1.1zM430.4 90.6h1.1v1.1h-1.1zM418.1 87.7h1.1v1.1h-1.1zM418.3 98.6h1.1v1.1h-1.1zM416.5 102.3h1.1v1.1h-1.1zM411.7 100.3h1.1v1.1h-1.1zM423.7 97.6h1.1v1.1h-1.1zM415.9 105.1h1.1v1.1h-1.1zM417.8 108.1h1.1v1.1h-1.1zM420.2 90.6h1.1v1.1h-1.1zM415.6 104.9h1.1v1.1h-1.1zM412.5 107.7h1.1v1.1h-1.1zM394.4 109.0h1.1v1.1h-1.1zM418.7 104.8h1.1v1.1h-1.1zM422.9 98.3h1.1v1.1h-1.1zM425.0 93.2h1.1v1.1h-1.1zM421.0 86.6h1.1v1.1h-1.1zM418.1 89.0h1.1v1.1h-1.1zM415.8 103.5h1.1v1.1h-1.1zM411.2 109.5h1.1v1.1h-1.1zM407.6 94.7h1.1v1.1h-1.1zM423.3 90.8h1.1v1.1h-1.1zM425.4 83.2h1.1v1.1h-1.1zM423.0 91.0h1.1v1.1h-1.1zM416.4 105.7h1.1v1.1h-1.1zM420.3 97.2h1.1v1.1h-1.1zM419.8 85.9h1.1v1.1h-1.1zM416.7 95.7h1.1v1.1h-1.1zM406.1 109.3h1.1v1.1h-1.1zM418.4 102.5h1.1v1.1h-1.1zM420.9 97.4h1.1v1.1h-1.1zM427.2 94.1h1.1v1.1h-1.1zM430.4 87.7h1.1v1.1h-1.1zM410.0 111.9h1.1v1.1h-1.1zM423.2 98.6h1.1v1.1h-1.1zM413.5 112.7h1.1v1.1h-1.1zM411.2 96.3h1.1v1.1h-1.1zM432.6 99.7h1.1v1.1h-1.1zM416.7 89.7h1.1v1.1h-1.1zM414.8 97.3h1.1v1.1h-1.1zM409.7 98.9h1.1v1.1h-1.1zM410.8 106.9h1.1v1.1h-1.1zM422.9 97.3h1.1v1.1h-1.1zM402.7 106.6h1.1v1.1h-1.1zM412.5 101.4h1.1v1.1h-1.1zM413.7 98.3h1.1v1.1h-1.1zM406.5 99.1h1.1v1.1h-1.1zM414.0 107.7h1.1v1.1h-1.1zM427.8 91.2h1.1v1.1h-1.1zM413.1 108.3h1.1v1.1h-1.1zM410.1 109.1h1.1v1.1h-1.1zM421.2 95.5h1.1v1.1h-1.1zM417.6 98.4h1.1v1.1h-1.1zM425.2 90.0h1.1v1.1h-1.1zM412.9 94.4h1.1v1.1h-1.1zM413.6 116.9h1.1v1.1h-1.1zM427.9 88.5h1.1v1.1h-1.1zM414.3 101.7h1.1v1.1h-1.1zM422.0 91.4h1.1v1.1h-1.1zM422.4 94.5h1.1v1.1h-1.1zM413.3 102.6h1.1v1.1h-1.1zM415.3 101.2h1.1v1.1h-1.1zM413.6 97.6h1.1v1.1h-1.1zM417.7 100.8h1.1v1.1h-1.1zM421.8 96.3h1.1v1.1h-1.1zM425.0 96.6h1.1v1.1h-1.1zM395.3 103.2h1.1v1.1h-1.1zM399.6 109.4h1.1v1.1h-1.1zM426.7 83.6h1.1v1.1h-1.1zM421.7 86.5h1.1v1.1h-1.1zM411.5 100.0h1.1v1.1h-1.1zM401.5 105.9h1.1v1.1h-1.1zM412.9 106.1h1.1v1.1h-1.1zM417.0 107.5h1.1v1.1h-1.1zM396.0 107.3h1.1v1.1h-1.1zM412.0 99.5h1.1v1.1h-1.1zM415.2 96.9h1.1v1.1h-1.1zM416.2 92.3h1.1v1.1h-1.1zM402.3 108.4h1.1v1.1h-1.1zM417.1 98.2h1.1v1.1h-1.1zM407.1 105.8h1.1v1.1h-1.1zM417.2 103.7h1.1v1.1h-1.1zM419.6 100.8h1.1v1.1h-1.1zM420.4 90.8h1.1v1.1h-1.1zM405.9 105.3h1.1v1.1h-1.1zM417.3 103.3h1.1v1.1h-1.1zM412.1 115.3h1.1v1.1h-1.1zM402.8 110.0h1.1v1.1h-1.1zM427.2 93.1h1.1v1.1h-1.1zM414.3 98.7h1.1v1.1h-1.1zM419.5 93.0h1.1v1.1h-1.1zM422.3 87.9h1.1v1.1h-1.1zM405.9 106.6h1.1v1.1h-1.1zM412.2 99.1h1.1v1.1h-1.1zM408.4 101.0h1.1v1.1h-1.1zM429.0 92.8h1.1v1.1h-1.1zM408.4 105.2h1.1v1.1h-1.1zM418.0 96.6h1.1v1.1h-1.1zM425.9 98.3h1.1v1.1h-1.1zM416.8 90.4h1.1v1.1h-1.1zM422.5 90.1h1.1v1.1h-1.1zM410.6 102.0h1.1v1.1h-1.1zM419.3 107.7h1.1v1.1h-1.1zM408.9 106.8h1.1v1.1h-1.1zM413.0 109.2h1.1v1.1h-1.1zM413.5 104.7h1.1v1.1h-1.1zM415.0 100.9h1.1v1.1h-1.1zM412.1 96.3h1.1v1.1h-1.1zM413.9 98.7h1.1v1.1h-1.1zM414.0 122.6h1.1v1.1h-1.1zM408.1 102.4h1.1v1.1h-1.1zM413.4 106.6h1.1v1.1h-1.1zM399.9 109.0h1.1v1.1h-1.1zM408.6 105.1h1.1v1.1h-1.1zM422.3 89.6h1.1v1.1h-1.1zM413.6 91.9h1.1v1.1h-1.1zM400.5 98.6h1.1v1.1h-1.1zM421.9 101.2h1.1v1.1h-1.1zM417.4 91.8h1.1v1.1h-1.1zM419.7 88.2h1.1v1.1h-1.1zM414.9 109.5h1.1v1.1h-1.1zM417.0 98.9h1.1v1.1h-1.1zM417.1 111.0h1.1v1.1h-1.1zM418.0 93.5h1.1v1.1h-1.1zM423.7 88.9h1.1v1.1h-1.1zM416.1 106.0h1.1v1.1h-1.1zM414.6 107.4h1.1v1.1h-1.1zM415.3 105.8h1.1v1.1h-1.1zM424.2 92.6h1.1v1.1h-1.1zM418.0 97.5h1.1v1.1h-1.1zM418.7 111.0h1.1v1.1h-1.1zM412.4 106.3h1.1v1.1h-1.1zM428.2 95.8h1.1v1.1h-1.1zM418.3 92.6h1.1v1.1h-1.1zM414.1 102.0h1.1v1.1h-1.1zM421.3 92.6h1.1v1.1h-1.1zM430.8 91.9h1.1v1.1h-1.1zM425.7 97.2h1.1v1.1h-1.1zM427.8 90.0h1.1v1.1h-1.1zM426.6 92.2h1.1v1.1h-1.1zM413.6 93.8h1.1v1.1h-1.1zM405.8 108.9h1.1v1.1h-1.1zM403.6 105.6h1.1v1.1h-1.1zM410.1 108.0h1.1v1.1h-1.1zM408.1 99.0h1.1v1.1h-1.1zM413.2 106.2h1.1v1.1h-1.1zM407.7 108.8h1.1v1.1h-1.1zM421.6 105.2h1.1v1.1h-1.1zM420.6 103.5h1.1v1.1h-1.1zM406.0 93.1h1.1v1.1h-1.1zM405.8 110.1h1.1v1.1h-1.1zM408.3 100.1h1.1v1.1h-1.1zM416.4 111.9h1.1v1.1h-1.1zM412.5 95.3h1.1v1.1h-1.1zM406.9 103.7h1.1v1.1h-1.1zM399.9 106.0h1.1v1.1h-1.1zM416.0 104.4h1.1v1.1h-1.1zM409.4 93.6h1.1v1.1h-1.1zM411.1 113.2h1.1v1.1h-1.1zM409.3 114.4h1.1v1.1h-1.1zM412.4 100.6h1.1v1.1h-1.1zM412.0 102.1h1.1v1.1h-1.1zM425.8 92.0h1.1v1.1h-1.1zM411.3 120.5h1.1v1.1h-1.1zM418.8 101.7h1.1v1.1h-1.1zM410.5 102.1h1.1v1.1h-1.1zM424.0 102.9h1.1v1.1h-1.1zM405.4 109.5h1.1v1.1h-1.1zM408.7 98.5h1.1v1.1h-1.1zM417.2 113.1h1.1v1.1h-1.1zM430.6 97.0h1.1v1.1h-1.1zM404.1 108.5h1.1v1.1h-1.1zM395.6 101.7h1.1v1.1h-1.1zM414.3 97.4h1.1v1.1h-1.1zM402.2 97.3h1.1v1.1h-1.1zM421.6 99.2h1.1v1.1h-1.1zM413.7 90.3h1.1v1.1h-1.1zM409.7 103.2h1.1v1.1h-1.1zM424.3 95.9h1.1v1.1h-1.1zM401.6 107.9h1.1v1.1h-1.1zM413.4 100.7h1.1v1.1h-1.1zM405.2 105.7h1.1v1.1h-1.1zM422.5 92.7h1.1v1.1h-1.1zM418.0 104.0h1.1v1.1h-1.1zM413.4 111.1h1.1v1.1h-1.1zM414.2 100.0h1.1v1.1h-1.1zM413.0 111.2h1.1v1.1h-1.1zM410.2 100.7h1.1v1.1h-1.1zM412.2 101.5h1.1v1.1h-1.1zM403.7 102.5h1.1v1.1h-1.1zM416.8 95.3h1.1v1.1h-1.1zM407.2 101.3h1.1v1.1h-1.1zM395.6 107.8h1.1v1.1h-1.1zM420.4 99.4h1.1v1.1h-1.1zM408.6 110.4h1.1v1.1h-1.1zM406.0 97.0h1.1v1.1h-1.1zM421.2 92.1h1.1v1.1h-1.1zM410.8 94.7h1.1v1.1h-1.1zM424.1 105.2h1.1v1.1h-1.1zM417.1 101.7h1.1v1.1h-1.1zM407.1 96.3h1.1v1.1h-1.1zM407.6 106.6h1.1v1.1h-1.1zM418.1 97.5h1.1v1.1h-1.1zM419.5 92.5h1.1v1.1h-1.1zM402.7 109.1h1.1v1.1h-1.1zM405.3 99.3h1.1v1.1h-1.1zM415.5 92.6h1.1v1.1h-1.1zM405.4 109.6h1.1v1.1h-1.1zM420.0 99.4h1.1v1.1h-1.1zM422.6 97.8h1.1v1.1h-1.1zM403.5 103.3h1.1v1.1h-1.1zM408.6 109.1h1.1v1.1h-1.1zM420.5 88.3h1.1v1.1h-1.1zM407.0 109.6h1.1v1.1h-1.1zM399.8 103.3h1.1v1.1h-1.1zM406.0 103.0h1.1v1.1h-1.1zM423.2 94.3h1.1v1.1h-1.1zM408.6 104.4h1.1v1.1h-1.1zM411.9 112.6h1.1v1.1h-1.1zM404.3 108.6h1.1v1.1h-1.1zM409.5 93.4h1.1v1.1h-1.1zM414.8 102.4h1.1v1.1h-1.1zM409.4 88.2h1.1v1.1h-1.1zM413.6 111.7h1.1v1.1h-1.1zM413.8 97.5h1.1v1.1h-1.1zM410.2 113.9h1.1v1.1h-1.1zM408.2 96.9h1.1v1.1h-1.1zM418.4 89.7h1.1v1.1h-1.1zM415.4 92.7h1.1v1.1h-1.1zM405.5 101.5h1.1v1.1h-1.1zM417.9 91.6h1.1v1.1h-1.1zM411.9 106.1h1.1v1.1h-1.1zM404.2 101.1h1.1v1.1h-1.1zM421.0 103.8h1.1v1.1h-1.1zM412.0 95.9h1.1v1.1h-1.1zM423.9 100.0h1.1v1.1h-1.1zM417.8 104.6h1.1v1.1h-1.1zM413.2 105.1h1.1v1.1h-1.1zM413.0 103.7h1.1v1.1h-1.1zM405.3 96.4h1.1v1.1h-1.1zM415.4 88.1h1.1v1.1h-1.1zM412.7 103.0h1.1v1.1h-1.1zM424.1 96.5h1.1v1.1h-1.1zM425.6 99.7h1.1v1.1h-1.1zM412.3 88.6h1.1v1.1h-1.1zM412.4 101.7h1.1v1.1h-1.1zM411.3 101.9h1.1v1.1h-1.1zM423.2 88.2h1.1v1.1h-1.1zM416.5 96.2h1.1v1.1h-1.1zM409.4 100.4h1.1v1.1h-1.1zM435.0 88.5h1.1v1.1h-1.1zM424.0 92.2h1.1v1.1h-1.1zM419.1 102.1h1.1v1.1h-1.1zM413.1 99.3h1.1v1.1h-1.1zM426.3 93.5h1.1v1.1h-1.1zM418.3 88.6h1.1v1.1h-1.1zM420.5 108.6h1.1v1.1h-1.1zM408.7 95.7h1.1v1.1h-1.1zM407.5 104.8h1.1v1.1h-1.1zM409.8 88.3h1.1v1.1h-1.1zM403.8 105.3h1.1v1.1h-1.1zM412.1 103.4h1.1v1.1h-1.1zM420.5 106.9h1.1v1.1h-1.1zM422.5 97.9h1.1v1.1h-1.1zM413.0 96.1h1.1v1.1h-1.1zM418.0 108.0h1.1v1.1h-1.1zM402.7 107.8h1.1v1.1h-1.1zM413.2 91.4h1.1v1.1h-1.1zM399.0 105.8h1.1v1.1h-1.1zM418.5 93.9h1.1v1.1h-1.1zM410.6 111.1h1.1v1.1h-1.1zM402.4 106.3h1.1v1.1h-1.1zM412.3 95.7h1.1v1.1h-1.1zM423.7 99.9h1.1v1.1h-1.1zM420.6 86.3h1.1v1.1h-1.1zM402.5 99.0h1.1v1.1h-1.1zM422.6 103.6h1.1v1.1h-1.1zM421.6 101.1h1.1v1.1h-1.1zM411.9 119.2h1.1v1.1h-1.1zM414.1 98.3h1.1v1.1h-1.1zM402.8 108.0h1.1v1.1h-1.1zM415.8 95.7h1.1v1.1h-1.1zM422.8 98.2h1.1v1.1h-1.1zM415.7 96.2h1.1v1.1h-1.1zM410.2 107.5h1.1v1.1h-1.1zM402.8 109.4h1.1v1.1h-1.1zM415.6 101.1h1.1v1.1h-1.1zM420.6 97.1h1.1v1.1h-1.1zM408.7 107.9h1.1v1.1h-1.1zM418.7 102.9h1.1v1.1h-1.1zM415.8 104.8h1.1v1.1h-1.1zM404.1 105.3h1.1v1.1h-1.1zM423.8 87.8h1.1v1.1h-1.1zM414.3 105.1h1.1v1.1h-1.1zM423.8 83.9h1.1v1.1h-1.1zM419.7 94.2h1.1v1.1h-1.1zM418.6 94.2h1.1v1.1h-1.1zM420.8 90.5h1.1v1.1h-1.1zM411.1 98.4h1.1v1.1h-1.1zM405.0 108.7h1.1v1.1h-1.1zM423.3 103.6h1.1v1.1h-1.1zM417.2 95.0h1.1v1.1h-1.1zM422.0 93.4h1.1v1.1h-1.1zM421.3 87.4h1.1v1.1h-1.1zM423.8 94.9h1.1v1.1h-1.1zM411.5 101.4h1.1v1.1h-1.1zM425.7 92.8h1.1v1.1h-1.1zM403.8 108.7h1.1v1.1h-1.1zM423.0 106.1h1.1v1.1h-1.1zM408.3 106.4h1.1v1.1h-1.1zM412.1 111.2h1.1v1.1h-1.1zM420.0 92.4h1.1v1.1h-1.1zM409.1 113.6h1.1v1.1h-1.1zM423.1 99.3h1.1v1.1h-1.1zM417.0 94.1h1.1v1.1h-1.1zM416.5 110.2h1.1v1.1h-1.1zM412.7 92.9h1.1v1.1h-1.1zM411.4 112.8h1.1v1.1h-1.1zM423.2 91.5h1.1v1.1h-1.1zM404.3 102.4h1.1v1.1h-1.1zM410.1 102.1h1.1v1.1h-1.1zM413.3 107.4h1.1v1.1h-1.1zM419.1 102.4h1.1v1.1h-1.1zM421.1 86.9h1.1v1.1h-1.1zM416.2 106.1h1.1v1.1h-1.1zM414.7 94.4h1.1v1.1h-1.1zM405.0 110.4h1.1v1.1h-1.1zM418.9 90.7h1.1v1.1h-1.1zM397.9 99.6h1.1v1.1h-1.1zM404.5 105.7h1.1v1.1h-1.1zM407.9 88.9h1.1v1.1h-1.1zM403.8 102.2h1.1v1.1h-1.1zM421.8 100.1h1.1v1.1h-1.1zM417.4 104.0h1.1v1.1h-1.1zM415.5 98.7h1.1v1.1h-1.1zM416.8 91.7h1.1v1.1h-1.1zM410.4 96.0h1.1v1.1h-1.1zM411.7 102.9h1.1v1.1h-1.1zM404.2 100.4h1.1v1.1h-1.1zM422.3 92.5h1.1v1.1h-1.1zM418.3 91.5h1.1v1.1h-1.1zM419.0 96.2h1.1v1.1h-1.1zM413.3 99.3h1.1v1.1h-1.1zM417.8 95.3h1.1v1.1h-1.1zM409.6 106.3h1.1v1.1h-1.1zM421.6 100.8h1.1v1.1h-1.1zM411.4 98.8h1.1v1.1h-1.1zM416.6 100.9h1.1v1.1h-1.1zM415.6 103.2h1.1v1.1h-1.1zM424.0 94.2h1.1v1.1h-1.1zM416.0 98.0h1.1v1.1h-1.1zM414.6 109.9h1.1v1.1h-1.1zM415.8 105.5h1.1v1.1h-1.1zM408.4 106.9h1.1v1.1h-1.1zM406.3 106.8h1.1v1.1h-1.1zM409.3 109.2h1.1v1.1h-1.1zM407.0 98.2h1.1v1.1h-1.1zM413.0 99.0h1.1v1.1h-1.1zM416.0 106.4h1.1v1.1h-1.1zM433.8 83.9h1.1v1.1h-1.1zM406.7 95.5h1.1v1.1h-1.1zM411.2 107.4h1.1v1.1h-1.1zM427.1 88.8h1.1v1.1h-1.1zM422.7 101.5h1.1v1.1h-1.1zM408.4 97.1h1.1v1.1h-1.1zM413.8 94.3h1.1v1.1h-1.1zM414.9 103.8h1.1v1.1h-1.1zM413.4 105.0h1.1v1.1h-1.1zM414.1 103.3h1.1v1.1h-1.1zM404.9 107.3h1.1v1.1h-1.1zM415.0 111.7h1.1v1.1h-1.1zM411.9 109.5h1.1v1.1h-1.1zM414.2 85.2h1.1v1.1h-1.1zM430.2 107.7h1.1v1.1h-1.1zM419.3 107.7h1.1v1.1h-1.1zM432.4 88.6h1.1v1.1h-1.1zM406.0 96.8h1.1v1.1h-1.1zM406.0 108.4h1.1v1.1h-1.1zM398.5 107.3h1.1v1.1h-1.1zM429.5 97.8h1.1v1.1h-1.1zM413.5 105.9h1.1v1.1h-1.1zM416.7 91.2h1.1v1.1h-1.1zM412.9 96.3h1.1v1.1h-1.1zM417.0 96.1h1.1v1.1h-1.1zM415.4 105.1h1.1v1.1h-1.1zM421.4 99.5h1.1v1.1h-1.1zM421.1 99.5h1.1v1.1h-1.1zM409.6 98.8h1.1v1.1h-1.1zM423.4 91.8h1.1v1.1h-1.1zM412.7 102.0h1.1v1.1h-1.1zM422.4 98.5h1.1v1.1h-1.1zM413.3 100.6h1.1v1.1h-1.1zM422.2 86.9h1.1v1.1h-1.1zM411.3 98.3h1.1v1.1h-1.1zM423.3 93.7h1.1v1.1h-1.1zM415.8 100.9h1.1v1.1h-1.1zM416.7 111.5h1.1v1.1h-1.1zM414.7 109.3h1.1v1.1h-1.1zM418.1 101.3h1.1v1.1h-1.1zM408.1 108.7h1.1v1.1h-1.1zM408.1 104.6h1.1v1.1h-1.1zM415.7 108.8h1.1v1.1h-1.1zM421.5 104.1h1.1v1.1h-1.1zM422.9 101.3h1.1v1.1h-1.1zM397.3 103.3h1.1v1.1h-1.1zM410.1 103.0h1.1v1.1h-1.1zM402.2 103.4h1.1v1.1h-1.1zM428.0 92.1h1.1v1.1h-1.1zM410.5 119.3h1.1v1.1h-1.1zM419.8 103.5h1.1v1.1h-1.1zM420.5 88.8h1.1v1.1h-1.1zM419.2 101.5h1.1v1.1h-1.1zM413.6 115.7h1.1v1.1h-1.1zM416.1 96.7h1.1v1.1h-1.1zM406.0 109.1h1.1v1.1h-1.1zM422.5 102.9h1.1v1.1h-1.1zM421.0 91.0h1.1v1.1h-1.1zM423.8 91.0h1.1v1.1h-1.1zM428.4 97.5h1.1v1.1h-1.1zM409.9 108.2h1.1v1.1h-1.1zM406.7 100.9h1.1v1.1h-1.1zM400.8 108.2h1.1v1.1h-1.1zM406.4 109.2h1.1v1.1h-1.1zM413.4 96.0h1.1v1.1h-1.1zM418.0 97.4h1.1v1.1h-1.1zM421.7 91.5h1.1v1.1h-1.1zM426.1 99.1h1.1v1.1h-1.1zM413.2 102.9h1.1v1.1h-1.1zM407.1 104.6h1.1v1.1h-1.1zM412.7 104.6h1.1v1.1h-1.1zM406.7 110.5h1.1v1.1h-1.1zM404.9 110.1h1.1v1.1h-1.1zM422.2 86.5h1.1v1.1h-1.1zM422.6 102.3h1.1v1.1h-1.1zM419.9 89.3h1.1v1.1h-1.1zM402.8 96.7h1.1v1.1h-1.1zM429.8 99.6h1.1v1.1h-1.1zM409.6 96.5h1.1v1.1h-1.1zM406.6 104.6h1.1v1.1h-1.1zM420.1 105.4h1.1v1.1h-1.1zM404.7 102.8h1.1v1.1h-1.1zM426.6 93.2h1.1v1.1h-1.1zM426.5 94.1h1.1v1.1h-1.1zM416.4 99.3h1.1v1.1h-1.1zM427.4 90.4h1.1v1.1h-1.1zM415.8 100.2h1.1v1.1h-1.1zM399.6 102.4h1.1v1.1h-1.1zM409.9 115.9h1.1v1.1h-1.1zM411.3 97.2h1.1v1.1h-1.1zM410.6 93.8h1.1v1.1h-1.1zM404.4 102.4h1.1v1.1h-1.1zM430.8 88.5h1.1v1.1h-1.1zM421.4 95.9h1.1v1.1h-1.1zM405.8 110.3h1.1v1.1h-1.1zM399.6 105.0h1.1v1.1h-1.1zM415.2 92.2h1.1v1.1h-1.1zM425.7 106.6h1.1v1.1h-1.1zM420.9 94.1h1.1v1.1h-1.1zM417.1 86.8h1.1v1.1h-1.1zM402.4 107.4h1.1v1.1h-1.1zM417.7 99.1h1.1v1.1h-1.1zM409.8 102.0h1.1v1.1h-1.1zM416.9 94.1h1.1v1.1h-1.1zM415.2 109.4h1.1v1.1h-1.1zM419.2 86.1h1.1v1.1h-1.1zM419.1 101.0h1.1v1.1h-1.1zM422.4 93.9h1.1v1.1h-1.1zM413.7 111.7h1.1v1.1h-1.1zM424.7 98.5h1.1v1.1h-1.1zM410.3 99.7h1.1v1.1h-1.1zM410.0 106.4h1.1v1.1h-1.1zM415.0 110.7h1.1v1.1h-1.1zM420.9 86.1h1.1v1.1h-1.1zM418.0 103.6h1.1v1.1h-1.1zM418.4 93.9h1.1v1.1h-1.1zM419.6 104.0h1.1v1.1h-1.1zM418.2 101.2h1.1v1.1h-1.1zM418.6 93.0h1.1v1.1h-1.1zM419.5 99.0h1.1v1.1h-1.1zM413.6 104.5h1.1v1.1h-1.1zM409.0 95.8h1.1v1.1h-1.1zM423.2 97.7h1.1v1.1h-1.1zM411.7 103.2h1.1v1.1h-1.1zM408.3 102.6h1.1v1.1h-1.1zM423.2 103.5h1.1v1.1h-1.1zM420.9 103.4h1.1v1.1h-1.1zM414.5 104.6h1.1v1.1h-1.1zM406.6 104.9h1.1v1.1h-1.1zM405.4 98.5h1.1v1.1h-1.1zM412.8 96.5h1.1v1.1h-1.1zM403.4 97.9h1.1v1.1h-1.1zM410.8 110.9h1.1v1.1h-1.1zM393.9 110.2h1.1v1.1h-1.1zM424.7 93.9h1.1v1.1h-1.1zM411.1 98.9h1.1v1.1h-1.1zM420.0 90.6h1.1v1.1h-1.1zM416.9 102.8h1.1v1.1h-1.1zM396.9 109.1h1.1v1.1h-1.1zM423.1 96.9h1.1v1.1h-1.1zM419.6 88.9h1.1v1.1h-1.1zM421.2 110.6h1.1v1.1h-1.1zM412.7 108.0h1.1v1.1h-1.1zM407.1 108.8h1.1v1.1h-1.1zM403.3 109.3h1.1v1.1h-1.1zM434.8 89.2h1.1v1.1h-1.1zM423.3 97.7h1.1v1.1h-1.1zM416.2 99.4h1.1v1.1h-1.1zM429.2 97.4h1.1v1.1h-1.1zM397.5 108.1h1.1v1.1h-1.1zM411.6 92.2h1.1v1.1h-1.1zM404.4 109.5h1.1v1.1h-1.1zM413.3 90.1h1.1v1.1h-1.1zM415.3 103.3h1.1v1.1h-1.1zM420.8 95.6h1.1v1.1h-1.1zM405.0 105.2h1.1v1.1h-1.1zM427.8 91.4h1.1v1.1h-1.1zM410.0 102.9h1.1v1.1h-1.1zM422.1 90.0h1.1v1.1h-1.1zM423.7 92.8h1.1v1.1h-1.1zM405.6 103.8h1.1v1.1h-1.1zM411.0 98.3h1.1v1.1h-1.1zM426.2 90.8h1.1v1.1h-1.1zM413.8 99.4h1.1v1.1h-1.1zM415.8 94.2h1.1v1.1h-1.1zM425.4 105.0h1.1v1.1h-1.1zM409.2 93.9h1.1v1.1h-1.1zM402.2 109.9h1.1v1.1h-1.1zM411.8 104.1h1.1v1.1h-1.1zM424.1 87.4h1.1v1.1h-1.1zM414.2 107.8h1.1v1.1h-1.1zM422.6 89.4h1.1v1.1h-1.1zM412.7 107.0h1.1v1.1h-1.1zM422.9 90.5h1.1v1.1h-1.1zM427.1 86.2h1.1v1.1h-1.1zM411.2 108.4h1.1v1.1h-1.1zM407.2 106.5h1.1v1.1h-1.1zM414.3 97.1h1.1v1.1h-1.1zM421.8 101.1h1.1v1.1h-1.1zM415.7 106.3h1.1v1.1h-1.1zM423.0 101.8h1.1v1.1h-1.1zM412.1 109.3h1.1v1.1h-1.1zM409.7 107.5h1.1v1.1h-1.1zM428.2 89.4h1.1v1.1h-1.1zM418.7 93.1h1.1v1.1h-1.1zM409.3 92.5h1.1v1.1h-1.1zM423.5 91.6h1.1v1.1h-1.1zM429.4 95.6h1.1v1.1h-1.1zM415.7 105.8h1.1v1.1h-1.1zM410.1 94.3h1.1v1.1h-1.1zM404.3 100.1h1.1v1.1h-1.1zM400.3 105.2h1.1v1.1h-1.1zM423.2 93.2h1.1v1.1h-1.1zM415.5 100.2h1.1v1.1h-1.1zM416.4 100.4h1.1v1.1h-1.1zM418.3 103.5h1.1v1.1h-1.1zM412.1 91.4h1.1v1.1h-1.1zM411.7 103.7h1.1v1.1h-1.1zM417.5 103.0h1.1v1.1h-1.1zM413.9 101.6h1.1v1.1h-1.1zM408.0 96.8h1.1v1.1h-1.1zM420.5 105.3h1.1v1.1h-1.1zM412.8 94.2h1.1v1.1h-1.1zM413.7 96.0h1.1v1.1h-1.1zM410.6 102.2h1.1v1.1h-1.1zM401.0 104.9h1.1v1.1h-1.1zM410.4 107.2h1.1v1.1h-1.1zM415.5 103.6h1.1v1.1h-1.1zM416.3 103.3h1.1v1.1h-1.1zM418.2 94.3h1.1v1.1h-1.1zM407.4 108.5h1.1v1.1h-1.1zM419.8 106.9h1.1v1.1h-1.1zM408.9 108.6h1.1v1.1h-1.1zM407.6 102.3h1.1v1.1h-1.1zM413.5 94.8h1.1v1.1h-1.1zM416.2 100.3h1.1v1.1h-1.1zM420.8 100.1h1.1v1.1h-1.1zM413.4 98.6h1.1v1.1h-1.1zM409.8 103.0h1.1v1.1h-1.1zM414.6 96.1h1.1v1.1h-1.1zM406.3 100.9h1.1v1.1h-1.1zM422.1 104.9h1.1v1.1h-1.1zM396.3 105.6h1.1v1.1h-1.1zM421.6 102.9h1.1v1.1h-1.1zM405.8 108.6h1.1v1.1h-1.1zM425.9 80.4h1.1v1.1h-1.1zM426.5 86.9h1.1v1.1h-1.1zM410.5 96.1h1.1v1.1h-1.1zM421.3 100.1h1.1v1.1h-1.1zM413.8 92.3h1.1v1.1h-1.1zM414.6 103.0h1.1v1.1h-1.1zM411.7 100.3h1.1v1.1h-1.1zM417.1 91.5h1.1v1.1h-1.1zM415.7 88.6h1.1v1.1h-1.1zM421.5 88.5h1.1v1.1h-1.1zM418.6 99.9h1.1v1.1h-1.1zM411.2 92.4h1.1v1.1h-1.1zM406.3 102.9h1.1v1.1h-1.1zM422.9 94.5h1.1v1.1h-1.1zM419.1 106.3h1.1v1.1h-1.1zM422.9 104.0h1.1v1.1h-1.1zM403.5 101.9h1.1v1.1h-1.1zM423.7 94.9h1.1v1.1h-1.1zM421.4 101.9h1.1v1.1h-1.1zM419.9 101.3h1.1v1.1h-1.1zM412.5 103.5h1.1v1.1h-1.1zM410.4 104.8h1.1v1.1h-1.1zM426.9 97.2h1.1v1.1h-1.1zM418.1 98.3h1.1v1.1h-1.1zM415.7 110.9h1.1v1.1h-1.1zM413.3 103.0h1.1v1.1h-1.1zM424.5 94.8h1.1v1.1h-1.1zM412.9 100.8h1.1v1.1h-1.1zM421.8 96.5h1.1v1.1h-1.1zM418.3 96.3h1.1v1.1h-1.1zM429.0 87.2h1.1v1.1h-1.1zM413.4 98.2h1.1v1.1h-1.1zM428.0 94.2h1.1v1.1h-1.1zM411.0 106.3h1.1v1.1h-1.1zM410.9 103.4h1.1v1.1h-1.1zM418.4 97.3h1.1v1.1h-1.1zM426.0 86.9h1.1v1.1h-1.1zM417.3 91.6h1.1v1.1h-1.1zM417.5 101.7h1.1v1.1h-1.1zM423.5 97.5h1.1v1.1h-1.1zM410.8 99.4h1.1v1.1h-1.1zM425.2 96.0h1.1v1.1h-1.1zM413.9 100.4h1.1v1.1h-1.1zM407.7 102.2h1.1v1.1h-1.1zM418.1 92.3h1.1v1.1h-1.1zM428.0 95.4h1.1v1.1h-1.1zM418.4 109.2h1.1v1.1h-1.1zM404.0 100.4h1.1v1.1h-1.1zM412.8 94.0h1.1v1.1h-1.1zM415.3 94.5h1.1v1.1h-1.1zM427.3 100.0h1.1v1.1h-1.1zM418.9 97.3h1.1v1.1h-1.1zM413.5 98.7h1.1v1.1h-1.1zM417.7 109.6h1.1v1.1h-1.1zM410.0 115.4h1.1v1.1h-1.1zM428.0 92.7h1.1v1.1h-1.1zM411.6 111.8h1.1v1.1h-1.1zM410.8 106.3h1.1v1.1h-1.1zM404.1 107.9h1.1v1.1h-1.1zM401.8 109.7h1.1v1.1h-1.1zM405.7 104.3h1.1v1.1h-1.1zM404.9 107.4h1.1v1.1h-1.1zM418.3 97.9h1.1v1.1h-1.1zM427.7 86.9h1.1v1.1h-1.1zM404.0 106.5h1.1v1.1h-1.1zM408.9 110.2h1.1v1.1h-1.1zM413.6 100.6h1.1v1.1h-1.1zM405.8 108.2h1.1v1.1h-1.1zM411.8 98.3h1.1v1.1h-1.1zM415.2 112.4h1.1v1.1h-1.1zM404.8 109.2h1.1v1.1h-1.1zM409.3 93.4h1.1v1.1h-1.1zM431.1 95.4h1.1v1.1h-1.1zM420.0 89.4h1.1v1.1h-1.1zM428.8 88.1h1.1v1.1h-1.1zM408.8 105.6h1.1v1.1h-1.1zM425.4 86.0h1.1v1.1h-1.1zM427.5 92.4h1.1v1.1h-1.1zM420.9 89.1h1.1v1.1h-1.1zM406.9 105.9h1.1v1.1h-1.1zM429.7 91.1h1.1v1.1h-1.1zM417.0 95.0h1.1v1.1h-1.1zM403.8 103.7h1.1v1.1h-1.1zM406.3 102.2h1.1v1.1h-1.1zM418.5 101.3h1.1v1.1h-1.1zM415.9 106.0h1.1v1.1h-1.1zM411.9 105.8h1.1v1.1h-1.1zM400.9 109.0h1.1v1.1h-1.1zM411.4 109.0h1.1v1.1h-1.1zM418.3 96.6h1.1v1.1h-1.1zM409.9 107.1h1.1v1.1h-1.1zM405.1 100.9h1.1v1.1h-1.1zM425.4 95.3h1.1v1.1h-1.1zM409.0 97.0h1.1v1.1h-1.1zM405.4 97.7h1.1v1.1h-1.1zM415.7 95.3h1.1v1.1h-1.1zM414.0 97.9h1.1v1.1h-1.1zM412.8 96.5h1.1v1.1h-1.1zM398.5 109.3h1.1v1.1h-1.1zM403.5 107.2h1.1v1.1h-1.1zM398.1 109.6h1.1v1.1h-1.1zM424.1 96.0h1.1v1.1h-1.1zM421.4 96.8h1.1v1.1h-1.1zM425.6 91.4h1.1v1.1h-1.1zM413.8 108.1h1.1v1.1h-1.1zM411.6 100.1h1.1v1.1h-1.1zM422.8 97.4h1.1v1.1h-1.1zM414.9 108.2h1.1v1.1h-1.1zM408.6 107.6h1.1v1.1h-1.1zM414.8 95.0h1.1v1.1h-1.1zM413.7 110.0h1.1v1.1h-1.1zM428.1 87.5h1.1v1.1h-1.1zM410.5 103.8h1.1v1.1h-1.1zM411.3 99.3h1.1v1.1h-1.1zM423.3 100.5h1.1v1.1h-1.1zM408.6 102.0h1.1v1.1h-1.1zM409.5 100.4h1.1v1.1h-1.1zM399.9 105.0h1.1v1.1h-1.1zM423.0 103.5h1.1v1.1h-1.1zM427.4 95.3h1.1v1.1h-1.1zM415.5 98.7h1.1v1.1h-1.1zM415.3 95.5h1.1v1.1h-1.1zM405.1 90.0h1.1v1.1h-1.1zM417.7 104.5h1.1v1.1h-1.1zM418.2 100.3h1.1v1.1h-1.1zM412.2 108.8h1.1v1.1h-1.1zM421.9 97.7h1.1v1.1h-1.1zM417.5 95.3h1.1v1.1h-1.1zM413.8 107.0h1.1v1.1h-1.1zM412.1 100.4h1.1v1.1h-1.1zM416.9 98.9h1.1v1.1h-1.1zM410.1 109.7h1.1v1.1h-1.1zM414.3 94.2h1.1v1.1h-1.1zM421.4 96.5h1.1v1.1h-1.1zM416.2 90.7h1.1v1.1h-1.1zM411.9 110.7h1.1v1.1h-1.1zM415.2 87.2h1.1v1.1h-1.1zM417.0 95.8h1.1v1.1h-1.1zM410.3 96.5h1.1v1.1h-1.1zM419.1 111.5h1.1v1.1h-1.1zM411.4 103.7h1.1v1.1h-1.1zM415.6 101.1h1.1v1.1h-1.1zM410.3 101.6h1.1v1.1h-1.1zM417.1 94.2h1.1v1.1h-1.1zM426.7 97.8h1.1v1.1h-1.1zM421.2 87.6h1.1v1.1h-1.1zM420.3 102.4h1.1v1.1h-1.1zM417.1 89.8h1.1v1.1h-1.1zM410.4 101.6h1.1v1.1h-1.1zM415.6 93.7h1.1v1.1h-1.1zM417.7 92.8h1.1v1.1h-1.1zM396.7 103.8h1.1v1.1h-1.1zM411.0 106.1h1.1v1.1h-1.1zM412.4 99.9h1.1v1.1h-1.1zM422.0 98.1h1.1v1.1h-1.1zM402.4 108.0h1.1v1.1h-1.1zM422.0 87.0h1.1v1.1h-1.1zM424.9 103.1h1.1v1.1h-1.1zM422.0 97.9h1.1v1.1h-1.1zM418.5 87.5h1.1v1.1h-1.1zM414.5 107.5h1.1v1.1h-1.1zM409.6 102.4h1.1v1.1h-1.1zM422.6 100.0h1.1v1.1h-1.1zM420.3 101.3h1.1v1.1h-1.1zM405.6 102.0h1.1v1.1h-1.1zM421.2 109.3h1.1v1.1h-1.1zM401.4 105.1h1.1v1.1h-1.1zM407.4 110.3h1.1v1.1h-1.1zM403.9 96.7h1.1v1.1h-1.1zM419.5 101.9h1.1v1.1h-1.1zM418.0 95.2h1.1v1.1h-1.1zM416.9 99.2h1.1v1.1h-1.1zM422.4 101.5h1.1v1.1h-1.1zM402.1 108.4h1.1v1.1h-1.1zM418.6 88.9h1.1v1.1h-1.1zM409.0 116.4h1.1v1.1h-1.1zM414.8 116.2h1.1v1.1h-1.1zM415.2 100.0h1.1v1.1h-1.1zM409.1 93.9h1.1v1.1h-1.1zM416.8 91.6h1.1v1.1h-1.1zM416.9 102.8h1.1v1.1h-1.1zM417.7 105.1h1.1v1.1h-1.1zM406.6 108.0h1.1v1.1h-1.1zM430.8 88.1h1.1v1.1h-1.1zM413.8 107.3h1.1v1.1h-1.1zM417.2 106.6h1.1v1.1h-1.1zM420.0 102.1h1.1v1.1h-1.1zM427.9 95.3h1.1v1.1h-1.1zM416.3 94.0h1.1v1.1h-1.1zM417.0 111.5h1.1v1.1h-1.1zM418.0 96.5h1.1v1.1h-1.1zM422.3 89.1h1.1v1.1h-1.1zM408.6 101.8h1.1v1.1h-1.1zM410.3 104.2h1.1v1.1h-1.1zM405.9 107.4h1.1v1.1h-1.1zM409.6 109.8h1.1v1.1h-1.1zM417.1 101.0h1.1v1.1h-1.1zM417.7 93.3h1.1v1.1h-1.1zM418.0 92.3h1.1v1.1h-1.1zM413.7 100.3h1.1v1.1h-1.1zM412.5 100.6h1.1v1.1h-1.1zM407.3 109.2h1.1v1.1h-1.1zM413.0 110.6h1.1v1.1h-1.1zM409.8 109.1h1.1v1.1h-1.1zM418.4 108.1h1.1v1.1h-1.1zM415.9 107.5h1.1v1.1h-1.1zM406.4 107.7h1.1v1.1h-1.1zM422.8 90.9h1.1v1.1h-1.1zM411.5 107.1h1.1v1.1h-1.1zM431.6 95.6h1.1v1.1h-1.1zM422.2 101.1h1.1v1.1h-1.1zM414.8 95.7h1.1v1.1h-1.1zM422.7 113.6h1.1v1.1h-1.1zM414.7 100.4h1.1v1.1h-1.1zM406.5 103.6h1.1v1.1h-1.1zM411.6 105.9h1.1v1.1h-1.1zM421.4 99.6h1.1v1.1h-1.1zM422.6 96.5h1.1v1.1h-1.1zM410.1 101.1h1.1v1.1h-1.1zM426.8 91.0h1.1v1.1h-1.1zM416.8 101.1h1.1v1.1h-1.1zM421.5 95.7h1.1v1.1h-1.1zM407.6 110.3h1.1v1.1h-1.1zM415.5 101.3h1.1v1.1h-1.1zM402.7 105.6h1.1v1.1h-1.1zM409.6 94.6h1.1v1.1h-1.1zM413.2 104.9h1.1v1.1h-1.1zM417.9 99.1h1.1v1.1h-1.1zM414.6 107.2h1.1v1.1h-1.1zM415.2 98.0h1.1v1.1h-1.1zM430.3 85.8h1.1v1.1h-1.1zM426.0 93.7h1.1v1.1h-1.1zM408.1 98.7h1.1v1.1h-1.1zM429.2 88.0h1.1v1.1h-1.1zM412.0 115.5h1.1v1.1h-1.1zM402.0 108.3h1.1v1.1h-1.1zM419.6 99.9h1.1v1.1h-1.1zM416.1 100.7h1.1v1.1h-1.1zM414.4 94.4h1.1v1.1h-1.1zM418.1 97.5h1.1v1.1h-1.1zM415.0 104.3h1.1v1.1h-1.1zM407.0 95.4h1.1v1.1h-1.1zM428.9 86.5h1.1v1.1h-1.1zM409.3 110.1h1.1v1.1h-1.1zM423.1 91.7h1.1v1.1h-1.1zM410.3 95.7h1.1v1.1h-1.1zM420.5 95.7h1.1v1.1h-1.1zM423.9 86.9h1.1v1.1h-1.1zM417.5 94.9h1.1v1.1h-1.1zM406.3 101.6h1.1v1.1h-1.1zM415.8 93.6h1.1v1.1h-1.1zM414.8 106.7h1.1v1.1h-1.1zM418.0 101.9h1.1v1.1h-1.1zM421.2 88.5h1.1v1.1h-1.1zM419.3 107.0h1.1v1.1h-1.1zM409.6 103.1h1.1v1.1h-1.1zM403.5 110.4h1.1v1.1h-1.1zM414.0 110.6h1.1v1.1h-1.1zM408.0 105.3h1.1v1.1h-1.1zM425.7 90.4h1.1v1.1h-1.1zM408.9 102.1h1.1v1.1h-1.1zM408.8 95.7h1.1v1.1h-1.1zM423.1 92.7h1.1v1.1h-1.1zM424.5 94.1h1.1v1.1h-1.1zM409.8 117.3h1.1v1.1h-1.1zM413.3 95.9h1.1v1.1h-1.1zM417.6 98.3h1.1v1.1h-1.1zM406.8 101.0h1.1v1.1h-1.1zM418.9 106.8h1.1v1.1h-1.1zM428.5 91.9h1.1v1.1h-1.1zM417.6 98.0h1.1v1.1h-1.1zM422.5 91.4h1.1v1.1h-1.1zM424.2 90.1h1.1v1.1h-1.1zM411.9 107.1h1.1v1.1h-1.1zM422.8 98.7h1.1v1.1h-1.1zM423.2 94.2h1.1v1.1h-1.1zM409.2 112.4h1.1v1.1h-1.1zM406.6 96.4h1.1v1.1h-1.1zM420.9 94.7h1.1v1.1h-1.1zM399.4 102.5h1.1v1.1h-1.1zM411.7 103.8h1.1v1.1h-1.1zM405.7 100.3h1.1v1.1h-1.1zM417.3 101.4h1.1v1.1h-1.1zM419.4 103.3h1.1v1.1h-1.1zM429.8 91.8h1.1v1.1h-1.1zM414.6 104.7h1.1v1.1h-1.1zM411.2 108.8h1.1v1.1h-1.1zM403.8 95.5h1.1v1.1h-1.1zM412.6 103.2h1.1v1.1h-1.1zM406.9 102.9h1.1v1.1h-1.1zM423.3 92.2h1.1v1.1h-1.1zM421.3 86.9h1.1v1.1h-1.1zM425.9 101.6h1.1v1.1h-1.1zM417.1 102.0h1.1v1.1h-1.1zM418.0 97.4h1.1v1.1h-1.1zM429.1 98.0h1.1v1.1h-1.1zM407.9 108.0h1.1v1.1h-1.1zM418.4 100.0h1.1v1.1h-1.1zM413.7 101.4h1.1v1.1h-1.1zM423.8 92.8h1.1v1.1h-1.1zM422.8 105.6h1.1v1.1h-1.1zM425.5 106.4h1.1v1.1h-1.1zM418.1 98.2h1.1v1.1h-1.1zM416.8 103.9h1.1v1.1h-1.1zM407.5 102.1h1.1v1.1h-1.1zM417.4 98.4h1.1v1.1h-1.1zM409.1 104.8h1.1v1.1h-1.1zM424.7 91.2h1.1v1.1h-1.1zM415.2 108.6h1.1v1.1h-1.1zM418.3 103.7h1.1v1.1h-1.1zM422.0 97.6h1.1v1.1h-1.1zM427.5 97.9h1.1v1.1h-1.1zM411.5 105.1h1.1v1.1h-1.1zM418.7 93.4h1.1v1.1h-1.1zM415.4 98.6h1.1v1.1h-1.1zM417.0 110.0h1.1v1.1h-1.1zM411.3 107.4h1.1v1.1h-1.1zM418.0 110.8h1.1v1.1h-1.1zM411.3 107.7h1.1v1.1h-1.1zM411.5 99.9h1.1v1.1h-1.1zM426.4 97.0h1.1v1.1h-1.1zM420.1 97.4h1.1v1.1h-1.1zM408.9 98.0h1.1v1.1h-1.1zM420.1 93.4h1.1v1.1h-1.1zM426.6 94.2h1.1v1.1h-1.1zM410.2 112.5h1.1v1.1h-1.1zM419.4 102.9h1.1v1.1h-1.1zM415.9 97.1h1.1v1.1h-1.1zM411.2 94.0h1.1v1.1h-1.1zM414.8 99.6h1.1v1.1h-1.1zM413.2 102.3h1.1v1.1h-1.1zM410.1 98.3h1.1v1.1h-1.1zM414.1 101.0h1.1v1.1h-1.1zM411.0 99.1h1.1v1.1h-1.1zM406.6 102.1h1.1v1.1h-1.1zM406.6 103.9h1.1v1.1h-1.1zM413.5 102.0h1.1v1.1h-1.1zM408.4 91.8h1.1v1.1h-1.1zM407.7 106.4h1.1v1.1h-1.1zM429.1 100.3h1.1v1.1h-1.1zM418.7 91.0h1.1v1.1h-1.1zM410.7 106.1h1.1v1.1h-1.1zM404.4 102.0h1.1v1.1h-1.1zM412.9 111.5h1.1v1.1h-1.1zM410.3 109.9h1.1v1.1h-1.1zM415.4 99.7h1.1v1.1h-1.1zM429.7 98.3h1.1v1.1h-1.1zM417.9 99.3h1.1v1.1h-1.1zM417.1 102.9h1.1v1.1h-1.1zM408.8 102.7h1.1v1.1h-1.1zM429.9 96.2h1.1v1.1h-1.1zM421.6 100.2h1.1v1.1h-1.1zM421.6 96.2h1.1v1.1h-1.1zM411.5 97.0h1.1v1.1h-1.1zM416.7 94.6h1.1v1.1h-1.1zM410.1 113.2h1.1v1.1h-1.1zM416.8 103.7h1.1v1.1h-1.1zM409.3 107.0h1.1v1.1h-1.1zM412.4 99.1h1.1v1.1h-1.1zM419.9 92.6h1.1v1.1h-1.1zM427.5 95.1h1.1v1.1h-1.1zM418.2 94.8h1.1v1.1h-1.1zM417.8 97.3h1.1v1.1h-1.1zM395.2 105.4h1.1v1.1h-1.1zM404.4 106.3h1.1v1.1h-1.1zM429.9 86.9h1.1v1.1h-1.1zM430.1 88.0h1.1v1.1h-1.1zM412.0 94.5h1.1v1.1h-1.1zM407.2 106.3h1.1v1.1h-1.1zM417.9 102.6h1.1v1.1h-1.1zM415.7 107.9h1.1v1.1h-1.1zM407.6 97.2h1.1v1.1h-1.1zM405.1 108.0h1.1v1.1h-1.1zM423.4 91.0h1.1v1.1h-1.1zM407.3 109.3h1.1v1.1h-1.1zM419.7 90.9h1.1v1.1h-1.1zM418.2 95.6h1.1v1.1h-1.1zM405.3 107.8h1.1v1.1h-1.1zM409.3 103.7h1.1v1.1h-1.1zM425.0 89.7h1.1v1.1h-1.1zM421.8 94.9h1.1v1.1h-1.1zM406.9 103.4h1.1v1.1h-1.1zM417.9 106.0h1.1v1.1h-1.1zM414.8 101.5h1.1v1.1h-1.1zM416.4 95.6h1.1v1.1h-1.1zM405.3 104.7h1.1v1.1h-1.1zM410.4 112.5h1.1v1.1h-1.1zM420.9 100.5h1.1v1.1h-1.1zM412.0 104.8h1.1v1.1h-1.1zM417.4 105.1h1.1v1.1h-1.1zM412.0 108.1h1.1v1.1h-1.1zM423.3 95.7h1.1v1.1h-1.1zM403.5 96.9h1.1v1.1h-1.1zM412.5 97.4h1.1v1.1h-1.1zM417.1 95.2h1.1v1.1h-1.1zM416.5 101.7h1.1v1.1h-1.1zM417.1 101.9h1.1v1.1h-1.1zM422.8 97.2h1.1v1.1h-1.1zM421.9 101.2h1.1v1.1h-1.1zM424.7 96.2h1.1v1.1h-1.1zM411.8 99.6h1.1v1.1h-1.1zM411.3 104.1h1.1v1.1h-1.1zM417.1 86.0h1.1v1.1h-1.1zM416.7 92.2h1.1v1.1h-1.1zM409.6 105.1h1.1v1.1h-1.1zM404.3 95.0h1.1v1.1h-1.1zM416.7 107.3h1.1v1.1h-1.1zM427.1 91.5h1.1v1.1h-1.1zM412.5 99.1h1.1v1.1h-1.1zM403.4 109.9h1.1v1.1h-1.1zM418.7 88.2h1.1v1.1h-1.1zM407.4 109.4h1.1v1.1h-1.1zM432.2 98.3h1.1v1.1h-1.1zM417.7 98.2h1.1v1.1h-1.1zM404.1 106.2h1.1v1.1h-1.1zM407.5 96.1h1.1v1.1h-1.1zM419.3 98.5h1.1v1.1h-1.1zM424.2 96.6h1.1v1.1h-1.1zM419.5 91.3h1.1v1.1h-1.1zM414.3 95.9h1.1v1.1h-1.1zM415.6 100.1h1.1v1.1h-1.1zM412.2 105.4h1.1v1.1h-1.1zM418.0 105.1h1.1v1.1h-1.1zM421.0 97.0h1.1v1.1h-1.1zM420.6 98.6h1.1v1.1h-1.1zM417.3 97.4h1.1v1.1h-1.1zM420.4 92.0h1.1v1.1h-1.1zM423.0 93.9h1.1v1.1h-1.1zM414.6 102.8h1.1v1.1h-1.1zM421.0 89.2h1.1v1.1h-1.1zM405.6 107.6h1.1v1.1h-1.1zM425.7 99.7h1.1v1.1h-1.1zM416.1 97.2h1.1v1.1h-1.1zM419.8 94.0h1.1v1.1h-1.1zM424.1 103.4h1.1v1.1h-1.1zM411.6 106.0h1.1v1.1h-1.1zM413.3 98.5h1.1v1.1h-1.1zM415.4 101.0h1.1v1.1h-1.1zM405.3 95.8h1.1v1.1h-1.1zM422.1 85.4h1.1v1.1h-1.1zM426.2 89.2h1.1v1.1h-1.1zM410.0 105.8h1.1v1.1h-1.1zM411.2 94.1h1.1v1.1h-1.1zM417.1 96.9h1.1v1.1h-1.1zM407.6 95.1h1.1v1.1h-1.1zM407.1 110.2h1.1v1.1h-1.1zM426.7 91.2h1.1v1.1h-1.1zM410.3 96.0h1.1v1.1h-1.1zM422.2 98.9h1.1v1.1h-1.1zM401.5 110.0h1.1v1.1h-1.1zM427.3 89.3h1.1v1.1h-1.1zM414.7 92.2h1.1v1.1h-1.1zM406.1 102.0h1.1v1.1h-1.1zM414.5 102.5h1.1v1.1h-1.1zM406.6 109.1h1.1v1.1h-1.1zM409.8 100.3h1.1v1.1h-1.1zM410.6 92.9h1.1v1.1h-1.1zM405.8 109.5h1.1v1.1h-1.1zM406.8 94.9h1.1v1.1h-1.1zM423.3 88.0h1.1v1.1h-1.1zM405.8 103.0h1.1v1.1h-1.1zM414.0 105.4h1.1v1.1h-1.1zM399.0 106.8h1.1v1.1h-1.1zM413.6 110.6h1.1v1.1h-1.1zM417.6 95.0h1.1v1.1h-1.1zM413.2 100.6h1.1v1.1h-1.1zM410.4 112.2h1.1v1.1h-1.1zM426.4 93.6h1.1v1.1h-1.1zM424.9 94.8h1.1v1.1h-1.1zM407.3 108.7h1.1v1.1h-1.1zM422.5 93.2h1.1v1.1h-1.1zM413.4 92.7h1.1v1.1h-1.1zM430.5 90.7h1.1v1.1h-1.1zM415.6 99.0h1.1v1.1h-1.1zM415.2 109.5h1.1v1.1h-1.1zM411.6 110.7h1.1v1.1h-1.1zM422.8 91.1h1.1v1.1h-1.1zM424.6 99.5h1.1v1.1h-1.1zM418.1 96.5h1.1v1.1h-1.1zM426.0 94.8h1.1v1.1h-1.1zM416.4 89.6h1.1v1.1h-1.1zM417.0 101.5h1.1v1.1h-1.1zM417.3 98.1h1.1v1.1h-1.1zM420.5 89.4h1.1v1.1h-1.1zM414.5 95.2h1.1v1.1h-1.1zM416.8 92.4h1.1v1.1h-1.1zM425.1 87.6h1.1v1.1h-1.1zM408.7 119.0h1.1v1.1h-1.1zM416.0 102.4h1.1v1.1h-1.1zM425.1 97.2h1.1v1.1h-1.1zM425.4 93.6h1.1v1.1h-1.1zM423.5 86.7h1.1v1.1h-1.1zM425.1 95.4h1.1v1.1h-1.1zM438.5 99.4h1.1v1.1h-1.1zM441.7 100.8h1.1v1.1h-1.1zM437.3 103.7h1.1v1.1h-1.1zM436.1 90.5h1.1v1.1h-1.1zM434.4 105.8h1.1v1.1h-1.1zM432.2 96.8h1.1v1.1h-1.1zM437.2 89.8h1.1v1.1h-1.1zM449.2 88.6h1.1v1.1h-1.1zM438.0 87.9h1.1v1.1h-1.1zM451.6 82.5h1.1v1.1h-1.1zM449.4 78.0h1.1v1.1h-1.1zM445.6 86.9h1.1v1.1h-1.1zM442.3 95.8h1.1v1.1h-1.1zM435.0 102.8h1.1v1.1h-1.1zM447.4 85.0h1.1v1.1h-1.1zM451.2 82.6h1.1v1.1h-1.1zM444.3 100.7h1.1v1.1h-1.1zM442.5 92.4h1.1v1.1h-1.1zM439.9 94.5h1.1v1.1h-1.1zM439.1 94.1h1.1v1.1h-1.1zM431.6 84.0h1.1v1.1h-1.1zM446.4 89.8h1.1v1.1h-1.1zM400.5 121.7h1.1v1.1h-1.1zM388.4 131.5h1.1v1.1h-1.1zM403.1 115.1h1.1v1.1h-1.1zM368.8 146.1h1.1v1.1h-1.1zM403.5 119.6h1.1v1.1h-1.1zM390.6 132.3h1.1v1.1h-1.1zM402.9 114.5h1.1v1.1h-1.1zM406.4 116.9h1.1v1.1h-1.1zM395.4 125.0h1.1v1.1h-1.1zM396.9 120.4h1.1v1.1h-1.1zM387.5 133.4h1.1v1.1h-1.1zM396.3 119.5h1.1v1.1h-1.1zM392.8 121.5h1.1v1.1h-1.1zM369.6 143.5h1.1v1.1h-1.1zM395.2 123.0h1.1v1.1h-1.1zM386.3 129.2h1.1v1.1h-1.1zM383.2 135.8h1.1v1.1h-1.1zM386.1 137.2h1.1v1.1h-1.1zM405.6 114.5h1.1v1.1h-1.1zM400.0 112.9h1.1v1.1h-1.1zM398.1 118.3h1.1v1.1h-1.1zM376.6 135.2h1.1v1.1h-1.1zM401.3 120.1h1.1v1.1h-1.1zM373.7 139.7h1.1v1.1h-1.1zM393.4 119.2h1.1v1.1h-1.1zM395.4 132.2h1.1v1.1h-1.1zM393.2 120.7h1.1v1.1h-1.1zM401.6 113.1h1.1v1.1h-1.1zM364.2 153.0h1.1v1.1h-1.1zM370.3 144.7h1.1v1.1h-1.1zM382.9 132.8h1.1v1.1h-1.1zM393.1 126.8h1.1v1.1h-1.1zM381.3 138.4h1.1v1.1h-1.1zM404.8 116.3h1.1v1.1h-1.1zM378.6 131.2h1.1v1.1h-1.1zM376.2 139.3h1.1v1.1h-1.1zM379.6 136.3h1.1v1.1h-1.1zM401.4 121.2h1.1v1.1h-1.1zM399.6 118.8h1.1v1.1h-1.1zM392.6 119.7h1.1v1.1h-1.1zM387.1 134.9h1.1v1.1h-1.1zM380.9 138.1h1.1v1.1h-1.1zM401.8 111.9h1.1v1.1h-1.1zM392.7 131.3h1.1v1.1h-1.1zM406.5 112.8h1.1v1.1h-1.1zM399.1 123.0h1.1v1.1h-1.1zM389.3 129.9h1.1v1.1h-1.1zM404.5 112.7h1.1v1.1h-1.1zM407.2 119.2h1.1v1.1h-1.1zM381.1 131.9h1.1v1.1h-1.1zM396.1 127.4h1.1v1.1h-1.1zM392.4 135.4h1.1v1.1h-1.1zM368.1 143.7h1.1v1.1h-1.1zM379.6 133.9h1.1v1.1h-1.1zM408.0 113.0h1.1v1.1h-1.1zM402.2 117.2h1.1v1.1h-1.1zM406.9 116.0h1.1v1.1h-1.1zM398.7 116.9h1.1v1.1h-1.1zM399.5 124.3h1.1v1.1h-1.1zM400.0 111.4h1.1v1.1h-1.1zM396.2 114.4h1.1v1.1h-1.1zM385.0 135.9h1.1v1.1h-1.1zM370.6 152.4h1.1v1.1h-1.1zM402.1 120.9h1.1v1.1h-1.1zM389.5 130.4h1.1v1.1h-1.1zM398.9 126.7h1.1v1.1h-1.1zM382.6 134.9h1.1v1.1h-1.1zM391.1 126.1h1.1v1.1h-1.1zM401.6 122.7h1.1v1.1h-1.1zM381.4 137.1h1.1v1.1h-1.1zM398.1 117.5h1.1v1.1h-1.1zM379.3 134.3h1.1v1.1h-1.1zM392.9 122.5h1.1v1.1h-1.1zM389.3 126.0h1.1v1.1h-1.1zM397.3 122.6h1.1v1.1h-1.1zM407.4 118.8h1.1v1.1h-1.1zM396.0 126.5h1.1v1.1h-1.1zM369.2 151.0h1.1v1.1h-1.1zM392.3 125.3h1.1v1.1h-1.1zM388.3 131.9h1.1v1.1h-1.1zM394.9 117.4h1.1v1.1h-1.1zM402.2 114.0h1.1v1.1h-1.1zM394.1 126.6h1.1v1.1h-1.1zM404.8 116.8h1.1v1.1h-1.1zM396.0 121.1h1.1v1.1h-1.1zM401.1 122.7h1.1v1.1h-1.1zM395.1 119.8h1.1v1.1h-1.1zM403.1 118.9h1.1v1.1h-1.1zM395.0 120.0h1.1v1.1h-1.1zM358.7 150.8h1.1v1.1h-1.1zM395.3 119.4h1.1v1.1h-1.1zM381.1 136.1h1.1v1.1h-1.1zM391.6 124.5h1.1v1.1h-1.1zM384.0 131.2h1.1v1.1h-1.1zM393.0 121.3h1.1v1.1h-1.1zM397.6 115.1h1.1v1.1h-1.1zM394.1 118.1h1.1v1.1h-1.1zM405.0 118.0h1.1v1.1h-1.1zM403.4 114.0h1.1v1.1h-1.1zM405.3 115.7h1.1v1.1h-1.1zM370.2 145.8h1.1v1.1h-1.1zM394.2 119.3h1.1v1.1h-1.1zM401.3 120.4h1.1v1.1h-1.1zM389.9 121.9h1.1v1.1h-1.1zM390.0 126.6h1.1v1.1h-1.1zM400.6 118.4h1.1v1.1h-1.1zM394.3 122.5h1.1v1.1h-1.1zM398.0 115.3h1.1v1.1h-1.1zM402.3 121.1h1.1v1.1h-1.1zM382.6 133.5h1.1v1.1h-1.1zM364.9 143.3h1.1v1.1h-1.1zM384.1 135.0h1.1v1.1h-1.1zM395.6 119.1h1.1v1.1h-1.1zM401.5 114.2h1.1v1.1h-1.1zM399.6 126.8h1.1v1.1h-1.1zM399.7 117.9h1.1v1.1h-1.1zM406.4 117.7h1.1v1.1h-1.1zM370.2 145.0h1.1v1.1h-1.1zM397.4 122.3h1.1v1.1h-1.1zM384.0 127.3h1.1v1.1h-1.1zM387.9 124.7h1.1v1.1h-1.1zM396.3 115.4h1.1v1.1h-1.1zM401.6 116.1h1.1v1.1h-1.1zM394.4 126.9h1.1v1.1h-1.1zM364.0 146.4h1.1v1.1h-1.1zM406.0 115.9h1.1v1.1h-1.1zM403.9 118.8h1.1v1.1h-1.1zM393.9 122.7h1.1v1.1h-1.1zM396.7 124.1h1.1v1.1h-1.1zM378.9 139.7h1.1v1.1h-1.1zM404.2 116.7h1.1v1.1h-1.1zM369.8 147.7h1.1v1.1h-1.1zM400.3 121.1h1.1v1.1h-1.1zM396.5 126.6h1.1v1.1h-1.1zM391.9 124.5h1.1v1.1h-1.1zM401.6 121.8h1.1v1.1h-1.1zM379.3 138.9h1.1v1.1h-1.1zM383.3 143.2h1.1v1.1h-1.1zM387.5 121.3h1.1v1.1h-1.1zM377.3 138.1h1.1v1.1h-1.1zM391.1 123.4h1.1v1.1h-1.1zM402.4 115.5h1.1v1.1h-1.1zM388.5 134.0h1.1v1.1h-1.1zM405.9 118.2h1.1v1.1h-1.1zM393.8 123.2h1.1v1.1h-1.1zM395.4 123.4h1.1v1.1h-1.1zM384.5 136.9h1.1v1.1h-1.1zM389.2 123.5h1.1v1.1h-1.1zM402.3 115.8h1.1v1.1h-1.1zM391.4 121.3h1.1v1.1h-1.1zM405.4 112.4h1.1v1.1h-1.1zM401.9 118.7h1.1v1.1h-1.1zM401.7 116.1h1.1v1.1h-1.1zM396.0 120.0h1.1v1.1h-1.1zM386.1 133.4h1.1v1.1h-1.1zM397.2 115.7h1.1v1.1h-1.1zM389.7 123.5h1.1v1.1h-1.1zM369.0 145.5h1.1v1.1h-1.1zM401.5 112.5h1.1v1.1h-1.1zM402.5 124.1h1.1v1.1h-1.1zM389.6 128.1h1.1v1.1h-1.1zM393.1 125.4h1.1v1.1h-1.1zM402.8 115.9h1.1v1.1h-1.1zM408.4 114.5h1.1v1.1h-1.1zM397.4 122.4h1.1v1.1h-1.1zM404.7 119.0h1.1v1.1h-1.1zM401.6 112.4h1.1v1.1h-1.1zM400.7 117.5h1.1v1.1h-1.1zM402.6 116.8h1.1v1.1h-1.1zM387.8 125.1h1.1v1.1h-1.1zM369.1 143.1h1.1v1.1h-1.1zM396.6 110.6h1.1v1.1h-1.1zM387.4 127.0h1.1v1.1h-1.1zM402.7 116.9h1.1v1.1h-1.1zM379.5 136.5h1.1v1.1h-1.1zM401.7 123.5h1.1v1.1h-1.1zM404.8 116.0h1.1v1.1h-1.1zM391.1 123.3h1.1v1.1h-1.1zM379.7 134.2h1.1v1.1h-1.1zM390.6 123.2h1.1v1.1h-1.1zM385.3 132.8h1.1v1.1h-1.1zM406.1 118.6h1.1v1.1h-1.1zM375.9 142.8h1.1v1.1h-1.1zM392.9 122.8h1.1v1.1h-1.1zM377.5 132.0h1.1v1.1h-1.1zM384.3 135.4h1.1v1.1h-1.1zM393.4 122.2h1.1v1.1h-1.1zM407.7 113.8h1.1v1.1h-1.1zM406.5 115.5h1.1v1.1h-1.1zM406.3 114.2h1.1v1.1h-1.1zM378.7 141.3h1.1v1.1h-1.1zM398.4 119.1h1.1v1.1h-1.1zM380.8 139.2h1.1v1.1h-1.1zM397.1 122.3h1.1v1.1h-1.1zM401.8 120.7h1.1v1.1h-1.1zM387.2 122.9h1.1v1.1h-1.1zM406.0 116.0h1.1v1.1h-1.1zM384.8 128.7h1.1v1.1h-1.1zM399.3 116.3h1.1v1.1h-1.1zM366.2 149.7h1.1v1.1h-1.1zM397.6 118.4h1.1v1.1h-1.1zM358.2 153.7h1.1v1.1h-1.1zM406.4 112.5h1.1v1.1h-1.1zM402.7 117.6h1.1v1.1h-1.1zM352.9 159.7h1.1v1.1h-1.1zM392.3 125.8h1.1v1.1h-1.1zM387.1 133.4h1.1v1.1h-1.1zM375.0 136.1h1.1v1.1h-1.1zM383.3 126.1h1.1v1.1h-1.1zM387.6 129.5h1.1v1.1h-1.1zM400.4 113.3h1.1v1.1h-1.1zM407.3 117.1h1.1v1.1h-1.1zM387.1 130.2h1.1v1.1h-1.1zM400.9 118.6h1.1v1.1h-1.1zM406.7 118.0h1.1v1.1h-1.1zM396.9 123.5h1.1v1.1h-1.1zM377.4 136.3h1.1v1.1h-1.1zM394.2 128.4h1.1v1.1h-1.1zM405.6 113.2h1.1v1.1h-1.1zM407.1 116.3h1.1v1.1h-1.1zM386.8 123.5h1.1v1.1h-1.1zM395.3 133.0h1.1v1.1h-1.1zM403.9 117.0h1.1v1.1h-1.1zM357.6 149.0h1.1v1.1h-1.1zM392.6 124.6h1.1v1.1h-1.1zM402.3 114.0h1.1v1.1h-1.1zM376.5 135.3h1.1v1.1h-1.1z" fill="#8a8a8a"/>
<path d="M386.9 124.4h1.1v1.1h-1.1zM401.1 112.1h1.1v1.1h-1.1zM392.6 131.7h1.1v1.1h-1.1zM407.8 116.5h1.1v1.1h-1.1zM395.9 128.5h1.1v1.1h-1.1zM407.0 121.7h1.1v1.1h-1.1zM403.4 116.0h1.1v1.1h-1.1zM386.8 136.8h1.1v1.1h-1.1zM383.3 134.7h1.1v1.1h-1.1zM403.1 118.7h1.1v1.1h-1.1zM389.3 124.5h1.1v1.1h-1.1zM385.4 134.3h1.1v1.1h-1.1zM407.9 110.6h1.1v1.1h-1.1zM399.8 123.8h1.1v1.1h-1.1zM368.3 152.5h1.1v1.1h-1.1zM392.6 127.5h1.1v1.1h-1.1zM399.2 121.2h1.1v1.1h-1.1zM403.6 115.9h1.1v1.1h-1.1zM357.8 157.7h1.1v1.1h-1.1zM407.2 117.7h1.1v1.1h-1.1zM371.6 142.2h1.1v1.1h-1.1zM403.9 118.0h1.1v1.1h-1.1zM380.8 139.3h1.1v1.1h-1.1zM392.3 124.1h1.1v1.1h-1.1zM389.4 133.1h1.1v1.1h-1.1zM379.6 145.7h1.1v1.1h-1.1zM407.4 113.3h1.1v1.1h-1.1zM403.4 123.0h1.1v1.1h-1.1zM404.2 117.9h1.1v1.1h-1.1zM370.1 141.8h1.1v1.1h-1.1zM393.6 122.3h1.1v1.1h-1.1zM395.5 124.7h1.1v1.1h-1.1zM403.9 117.9h1.1v1.1h-1.1zM377.9 142.8h1.1v1.1h-1.1zM389.9 123.0h1.1v1.1h-1.1zM371.5 147.3h1.1v1.1h-1.1zM396.3 133.6h1.1v1.1h-1.1zM403.4 122.3h1.1v1.1h-1.1zM392.1 134.3h1.1v1.1h-1.1zM387.9 135.8h1.1v1.1h-1.1zM400.7 116.4h1.1v1.1h-1.1zM390.4 121.1h1.1v1.1h-1.1zM405.4 118.8h1.1v1.1h-1.1zM401.6 118.9h1.1v1.1h-1.1zM391.9 125.9h1.1v1.1h-1.1zM364.7 145.5h1.1v1.1h-1.1zM396.0 120.6h1.1v1.1h-1.1zM393.3 130.4h1.1v1.1h-1.1zM393.8 129.2h1.1v1.1h-1.1zM359.3 152.9h1.1v1.1h-1.1zM404.4 111.6h1.1v1.1h-1.1zM397.6 122.1h1.1v1.1h-1.1zM394.1 121.5h1.1v1.1h-1.1zM402.2 122.5h1.1v1.1h-1.1zM364.5 147.3h1.1v1.1h-1.1zM381.3 129.4h1.1v1.1h-1.1zM380.5 135.6h1.1v1.1h-1.1zM399.1 118.5h1.1v1.1h-1.1zM378.7 135.3h1.1v1.1h-1.1zM389.3 127.9h1.1v1.1h-1.1zM388.6 127.3h1.1v1.1h-1.1zM399.1 111.1h1.1v1.1h-1.1zM404.7 114.2h1.1v1.1h-1.1zM390.7 129.8h1.1v1.1h-1.1zM407.6 114.6h1.1v1.1h-1.1zM400.1 123.7h1.1v1.1h-1.1zM393.3 127.8h1.1v1.1h-1.1zM392.5 125.4h1.1v1.1h-1.1zM392.6 127.6h1.1v1.1h-1.1zM398.6 125.3h1.1v1.1h-1.1zM404.3 119.7h1.1v1.1h-1.1zM383.7 133.1h1.1v1.1h-1.1zM402.9 123.5h1.1v1.1h-1.1zM400.9 118.7h1.1v1.1h-1.1zM400.0 118.8h1.1v1.1h-1.1zM403.5 114.9h1.1v1.1h-1.1zM398.9 124.5h1.1v1.1h-1.1zM396.3 125.3h1.1v1.1h-1.1zM389.8 124.1h1.1v1.1h-1.1zM395.1 126.2h1.1v1.1h-1.1zM397.4 128.4h1.1v1.1h-1.1zM383.7 132.0h1.1v1.1h-1.1zM396.6 127.1h1.1v1.1h-1.1zM392.5 124.7h1.1v1.1h-1.1zM390.2 130.4h1.1v1.1h-1.1zM403.1 118.9h1.1v1.1h-1.1zM402.6 126.0h1.1v1.1h-1.1zM395.0 121.8h1.1v1.1h-1.1zM393.3 126.5h1.1v1.1h-1.1zM406.0 113.0h1.1v1.1h-1.1zM399.3 125.4h1.1v1.1h-1.1zM358.6 160.5h1.1v1.1h-1.1zM374.3 151.3h1.1v1.1h-1.1zM406.3 115.5h1.1v1.1h-1.1zM370.7 136.3h1.1v1.1h-1.1zM389.0 134.4h1.1v1.1h-1.1zM392.8 129.8h1.1v1.1h-1.1zM398.5 120.5h1.1v1.1h-1.1zM393.1 127.4h1.1v1.1h-1.1zM379.1 132.1h1.1v1.1h-1.1zM371.7 149.9h1.1v1.1h-1.1zM401.4 113.9h1.1v1.1h-1.1zM402.3 110.8h1.1v1.1h-1.1zM401.2 113.5h1.1v1.1h-1.1zM391.7 128.9h1.1v1.1h-1.1zM388.1 128.3h1.1v1.1h-1.1zM371.6 146.7h1.1v1.1h-1.1zM404.9 113.5h1.1v1.1h-1.1zM396.2 116.5h1.1v1.1h-1.1zM400.4 119.6h1.1v1.1h-1.1zM402.5 122.7h1.1v1.1h-1.1zM391.2 124.8h1.1v1.1h-1.1zM389.9 130.9h1.1v1.1h-1.1zM388.8 131.8h1.1v1.1h-1.1zM402.6 118.0h1.1v1.1h-1.1zM388.9 134.1h1.1v1.1h-1.1zM399.2 118.3h1.1v1.1h-1.1zM390.5 119.2h1.1v1.1h-1.1zM398.0 125.5h1.1v1.1h-1.1zM388.2 134.2h1.1v1.1h-1.1zM407.1 113.1h1.1v1.1h-1.1zM407.6 115.9h1.1v1.1h-1.1zM405.2 116.0h1.1v1.1h-1.1zM396.6 122.9h1.1v1.1h-1.1zM392.8 131.6h1.1v1.1h-1.1zM378.9 139.3h1.1v1.1h-1.1zM405.4 115.6h1.1v1.1h-1.1zM386.0 134.0h1.1v1.1h-1.1zM405.0 116.8h1.1v1.1h-1.1zM396.9 127.1h1.1v1.1h-1.1zM404.4 112.4h1.1v1.1h-1.1zM384.8 130.9h1.1v1.1h-1.1zM402.6 111.8h1.1v1.1h-1.1zM394.4 119.5h1.1v1.1h-1.1zM385.0 138.4h1.1v1.1h-1.1zM392.5 128.0h1.1v1.1h-1.1zM400.3 123.8h1.1v1.1h-1.1zM378.9 144.4h1.1v1.1h-1.1zM406.3 120.0h1.1v1.1h-1.1zM360.0 158.1h1.1v1.1h-1.1zM388.8 123.1h1.1v1.1h-1.1zM391.9 135.0h1.1v1.1h-1.1zM401.5 123.2h1.1v1.1h-1.1zM380.1 132.7h1.1v1.1h-1.1zM394.4 129.6h1.1v1.1h-1.1zM405.1 116.6h1.1v1.1h-1.1zM386.1 132.2h1.1v1.1h-1.1zM376.7 135.5h1.1v1.1h-1.1zM373.0 138.8h1.1v1.1h-1.1zM407.0 112.1h1.1v1.1h-1.1zM408.0 119.1h1.1v1.1h-1.1zM385.6 129.8h1.1v1.1h-1.1zM362.0 158.0h1.1v1.1h-1.1zM383.4 135.2h1.1v1.1h-1.1zM388.4 129.5h1.1v1.1h-1.1zM405.0 117.7h1.1v1.1h-1.1zM392.1 136.6h1.1v1.1h-1.1zM406.9 119.1h1.1v1.1h-1.1zM403.1 116.1h1.1v1.1h-1.1zM387.6 128.2h1.1v1.1h-1.1zM379.0 145.3h1.1v1.1h-1.1zM395.0 118.3h1.1v1.1h-1.1zM400.5 124.2h1.1v1.1h-1.1zM400.5 121.9h1.1v1.1h-1.1zM396.2 119.3h1.1v1.1h-1.1zM405.5 119.8h1.1v1.1h-1.1zM395.6 116.1h1.1v1.1h-1.1zM392.2 124.3h1.1v1.1h-1.1zM404.8 111.5h1.1v1.1h-1.1zM403.5 120.9h1.1v1.1h-1.1zM396.3 127.8h1.1v1.1h-1.1zM356.9 157.3h1.1v1.1h-1.1zM402.6 113.0h1.1v1.1h-1.1zM395.3 125.2h1.1v1.1h-1.1zM396.0 122.7h1.1v1.1h-1.1zM386.0 125.4h1.1v1.1h-1.1zM402.8 118.0h1.1v1.1h-1.1zM405.4 110.8h1.1v1.1h-1.1zM400.7 116.5h1.1v1.1h-1.1zM390.5 131.4h1.1v1.1h-1.1zM390.0 125.6h1.1v1.1h-1.1zM403.4 118.7h1.1v1.1h-1.1zM392.0 128.5h1.1v1.1h-1.1zM407.7 118.9h1.1v1.1h-1.1zM385.3 136.6h1.1v1.1h-1.1zM403.4 115.0h1.1v1.1h-1.1zM398.1 129.3h1.1v1.1h-1.1zM389.2 128.1h1.1v1.1h-1.1zM404.0 112.4h1.1v1.1h-1.1zM390.6 132.6h1.1v1.1h-1.1zM407.4 120.4h1.1v1.1h-1.1zM403.8 111.5h1.1v1.1h-1.1zM392.4 123.5h1.1v1.1h-1.1zM379.1 140.0h1.1v1.1h-1.1zM389.7 122.0h1.1v1.1h-1.1zM399.4 117.8h1.1v1.1h-1.1zM374.3 154.5h1.1v1.1h-1.1zM375.2 133.3h1.1v1.1h-1.1zM359.5 153.0h1.1v1.1h-1.1zM407.0 113.1h1.1v1.1h-1.1zM407.8 115.8h1.1v1.1h-1.1zM408.6 113.1h1.1v1.1h-1.1zM395.1 121.8h1.1v1.1h-1.1zM388.9 127.5h1.1v1.1h-1.1zM389.8 123.3h1.1v1.1h-1.1zM356.1 158.4h1.1v1.1h-1.1zM401.8 120.8h1.1v1.1h-1.1zM371.3 150.9h1.1v1.1h-1.1zM385.9 135.0h1.1v1.1h-1.1zM400.1 117.1h1.1v1.1h-1.1zM406.2 112.3h1.1v1.1h-1.1zM395.1 127.1h1.1v1.1h-1.1zM405.7 120.4h1.1v1.1h-1.1zM404.6 117.7h1.1v1.1h-1.1zM394.8 129.0h1.1v1.1h-1.1zM398.6 123.8h1.1v1.1h-1.1zM401.8 122.6h1.1v1.1h-1.1zM403.9 122.1h1.1v1.1h-1.1zM397.8 119.6h1.1v1.1h-1.1zM408.6 113.4h1.1v1.1h-1.1zM391.4 131.9h1.1v1.1h-1.1zM404.7 119.6h1.1v1.1h-1.1zM385.8 132.1h1.1v1.1h-1.1zM408.6 114.2h1.1v1.1h-1.1zM393.0 126.7h1.1v1.1h-1.1zM395.4 126.2h1.1v1.1h-1.1zM404.7 113.4h1.1v1.1h-1.1zM393.4 128.6h1.1v1.1h-1.1zM384.5 139.1h1.1v1.1h-1.1zM361.6 153.5h1.1v1.1h-1.1zM401.9 120.1h1.1v1.1h-1.1zM385.1 134.1h1.1v1.1h-1.1zM400.7 122.7h1.1v1.1h-1.1zM384.8 137.2h1.1v1.1h-1.1zM375.0 138.4h1.1v1.1h-1.1zM395.7 126.5h1.1v1.1h-1.1zM399.0 129.2h1.1v1.1h-1.1zM403.0 118.7h1.1v1.1h-1.1zM400.7 122.3h1.1v1.1h-1.1zM398.8 127.4h1.1v1.1h-1.1zM366.0 148.0h1.1v1.1h-1.1zM387.2 145.3h1.1v1.1h-1.1zM383.1 136.8h1.1v1.1h-1.1zM405.8 121.0h1.1v1.1h-1.1zM389.4 126.6h1.1v1.1h-1.1zM394.5 125.3h1.1v1.1h-1.1zM390.9 134.0h1.1v1.1h-1.1zM399.6 125.3h1.1v1.1h-1.1zM381.7 139.5h1.1v1.1h-1.1zM386.7 131.8h1.1v1.1h-1.1zM395.2 125.1h1.1v1.1h-1.1zM400.7 119.4h1.1v1.1h-1.1zM373.1 142.2h1.1v1.1h-1.1zM396.5 131.5h1.1v1.1h-1.1zM393.3 122.8h1.1v1.1h-1.1zM384.4 135.8h1.1v1.1h-1.1zM404.5 118.0h1.1v1.1h-1.1zM392.8 126.6h1.1v1.1h-1.1zM378.9 133.5h1.1v1.1h-1.1zM402.9 120.1h1.1v1.1h-1.1zM404.3 119.9h1.1v1.1h-1.1zM400.7 119.9h1.1v1.1h-1.1zM390.9 135.0h1.1v1.1h-1.1zM381.5 140.1h1.1v1.1h-1.1zM403.0 115.9h1.1v1.1h-1.1zM393.5 119.7h1.1v1.1h-1.1zM398.6 122.4h1.1v1.1h-1.1zM402.6 117.9h1.1v1.1h-1.1zM398.3 121.1h1.1v1.1h-1.1zM400.5 121.2h1.1v1.1h-1.1zM408.5 119.7h1.1v1.1h-1.1zM398.5 116.8h1.1v1.1h-1.1zM380.6 137.7h1.1v1.1h-1.1zM366.6 140.7h1.1v1.1h-1.1zM400.9 115.5h1.1v1.1h-1.1zM396.9 117.5h1.1v1.1h-1.1zM385.7 137.6h1.1v1.1h-1.1zM383.1 122.4h1.1v1.1h-1.1zM404.6 120.9h1.1v1.1h-1.1zM403.0 119.2h1.1v1.1h-1.1zM379.6 143.1h1.1v1.1h-1.1zM403.6 123.0h1.1v1.1h-1.1zM387.3 129.5h1.1v1.1h-1.1zM390.8 125.5h1.1v1.1h-1.1zM382.4 137.3h1.1v1.1h-1.1zM395.9 126.1h1.1v1.1h-1.1zM406.7 111.9h1.1v1.1h-1.1zM378.7 133.1h1.1v1.1h-1.1zM399.5 121.8h1.1v1.1h-1.1zM380.6 129.6h1.1v1.1h-1.1zM371.8 155.5h1.1v1.1h-1.1zM391.4 128.0h1.1v1.1h-1.1zM394.6 123.7h1.1v1.1h-1.1zM405.1 115.8h1.1v1.1h-1.1zM403.8 119.1h1.1v1.1h-1.1zM395.7 121.5h1.1v1.1h-1.1zM400.0 119.2h1.1v1.1h-1.1zM379.7 133.1h1.1v1.1h-1.1zM404.3 117.3h1.1v1.1h-1.1zM395.6 131.9h1.1v1.1h-1.1zM398.7 124.3h1.1v1.1h-1.1zM405.1 117.3h1.1v1.1h-1.1zM360.3 151.5h1.1v1.1h-1.1zM400.6 110.8h1.1v1.1h-1.1zM408.5 114.0h1.1v1.1h-1.1zM384.4 130.4h1.1v1.1h-1.1zM390.4 123.6h1.1v1.1h-1.1zM401.8 121.3h1.1v1.1h-1.1zM394.8 124.4h1.1v1.1h-1.1zM388.9 134.6h1.1v1.1h-1.1zM398.4 127.1h1.1v1.1h-1.1zM369.4 143.4h1.1v1.1h-1.1zM404.2 121.3h1.1v1.1h-1.1zM388.8 133.0h1.1v1.1h-1.1zM407.8 118.2h1.1v1.1h-1.1zM404.4 111.6h1.1v1.1h-1.1zM408.2 112.7h1.1v1.1h-1.1zM368.0 149.9h1.1v1.1h-1.1zM406.0 117.6h1.1v1.1h-1.1zM381.9 136.6h1.1v1.1h-1.1zM388.9 132.5h1.1v1.1h-1.1zM377.7 140.4h1.1v1.1h-1.1zM390.7 132.1h1.1v1.1h-1.1zM402.2 124.4h1.1v1.1h-1.1zM397.2 120.6h1.1v1.1h-1.1zM401.3 115.6h1.1v1.1h-1.1zM391.8 127.4h1.1v1.1h-1.1zM375.7 141.9h1.1v1.1h-1.1zM387.0 126.7h1.1v1.1h-1.1zM398.0 123.2h1.1v1.1h-1.1zM373.4 152.7h1.1v1.1h-1.1zM379.2 131.8h1.1v1.1h-1.1zM402.8 121.2h1.1v1.1h-1.1zM386.0 126.2h1.1v1.1h-1.1zM392.4 124.9h1.1v1.1h-1.1zM376.8 139.0h1.1v1.1h-1.1zM373.1 150.8h1.1v1.1h-1.1zM407.4 116.2h1.1v1.1h-1.1zM407.1 113.7h1.1v1.1h-1.1zM403.0 114.1h1.1v1.1h-1.1zM398.5 117.4h1.1v1.1h-1.1zM388.7 125.5h1.1v1.1h-1.1zM395.7 122.4h1.1v1.1h-1.1zM401.6 122.3h1.1v1.1h-1.1zM370.4 145.0h1.1v1.1h-1.1zM407.6 121.6h1.1v1.1h-1.1zM404.4 113.4h1.1v1.1h-1.1zM404.9 118.1h1.1v1.1h-1.1zM379.8 139.6h1.1v1.1h-1.1zM402.4 118.6h1.1v1.1h-1.1zM404.3 112.4h1.1v1.1h-1.1zM397.4 122.9h1.1v1.1h-1.1zM401.8 119.6h1.1v1.1h-1.1zM375.6 143.3h1.1v1.1h-1.1zM395.8 130.6h1.1v1.1h-1.1zM402.2 115.6h1.1v1.1h-1.1zM383.8 133.2h1.1v1.1h-1.1zM397.2 121.4h1.1v1.1h-1.1zM387.7 122.2h1.1v1.1h-1.1zM404.6 119.4h1.1v1.1h-1.1zM396.9 123.5h1.1v1.1h-1.1zM396.1 120.6h1.1v1.1h-1.1zM405.5 117.1h1.1v1.1h-1.1zM402.5 123.0h1.1v1.1h-1.1zM403.2 121.0h1.1v1.1h-1.1zM399.7 120.0h1.1v1.1h-1.1zM404.6 120.9h1.1v1.1h-1.1zM407.5 116.3h1.1v1.1h-1.1zM406.1 112.2h1.1v1.1h-1.1zM390.0 134.7h1.1v1.1h-1.1zM390.3 123.0h1.1v1.1h-1.1zM386.6 130.9h1.1v1.1h-1.1zM402.7 124.0h1.1v1.1h-1.1zM406.7 113.3h1.1v1.1h-1.1zM388.8 135.5h1.1v1.1h-1.1zM370.0 146.2h1.1v1.1h-1.1zM393.3 128.7h1.1v1.1h-1.1zM379.4 139.3h1.1v1.1h-1.1zM382.4 138.8h1.1v1.1h-1.1zM374.1 144.0h1.1v1.1h-1.1zM403.4 117.2h1.1v1.1h-1.1zM388.6 131.7h1.1v1.1h-1.1zM398.3 118.2h1.1v1.1h-1.1zM405.5 112.1h1.1v1.1h-1.1zM407.9 121.4h1.1v1.1h-1.1zM370.9 143.4h1.1v1.1h-1.1zM391.5 124.1h1.1v1.1h-1.1zM407.4 120.5h1.1v1.1h-1.1zM399.3 119.3h1.1v1.1h-1.1zM381.7 138.0h1.1v1.1h-1.1zM398.0 125.2h1.1v1.1h-1.1zM388.7 126.5h1.1v1.1h-1.1zM373.5 137.9h1.1v1.1h-1.1zM391.0 134.5h1.1v1.1h-1.1zM377.9 143.1h1.1v1.1h-1.1zM363.5 139.6h1.1v1.1h-1.1zM384.8 136.8h1.1v1.1h-1.1zM405.4 113.9h1.1v1.1h-1.1zM399.6 127.0h1.1v1.1h-1.1zM400.9 122.2h1.1v1.1h-1.1zM374.1 142.5h1.1v1.1h-1.1zM380.4 145.5h1.1v1.1h-1.1zM379.0 134.5h1.1v1.1h-1.1zM380.4 137.1h1.1v1.1h-1.1zM400.9 119.9h1.1v1.1h-1.1zM382.4 132.5h1.1v1.1h-1.1zM403.2 118.7h1.1v1.1h-1.1zM372.6 145.0h1.1v1.1h-1.1zM376.9 133.9h1.1v1.1h-1.1zM391.5 129.3h1.1v1.1h-1.1zM405.8 113.1h1.1v1.1h-1.1zM404.7 112.1h1.1v1.1h-1.1zM396.0 133.5h1.1v1.1h-1.1zM361.8 158.6h1.1v1.1h-1.1zM382.1 133.1h1.1v1.1h-1.1zM387.5 131.3h1.1v1.1h-1.1zM398.0 121.8h1.1v1.1h-1.1zM405.1 117.7h1.1v1.1h-1.1zM401.1 114.6h1.1v1.1h-1.1zM403.7 117.2h1.1v1.1h-1.1zM385.2 128.9h1.1v1.1h-1.1zM401.3 118.1h1.1v1.1h-1.1zM389.3 129.2h1.1v1.1h-1.1zM402.3 118.3h1.1v1.1h-1.1zM405.3 114.2h1.1v1.1h-1.1zM359.7 160.1h1.1v1.1h-1.1zM407.0 116.0h1.1v1.1h-1.1zM390.2 130.0h1.1v1.1h-1.1zM377.2 141.5h1.1v1.1h-1.1zM396.3 125.6h1.1v1.1h-1.1zM385.8 130.7h1.1v1.1h-1.1zM389.8 125.4h1.1v1.1h-1.1zM390.8 126.0h1.1v1.1h-1.1zM388.3 131.0h1.1v1.1h-1.1zM374.7 142.9h1.1v1.1h-1.1zM396.0 130.2h1.1v1.1h-1.1zM385.2 128.5h1.1v1.1h-1.1zM399.9 114.9h1.1v1.1h-1.1zM395.5 124.0h1.1v1.1h-1.1zM400.1 116.8h1.1v1.1h-1.1zM408.4 113.7h1.1v1.1h-1.1zM402.3 119.5h1.1v1.1h-1.1zM361.6 158.1h1.1v1.1h-1.1zM379.4 144.4h1.1v1.1h-1.1zM388.1 132.6h1.1v1.1h-1.1zM405.3 116.4h1.1v1.1h-1.1zM403.0 123.4h1.1v1.1h-1.1zM406.8 116.5h1.1v1.1h-1.1zM387.3 128.8h1.1v1.1h-1.1zM384.4 138.4h1.1v1.1h-1.1zM397.4 117.7h1.1v1.1h-1.1zM393.5 126.7h1.1v1.1h-1.1zM386.8 142.4h1.1v1.1h-1.1zM398.5 125.6h1.1v1.1h-1.1zM388.8 127.7h1.1v1.1h-1.1zM403.0 116.5h1.1v1.1h-1.1zM406.4 112.3h1.1v1.1h-1.1zM393.1 128.8h1.1v1.1h-1.1zM390.2 133.0h1.1v1.1h-1.1zM374.0 149.4h1.1v1.1h-1.1zM403.3 121.6h1.1v1.1h-1.1zM394.3 117.9h1.1v1.1h-1.1zM380.8 135.4h1.1v1.1h-1.1zM397.4 118.9h1.1v1.1h-1.1zM353.0 165.8h1.1v1.1h-1.1zM389.6 129.6h1.1v1.1h-1.1zM359.8 159.3h1.1v1.1h-1.1zM382.9 136.4h1.1v1.1h-1.1zM397.1 115.9h1.1v1.1h-1.1zM374.4 142.1h1.1v1.1h-1.1zM383.7 137.7h1.1v1.1h-1.1zM400.0 125.2h1.1v1.1h-1.1zM393.4 122.6h1.1v1.1h-1.1zM396.8 122.1h1.1v1.1h-1.1zM389.0 130.6h1.1v1.1h-1.1zM394.4 121.8h1.1v1.1h-1.1zM382.9 133.1h1.1v1.1h-1.1zM406.7 111.6h1.1v1.1h-1.1zM378.5 147.5h1.1v1.1h-1.1zM376.6 140.3h1.1v1.1h-1.1zM388.3 133.2h1.1v1.1h-1.1zM406.0 114.7h1.1v1.1h-1.1zM393.9 121.4h1.1v1.1h-1.1zM375.4 128.6h1.1v1.1h-1.1zM387.6 123.9h1.1v1.1h-1.1zM395.3 131.5h1.1v1.1h-1.1zM384.8 133.4h1.1v1.1h-1.1zM403.0 119.3h1.1v1.1h-1.1zM408.2 112.5h1.1v1.1h-1.1zM386.4 132.0h1.1v1.1h-1.1zM363.6 155.7h1.1v1.1h-1.1zM389.0 127.1h1.1v1.1h-1.1zM381.9 131.5h1.1v1.1h-1.1zM396.5 123.7h1.1v1.1h-1.1zM404.4 117.3h1.1v1.1h-1.1zM400.5 115.5h1.1v1.1h-1.1zM397.6 122.5h1.1v1.1h-1.1zM384.6 124.9h1.1v1.1h-1.1zM393.8 125.4h1.1v1.1h-1.1zM394.2 117.6h1.1v1.1h-1.1zM384.3 130.0h1.1v1.1h-1.1zM367.1 158.3h1.1v1.1h-1.1zM406.4 115.8h1.1v1.1h-1.1zM394.5 124.8h1.1v1.1h-1.1zM397.8 120.1h1.1v1.1h-1.1zM406.2 120.0h1.1v1.1h-1.1zM397.3 120.2h1.1v1.1h-1.1zM366.3 145.3h1.1v1.1h-1.1zM408.1 117.6h1.1v1.1h-1.1zM354.2 164.3h1.1v1.1h-1.1zM404.5 113.4h1.1v1.1h-1.1zM398.4 116.2h1.1v1.1h-1.1zM388.4 133.6h1.1v1.1h-1.1zM404.9 120.8h1.1v1.1h-1.1zM396.8 117.4h1.1v1.1h-1.1zM402.5 118.5h1.1v1.1h-1.1zM397.6 122.2h1.1v1.1h-1.1zM408.3 117.1h1.1v1.1h-1.1zM392.7 132.2h1.1v1.1h-1.1zM382.8 137.0h1.1v1.1h-1.1zM363.4 160.6h1.1v1.1h-1.1zM402.6 121.4h1.1v1.1h-1.1zM372.2 138.0h1.1v1.1h-1.1zM366.3 145.5h1.1v1.1h-1.1zM381.4 139.5h1.1v1.1h-1.1zM382.4 137.9h1.1v1.1h-1.1zM408.0 118.5h1.1v1.1h-1.1zM407.3 112.3h1.1v1.1h-1.1zM407.7 117.8h1.1v1.1h-1.1zM390.3 124.9h1.1v1.1h-1.1zM407.2 110.9h1.1v1.1h-1.1zM388.6 134.7h1.1v1.1h-1.1zM408.3 120.2h1.1v1.1h-1.1zM388.2 128.8h1.1v1.1h-1.1zM391.3 126.3h1.1v1.1h-1.1zM401.1 127.7h1.1v1.1h-1.1zM399.2 114.8h1.1v1.1h-1.1zM408.1 112.7h1.1v1.1h-1.1zM394.8 131.7h1.1v1.1h-1.1zM376.9 126.9h1.1v1.1h-1.1zM405.2 119.1h1.1v1.1h-1.1zM406.2 122.4h1.1v1.1h-1.1zM380.2 129.7h1.1v1.1h-1.1zM393.8 124.4h1.1v1.1h-1.1zM390.8 124.7h1.1v1.1h-1.1zM392.0 128.0h1.1v1.1h-1.1zM382.0 133.7h1.1v1.1h-1.1zM402.4 124.4h1.1v1.1h-1.1zM376.8 135.0h1.1v1.1h-1.1zM398.1 121.8h1.1v1.1h-1.1zM383.0 134.6h1.1v1.1h-1.1zM394.2 125.8h1.1v1.1h-1.1zM407.0 114.2h1.1v1.1h-1.1zM358.0 154.2h1.1v1.1h-1.1zM402.9 118.8h1.1v1.1h-1.1zM395.2 128.8h1.1v1.1h-1.1zM370.9 148.2h1.1v1.1h-1.1zM378.2 148.3h1.1v1.1h-1.1zM389.9 138.1h1.1v1.1h-1.1zM380.6 131.6h1.1v1.1h-1.1zM389.3 120.7h1.1v1.1h-1.1zM395.1 135.4h1.1v1.1h-1.1zM408.0 117.1h1.1v1.1h-1.1zM373.6 144.8h1.1v1.1h-1.1zM385.1 131.4h1.1v1.1h-1.1zM379.3 141.7h1.1v1.1h-1.1zM393.5 121.1h1.1v1.1h-1.1zM406.9 118.0h1.1v1.1h-1.1zM390.4 137.4h1.1v1.1h-1.1zM391.8 123.7h1.1v1.1h-1.1zM370.1 145.7h1.1v1.1h-1.1zM406.6 111.3h1.1v1.1h-1.1zM385.7 128.8h1.1v1.1h-1.1zM376.9 129.7h1.1v1.1h-1.1zM375.8 141.8h1.1v1.1h-1.1zM404.6 115.7h1.1v1.1h-1.1zM388.8 126.4h1.1v1.1h-1.1zM360.8 146.9h1.1v1.1h-1.1zM389.5 132.2h1.1v1.1h-1.1zM393.7 125.3h1.1v1.1h-1.1zM393.4 120.8h1.1v1.1h-1.1zM397.9 117.8h1.1v1.1h-1.1zM405.3 110.6h1.1v1.1h-1.1zM399.4 125.5h1.1v1.1h-1.1zM408.6 118.1h1.1v1.1h-1.1zM383.0 131.9h1.1v1.1h-1.1zM374.6 141.9h1.1v1.1h-1.1zM391.2 129.6h1.1v1.1h-1.1zM400.1 122.7h1.1v1.1h-1.1zM407.4 114.1h1.1v1.1h-1.1zM398.7 125.5h1.1v1.1h-1.1zM385.8 131.3h1.1v1.1h-1.1zM398.5 119.5h1.1v1.1h-1.1zM398.6 127.1h1.1v1.1h-1.1zM393.5 124.9h1.1v1.1h-1.1zM393.6 127.4h1.1v1.1h-1.1zM401.5 113.8h1.1v1.1h-1.1zM374.3 134.4h1.1v1.1h-1.1zM398.1 122.2h1.1v1.1h-1.1zM406.7 112.0h1.1v1.1h-1.1zM393.1 125.2h1.1v1.1h-1.1zM389.3 137.9h1.1v1.1h-1.1zM404.5 116.0h1.1v1.1h-1.1zM395.4 122.0h1.1v1.1h-1.1zM394.3 121.9h1.1v1.1h-1.1zM387.3 126.0h1.1v1.1h-1.1zM354.0 164.0h1.1v1.1h-1.1zM383.1 132.0h1.1v1.1h-1.1zM389.9 124.7h1.1v1.1h-1.1zM377.3 147.0h1.1v1.1h-1.1zM400.9 117.6h1.1v1.1h-1.1zM383.1 139.4h1.1v1.1h-1.1zM408.1 114.6h1.1v1.1h-1.1zM405.5 116.1h1.1v1.1h-1.1zM405.7 122.3h1.1v1.1h-1.1zM408.0 113.0h1.1v1.1h-1.1zM400.9 134.1h1.1v1.1h-1.1zM394.6 127.9h1.1v1.1h-1.1zM391.0 121.2h1.1v1.1h-1.1zM389.7 130.2h1.1v1.1h-1.1zM389.0 127.9h1.1v1.1h-1.1zM396.5 117.1h1.1v1.1h-1.1zM386.0 133.2h1.1v1.1h-1.1zM396.1 127.1h1.1v1.1h-1.1zM376.4 137.0h1.1v1.1h-1.1zM375.2 143.7h1.1v1.1h-1.1zM398.0 129.6h1.1v1.1h-1.1zM364.8 157.6h1.1v1.1h-1.1zM389.0 130.9h1.1v1.1h-1.1zM383.9 134.3h1.1v1.1h-1.1zM408.4 112.9h1.1v1.1h-1.1zM391.3 128.1h1.1v1.1h-1.1zM405.4 115.8h1.1v1.1h-1.1zM386.1 126.5h1.1v1.1h-1.1zM394.6 130.8h1.1v1.1h-1.1zM399.8 120.3h1.1v1.1h-1.1zM391.9 133.9h1.1v1.1h-1.1zM382.9 134.6h1.1v1.1h-1.1zM400.8 124.1h1.1v1.1h-1.1zM385.6 132.2h1.1v1.1h-1.1zM405.8 121.6h1.1v1.1h-1.1zM390.8 121.8h1.1v1.1h-1.1zM387.1 126.9h1.1v1.1h-1.1zM377.5 133.0h1.1v1.1h-1.1zM375.9 144.6h1.1v1.1h-1.1zM394.8 122.2h1.1v1.1h-1.1zM383.4 132.4h1.1v1.1h-1.1zM383.8 133.4h1.1v1.1h-1.1zM402.0 119.2h1.1v1.1h-1.1zM388.2 134.4h1.1v1.1h-1.1zM376.2 141.4h1.1v1.1h-1.1zM402.1 125.1h1.1v1.1h-1.1zM399.7 119.6h1.1v1.1h-1.1zM383.3 142.6h1.1v1.1h-1.1zM406.1 117.6h1.1v1.1h-1.1zM384.3 134.1h1.1v1.1h-1.1zM393.2 122.5h1.1v1.1h-1.1zM353.7 157.1h1.1v1.1h-1.1zM369.9 156.7h1.1v1.1h-1.1zM398.0 123.5h1.1v1.1h-1.1zM406.0 118.8h1.1v1.1h-1.1zM387.3 134.8h1.1v1.1h-1.1zM407.6 116.9h1.1v1.1h-1.1zM400.1 123.7h1.1v1.1h-1.1zM403.9 121.5h1.1v1.1h-1.1zM366.3 163.5h1.1v1.1h-1.1zM408.3 112.6h1.1v1.1h-1.1zM389.1 133.3h1.1v1.1h-1.1zM385.5 139.9h1.1v1.1h-1.1zM393.2 129.0h1.1v1.1h-1.1zM388.6 130.8h1.1v1.1h-1.1zM403.1 125.1h1.1v1.1h-1.1zM394.9 121.4h1.1v1.1h-1.1zM396.3 120.7h1.1v1.1h-1.1zM375.2 137.3h1.1v1.1h-1.1zM351.9 156.5h1.1v1.1h-1.1zM402.1 123.5h1.1v1.1h-1.1zM397.9 124.9h1.1v1.1h-1.1zM404.9 124.1h1.1v1.1h-1.1zM391.1 124.7h1.1v1.1h-1.1zM405.7 112.3h1.1v1.1h-1.1zM391.3 133.0h1.1v1.1h-1.1zM381.2 134.7h1.1v1.1h-1.1zM408.0 113.0h1.1v1.1h-1.1zM392.1 122.8h1.1v1.1h-1.1zM398.6 116.8h1.1v1.1h-1.1zM401.5 116.2h1.1v1.1h-1.1zM407.5 117.4h1.1v1.1h-1.1zM407.1 120.6h1.1v1.1h-1.1zM405.0 115.2h1.1v1.1h-1.1zM394.5 129.7h1.1v1.1h-1.1zM381.6 139.9h1.1v1.1h-1.1zM366.5 153.2h1.1v1.1h-1.1zM355.4 158.9h1.1v1.1h-1.1zM393.2 129.2h1.1v1.1h-1.1zM372.7 150.2h1.1v1.1h-1.1zM406.4 115.0h1.1v1.1h-1.1zM393.7 128.9h1.1v1.1h-1.1zM374.5 146.9h1.1v1.1h-1.1zM382.2 129.4h1.1v1.1h-1.1zM402.9 114.9h1.1v1.1h-1.1zM399.3 120.5h1.1v1.1h-1.1zM397.1 123.8h1.1v1.1h-1.1zM403.9 113.1h1.1v1.1h-1.1zM396.6 126.4h1.1v1.1h-1.1zM403.1 119.6h1.1v1.1h-1.1zM383.0 133.7h1.1v1.1h-1.1zM406.9 116.3h1.1v1.1h-1.1zM379.9 136.0h1.1v1.1h-1.1zM366.3 145.4h1.1v1.1h-1.1zM404.3 118.7h1.1v1.1h-1.1zM402.9 117.0h1.1v1.1h-1.1zM392.6 124.7h1.1v1.1h-1.1zM376.7 148.2h1.1v1.1h-1.1zM408.1 118.7h1.1v1.1h-1.1zM387.7 133.8h1.1v1.1h-1.1zM395.4 128.5h1.1v1.1h-1.1zM377.8 134.5h1.1v1.1h-1.1zM402.2 114.5h1.1v1.1h-1.1zM386.2 143.0h1.1v1.1h-1.1zM396.6 119.6h1.1v1.1h-1.1zM397.3 121.0h1.1v1.1h-1.1zM386.8 125.7h1.1v1.1h-1.1zM399.9 116.1h1.1v1.1h-1.1zM403.0 112.5h1.1v1.1h-1.1zM407.2 115.9h1.1v1.1h-1.1zM395.6 123.9h1.1v1.1h-1.1zM390.2 134.3h1.1v1.1h-1.1zM406.0 112.2h1.1v1.1h-1.1zM402.8 114.5h1.1v1.1h-1.1zM376.4 147.2h1.1v1.1h-1.1zM403.5 121.2h1.1v1.1h-1.1zM395.6 123.5h1.1v1.1h-1.1zM360.4 152.0h1.1v1.1h-1.1zM391.6 125.3h1.1v1.1h-1.1zM395.5 116.5h1.1v1.1h-1.1zM401.2 114.7h1.1v1.1h-1.1zM379.2 136.3h1.1v1.1h-1.1zM372.4 145.5h1.1v1.1h-1.1zM402.7 124.5h1.1v1.1h-1.1zM407.4 110.8h1.1v1.1h-1.1zM403.4 118.0h1.1v1.1h-1.1zM378.8 141.9h1.1v1.1h-1.1zM389.5 129.4h1.1v1.1h-1.1zM385.9 130.1h1.1v1.1h-1.1zM407.2 115.9h1.1v1.1h-1.1zM383.6 130.7h1.1v1.1h-1.1zM373.4 142.2h1.1v1.1h-1.1zM359.7 147.9h1.1v1.1h-1.1zM396.2 126.3h1.1v1.1h-1.1zM382.4 137.2h1.1v1.1h-1.1zM373.0 141.3h1.1v1.1h-1.1zM398.3 129.2h1.1v1.1h-1.1zM382.8 137.1h1.1v1.1h-1.1zM371.8 144.3h1.1v1.1h-1.1zM397.4 121.8h1.1v1.1h-1.1zM392.8 131.0h1.1v1.1h-1.1zM406.7 120.9h1.1v1.1h-1.1zM376.4 148.5h1.1v1.1h-1.1zM391.5 126.4h1.1v1.1h-1.1zM393.8 120.5h1.1v1.1h-1.1zM407.8 112.6h1.1v1.1h-1.1zM400.4 118.0h1.1v1.1h-1.1zM387.0 133.0h1.1v1.1h-1.1zM405.6 115.3h1.1v1.1h-1.1zM393.4 126.7h1.1v1.1h-1.1zM402.9 117.0h1.1v1.1h-1.1zM396.7 119.7h1.1v1.1h-1.1zM397.4 118.6h1.1v1.1h-1.1zM391.6 121.6h1.1v1.1h-1.1zM395.9 126.5h1.1v1.1h-1.1zM361.3 148.4h1.1v1.1h-1.1zM383.3 131.7h1.1v1.1h-1.1zM407.7 118.0h1.1v1.1h-1.1zM399.8 122.0h1.1v1.1h-1.1zM400.5 128.7h1.1v1.1h-1.1zM377.2 146.1h1.1v1.1h-1.1zM386.3 130.3h1.1v1.1h-1.1zM397.2 126.2h1.1v1.1h-1.1zM408.5 111.8h1.1v1.1h-1.1zM405.5 113.4h1.1v1.1h-1.1zM392.9 128.2h1.1v1.1h-1.1zM375.7 131.3h1.1v1.1h-1.1zM400.8 123.6h1.1v1.1h-1.1zM393.4 123.6h1.1v1.1h-1.1zM396.1 113.8h1.1v1.1h-1.1zM360.8 148.1h1.1v1.1h-1.1zM407.9 112.1h1.1v1.1h-1.1zM402.2 119.3h1.1v1.1h-1.1zM402.2 123.7h1.1v1.1h-1.1zM400.6 112.2h1.1v1.1h-1.1zM356.2 152.3h1.1v1.1h-1.1zM363.2 157.2h1.1v1.1h-1.1zM390.8 130.2h1.1v1.1h-1.1zM396.9 129.4h1.1v1.1h-1.1zM406.2 115.5h1.1v1.1h-1.1zM395.6 130.8h1.1v1.1h-1.1zM405.5 113.8h1.1v1.1h-1.1zM385.5 130.8h1.1v1.1h-1.1zM377.7 134.2h1.1v1.1h-1.1zM351.2 154.1h1.1v1.1h-1.1zM406.5 118.7h1.1v1.1h-1.1zM399.9 116.4h1.1v1.1h-1.1zM377.1 146.4h1.1v1.1h-1.1zM394.7 127.4h1.1v1.1h-1.1zM379.0 137.8h1.1v1.1h-1.1zM397.5 128.2h1.1v1.1h-1.1zM396.5 130.7h1.1v1.1h-1.1zM382.1 142.2h1.1v1.1h-1.1zM374.0 134.9h1.1v1.1h-1.1zM404.1 118.2h1.1v1.1h-1.1zM394.4 119.9h1.1v1.1h-1.1zM392.2 117.6h1.1v1.1h-1.1zM404.4 111.9h1.1v1.1h-1.1zM360.5 155.4h1.1v1.1h-1.1zM394.5 116.7h1.1v1.1h-1.1zM404.3 121.6h1.1v1.1h-1.1zM369.0 151.1h1.1v1.1h-1.1zM408.6 117.6h1.1v1.1h-1.1zM394.9 124.0h1.1v1.1h-1.1zM402.8 119.5h1.1v1.1h-1.1zM397.0 126.0h1.1v1.1h-1.1zM380.0 132.3h1.1v1.1h-1.1zM390.5 134.8h1.1v1.1h-1.1zM384.9 131.7h1.1v1.1h-1.1zM362.6 154.4h1.1v1.1h-1.1zM402.3 119.3h1.1v1.1h-1.1zM403.6 117.8h1.1v1.1h-1.1zM386.6 127.7h1.1v1.1h-1.1zM397.5 115.9h1.1v1.1h-1.1zM403.9 119.0h1.1v1.1h-1.1zM376.9 152.1h1.1v1.1h-1.1zM401.4 123.4h1.1v1.1h-1.1zM387.1 141.2h1.1v1.1h-1.1zM405.9 116.7h1.1v1.1h-1.1zM386.6 127.0h1.1v1.1h-1.1zM400.5 118.0h1.1v1.1h-1.1zM397.9 121.5h1.1v1.1h-1.1zM399.5 120.4h1.1v1.1h-1.1zM406.6 117.2h1.1v1.1h-1.1zM399.8 121.3h1.1v1.1h-1.1zM388.9 134.8h1.1v1.1h-1.1zM399.7 115.1h1.1v1.1h-1.1zM381.9 138.2h1.1v1.1h-1.1zM399.5 116.4h1.1v1.1h-1.1zM394.2 130.5h1.1v1.1h-1.1zM403.8 117.8h1.1v1.1h-1.1zM384.6 133.2h1.1v1.1h-1.1zM407.3 113.7h1.1v1.1h-1.1zM378.1 134.0h1.1v1.1h-1.1zM392.5 125.9h1.1v1.1h-1.1zM402.3 117.9h1.1v1.1h-1.1zM375.4 137.5h1.1v1.1h-1.1zM407.9 115.9h1.1v1.1h-1.1zM405.3 114.1h1.1v1.1h-1.1zM398.5 117.0h1.1v1.1h-1.1zM408.3 117.6h1.1v1.1h-1.1zM367.0 164.2h1.1v1.1h-1.1zM403.2 118.0h1.1v1.1h-1.1zM388.5 125.4h1.1v1.1h-1.1zM379.0 131.4h1.1v1.1h-1.1zM402.2 117.9h1.1v1.1h-1.1zM388.0 131.1h1.1v1.1h-1.1zM383.0 137.4h1.1v1.1h-1.1zM395.2 121.9h1.1v1.1h-1.1zM386.1 127.1h1.1v1.1h-1.1zM402.4 124.3h1.1v1.1h-1.1zM399.2 116.9h1.1v1.1h-1.1zM397.8 123.5h1.1v1.1h-1.1zM392.3 122.2h1.1v1.1h-1.1zM404.1 116.7h1.1v1.1h-1.1zM400.5 124.1h1.1v1.1h-1.1zM370.4 148.1h1.1v1.1h-1.1zM386.1 129.1h1.1v1.1h-1.1zM394.8 118.4h1.1v1.1h-1.1zM404.0 120.8h1.1v1.1h-1.1zM388.7 124.0h1.1v1.1h-1.1zM400.7 124.7h1.1v1.1h-1.1zM407.4 123.3h1.1v1.1h-1.1zM403.1 120.5h1.1v1.1h-1.1zM394.2 127.5h1.1v1.1h-1.1zM382.9 137.1h1.1v1.1h-1.1zM367.1 151.1h1.1v1.1h-1.1zM404.8 119.8h1.1v1.1h-1.1zM382.6 134.0h1.1v1.1h-1.1zM401.5 122.9h1.1v1.1h-1.1zM397.3 124.5h1.1v1.1h-1.1zM397.4 122.9h1.1v1.1h-1.1zM400.7 116.7h1.1v1.1h-1.1zM383.5 133.1h1.1v1.1h-1.1zM393.8 128.7h1.1v1.1h-1.1zM401.2 124.2h1.1v1.1h-1.1zM405.2 117.3h1.1v1.1h-1.1zM406.7 113.7h1.1v1.1h-1.1zM387.5 124.0h1.1v1.1h-1.1zM390.7 124.1h1.1v1.1h-1.1zM386.9 127.2h1.1v1.1h-1.1zM382.3 142.2h1.1v1.1h-1.1zM357.2 161.1h1.1v1.1h-1.1zM360.1 146.1h1.1v1.1h-1.1zM407.4 116.9h1.1v1.1h-1.1zM397.0 118.4h1.1v1.1h-1.1zM403.4 118.8h1.1v1.1h-1.1zM385.2 137.6h1.1v1.1h-1.1zM391.4 130.4h1.1v1.1h-1.1zM393.4 123.1h1.1v1.1h-1.1zM404.0 121.0h1.1v1.1h-1.1zM399.3 129.2h1.1v1.1h-1.1zM405.3 115.2h1.1v1.1h-1.1zM396.3 124.6h1.1v1.1h-1.1zM400.6 123.6h1.1v1.1h-1.1zM408.2 112.5h1.1v1.1h-1.1zM383.9 131.8h1.1v1.1h-1.1zM405.8 115.0h1.1v1.1h-1.1zM398.9 112.9h1.1v1.1h-1.1zM408.7 115.6h1.1v1.1h-1.1zM391.4 125.3h1.1v1.1h-1.1zM404.4 119.6h1.1v1.1h-1.1zM393.9 121.6h1.1v1.1h-1.1zM408.3 117.5h1.1v1.1h-1.1zM391.0 126.8h1.1v1.1h-1.1zM395.4 125.7h1.1v1.1h-1.1zM388.9 126.4h1.1v1.1h-1.1zM400.2 118.2h1.1v1.1h-1.1zM403.4 118.4h1.1v1.1h-1.1zM401.1 120.3h1.1v1.1h-1.1zM384.7 135.7h1.1v1.1h-1.1zM384.7 130.3h1.1v1.1h-1.1zM395.5 126.8h1.1v1.1h-1.1zM396.1 122.7h1.1v1.1h-1.1zM388.9 134.3h1.1v1.1h-1.1zM408.2 117.0h1.1v1.1h-1.1zM394.8 119.1h1.1v1.1h-1.1zM367.8 153.3h1.1v1.1h-1.1zM398.8 118.2h1.1v1.1h-1.1zM392.7 135.5h1.1v1.1h-1.1zM373.7 141.7h1.1v1.1h-1.1zM386.3 128.3h1.1v1.1h-1.1zM393.8 120.0h1.1v1.1h-1.1zM404.9 113.6h1.1v1.1h-1.1zM398.2 130.9h1.1v1.1h-1.1zM402.3 117.5h1.1v1.1h-1.1zM403.1 120.5h1.1v1.1h-1.1zM404.0 121.4h1.1v1.1h-1.1zM403.9 116.5h1.1v1.1h-1.1zM368.1 145.8h1.1v1.1h-1.1zM399.9 125.2h1.1v1.1h-1.1zM407.3 113.9h1.1v1.1h-1.1zM388.3 127.4h1.1v1.1h-1.1zM369.9 143.5h1.1v1.1h-1.1zM392.9 121.9h1.1v1.1h-1.1zM406.1 111.1h1.1v1.1h-1.1zM392.3 126.3h1.1v1.1h-1.1zM394.4 119.7h1.1v1.1h-1.1zM402.8 119.0h1.1v1.1h-1.1zM399.2 121.3h1.1v1.1h-1.1zM405.9 111.9h1.1v1.1h-1.1zM393.2 122.6h1.1v1.1h-1.1zM401.0 120.5h1.1v1.1h-1.1zM383.3 137.9h1.1v1.1h-1.1zM368.8 144.2h1.1v1.1h-1.1zM404.8 120.6h1.1v1.1h-1.1zM391.3 126.2h1.1v1.1h-1.1zM399.9 124.5h1.1v1.1h-1.1zM386.3 128.3h1.1v1.1h-1.1zM380.3 136.0h1.1v1.1h-1.1zM404.8 117.9h1.1v1.1h-1.1zM374.0 138.4h1.1v1.1h-1.1zM394.1 121.0h1.1v1.1h-1.1zM394.2 122.9h1.1v1.1h-1.1zM380.9 140.4h1.1v1.1h-1.1zM390.4 128.8h1.1v1.1h-1.1zM389.7 128.5h1.1v1.1h-1.1zM395.7 127.1h1.1v1.1h-1.1zM403.3 119.7h1.1v1.1h-1.1zM393.2 127.2h1.1v1.1h-1.1zM392.1 129.4h1.1v1.1h-1.1zM383.6 136.5h1.1v1.1h-1.1zM394.8 120.4h1.1v1.1h-1.1zM380.4 140.7h1.1v1.1h-1.1zM396.9 127.9h1.1v1.1h-1.1zM400.5 121.4h1.1v1.1h-1.1zM394.4 130.6h1.1v1.1h-1.1zM398.4 124.6h1.1v1.1h-1.1zM406.7 119.2h1.1v1.1h-1.1zM381.7 123.3h1.1v1.1h-1.1zM404.4 122.4h1.1v1.1h-1.1zM391.9 133.1h1.1v1.1h-1.1zM370.8 137.8h1.1v1.1h-1.1zM383.6 138.6h1.1v1.1h-1.1zM386.7 129.9h1.1v1.1h-1.1zM367.9 145.6h1.1v1.1h-1.1zM395.4 129.3h1.1v1.1h-1.1zM372.9 142.3h1.1v1.1h-1.1zM388.3 130.0h1.1v1.1h-1.1zM391.8 122.8h1.1v1.1h-1.1zM392.0 130.1h1.1v1.1h-1.1zM406.2 114.4h1.1v1.1h-1.1zM397.0 127.0h1.1v1.1h-1.1zM404.0 116.4h1.1v1.1h-1.1zM408.1 113.1h1.1v1.1h-1.1zM403.7 117.8h1.1v1.1h-1.1zM398.7 117.2h1.1v1.1h-1.1zM395.8 125.4h1.1v1.1h-1.1zM391.0 133.2h1.1v1.1h-1.1zM399.7 120.7h1.1v1.1h-1.1zM406.0 113.3h1.1v1.1h-1.1zM405.2 113.0h1.1v1.1h-1.1zM372.5 142.8h1.1v1.1h-1.1zM403.4 110.8h1.1v1.1h-1.1zM394.5 132.2h1.1v1.1h-1.1zM382.0 135.2h1.1v1.1h-1.1zM391.6 132.7h1.1v1.1h-1.1zM391.7 130.4h1.1v1.1h-1.1zM397.6 127.0h1.1v1.1h-1.1zM394.5 121.1h1.1v1.1h-1.1zM395.8 123.5h1.1v1.1h-1.1zM390.7 135.9h1.1v1.1h-1.1zM407.0 114.6h1.1v1.1h-1.1zM380.1 133.4h1.1v1.1h-1.1zM392.3 123.3h1.1v1.1h-1.1zM398.5 126.4h1.1v1.1h-1.1zM406.9 113.6h1.1v1.1h-1.1zM405.2 118.0h1.1v1.1h-1.1zM388.8 133.4h1.1v1.1h-1.1zM407.0 116.0h1.1v1.1h-1.1zM375.4 143.3h1.1v1.1h-1.1zM399.6 122.5h1.1v1.1h-1.1zM405.0 119.7h1.1v1.1h-1.1zM399.0 127.3h1.1v1.1h-1.1zM367.3 142.5h1.1v1.1h-1.1zM387.6 129.3h1.1v1.1h-1.1zM406.1 117.1h1.1v1.1h-1.1zM394.2 127.8h1.1v1.1h-1.1zM400.0 121.8h1.1v1.1h-1.1zM389.4 125.5h1.1v1.1h-1.1zM398.7 115.1h1.1v1.1h-1.1zM406.2 120.8h1.1v1.1h-1.1zM404.5 115.4h1.1v1.1h-1.1zM401.4 119.9h1.1v1.1h-1.1zM403.3 122.4h1.1v1.1h-1.1zM374.5 146.5h1.1v1.1h-1.1zM387.4 138.4h1.1v1.1h-1.1zM391.9 127.6h1.1v1.1h-1.1zM379.4 135.7h1.1v1.1h-1.1zM394.2 130.7h1.1v1.1h-1.1zM386.4 132.7h1.1v1.1h-1.1zM391.4 129.9h1.1v1.1h-1.1zM376.9 131.6h1.1v1.1h-1.1zM405.6 123.8h1.1v1.1h-1.1zM387.0 132.2h1.1v1.1h-1.1zM395.4 120.2h1.1v1.1h-1.1zM388.6 130.1h1.1v1.1h-1.1zM405.2 118.6h1.1v1.1h-1.1zM394.9 125.3h1.1v1.1h-1.1zM400.6 112.2h1.1v1.1h-1.1zM405.6 111.4h1.1v1.1h-1.1zM393.7 125.3h1.1v1.1h-1.1zM387.2 141.1h1.1v1.1h-1.1zM398.0 123.2h1.1v1.1h-1.1zM387.1 130.9h1.1v1.1h-1.1zM407.1 118.9h1.1v1.1h-1.1zM402.2 121.2h1.1v1.1h-1.1zM402.6 117.1h1.1v1.1h-1.1zM382.1 131.3h1.1v1.1h-1.1zM403.4 114.9h1.1v1.1h-1.1zM366.8 152.2h1.1v1.1h-1.1zM402.7 119.5h1.1v1.1h-1.1zM395.4 123.1h1.1v1.1h-1.1zM400.7 123.7h1.1v1.1h-1.1zM369.7 143.5h1.1v1.1h-1.1zM402.3 114.1h1.1v1.1h-1.1zM391.4 128.3h1.1v1.1h-1.1zM380.2 139.4h1.1v1.1h-1.1zM394.2 120.3h1.1v1.1h-1.1zM375.0 138.0h1.1v1.1h-1.1zM378.0 142.3h1.1v1.1h-1.1zM380.6 140.7h1.1v1.1h-1.1zM399.8 119.0h1.1v1.1h-1.1zM396.9 120.2h1.1v1.1h-1.1zM374.1 142.4h1.1v1.1h-1.1zM385.7 133.7h1.1v1.1h-1.1zM406.6 115.9h1.1v1.1h-1.1zM386.0 127.6h1.1v1.1h-1.1zM369.1 145.0h1.1v1.1h-1.1zM355.7 160.1h1.1v1.1h-1.1zM395.5 127.6h1.1v1.1h-1.1zM396.7 119.5h1.1v1.1h-1.1zM405.9 119.4h1.1v1.1h-1.1zM397.0 135.7h1.1v1.1h-1.1zM408.5 117.5h1.1v1.1h-1.1zM407.5 118.2h1.1v1.1h-1.1zM390.2 131.2h1.1v1.1h-1.1zM385.1 135.9h1.1v1.1h-1.1zM387.8 127.6h1.1v1.1h-1.1zM395.0 126.1h1.1v1.1h-1.1zM406.3 117.8h1.1v1.1h-1.1zM404.9 119.1h1.1v1.1h-1.1zM379.7 142.8h1.1v1.1h-1.1zM370.6 144.3h1.1v1.1h-1.1zM393.7 126.4h1.1v1.1h-1.1zM399.6 115.7h1.1v1.1h-1.1zM408.0 115.7h1.1v1.1h-1.1zM395.4 123.1h1.1v1.1h-1.1zM395.0 128.0h1.1v1.1h-1.1zM406.0 121.3h1.1v1.1h-1.1zM390.4 124.4h1.1v1.1h-1.1zM391.7 122.8h1.1v1.1h-1.1zM399.7 123.0h1.1v1.1h-1.1zM403.1 119.5h1.1v1.1h-1.1zM383.5 135.9h1.1v1.1h-1.1zM382.1 139.4h1.1v1.1h-1.1zM401.4 112.6h1.1v1.1h-1.1zM393.8 128.5h1.1v1.1h-1.1zM396.6 130.0h1.1v1.1h-1.1zM402.6 120.6h1.1v1.1h-1.1zM365.2 153.4h1.1v1.1h-1.1zM366.2 145.4h1.1v1.1h-1.1zM390.0 129.3h1.1v1.1h-1.1zM403.2 114.7h1.1v1.1h-1.1zM397.4 122.5h1.1v1.1h-1.1zM380.9 136.4h1.1v1.1h-1.1zM381.9 132.2h1.1v1.1h-1.1zM407.8 112.7h1.1v1.1h-1.1zM395.9 127.0h1.1v1.1h-1.1zM395.4 114.8h1.1v1.1h-1.1zM391.3 124.0h1.1v1.1h-1.1zM395.4 121.0h1.1v1.1h-1.1zM381.9 142.4h1.1v1.1h-1.1zM390.0 138.0h1.1v1.1h-1.1zM407.9 112.1h1.1v1.1h-1.1zM388.6 125.7h1.1v1.1h-1.1zM390.0 130.3h1.1v1.1h-1.1zM405.3 118.3h1.1v1.1h-1.1zM392.3 130.0h1.1v1.1h-1.1zM386.2 126.4h1.1v1.1h-1.1zM394.1 118.5h1.1v1.1h-1.1zM407.2 118.2h1.1v1.1h-1.1zM395.5 123.4h1.1v1.1h-1.1zM388.6 125.1h1.1v1.1h-1.1zM390.7 124.4h1.1v1.1h-1.1zM397.9 119.7h1.1v1.1h-1.1zM390.8 122.1h1.1v1.1h-1.1zM398.0 121.1h1.1v1.1h-1.1zM400.5 121.6h1.1v1.1h-1.1zM407.1 111.7h1.1v1.1h-1.1zM375.9 144.6h1.1v1.1h-1.1zM363.4 150.3h1.1v1.1h-1.1zM397.4 130.2h1.1v1.1h-1.1zM389.5 127.3h1.1v1.1h-1.1zM395.5 122.4h1.1v1.1h-1.1zM397.2 125.2h1.1v1.1h-1.1zM377.5 145.5h1.1v1.1h-1.1zM398.9 122.4h1.1v1.1h-1.1zM374.7 138.3h1.1v1.1h-1.1zM403.0 114.9h1.1v1.1h-1.1zM383.8 133.8h1.1v1.1h-1.1zM395.4 125.3h1.1v1.1h-1.1zM392.1 120.5h1.1v1.1h-1.1zM394.0 128.9h1.1v1.1h-1.1zM390.6 124.4h1.1v1.1h-1.1zM406.0 113.2h1.1v1.1h-1.1zM402.1 123.5h1.1v1.1h-1.1zM406.6 111.5h1.1v1.1h-1.1zM401.3 128.2h1.1v1.1h-1.1zM392.6 122.2h1.1v1.1h-1.1zM404.5 111.9h1.1v1.1h-1.1zM393.5 127.8h1.1v1.1h-1.1zM388.6 133.7h1.1v1.1h-1.1zM398.9 120.8h1.1v1.1h-1.1zM398.8 120.1h1.1v1.1h-1.1zM382.6 137.4h1.1v1.1h-1.1zM378.8 146.0h1.1v1.1h-1.1zM381.6 141.6h1.1v1.1h-1.1zM377.8 133.4h1.1v1.1h-1.1zM384.1 136.9h1.1v1.1h-1.1zM396.7 128.0h1.1v1.1h-1.1zM397.7 121.4h1.1v1.1h-1.1zM376.8 139.8h1.1v1.1h-1.1zM396.9 131.7h1.1v1.1h-1.1zM360.1 156.9h1.1v1.1h-1.1zM405.9 114.5h1.1v1.1h-1.1zM386.0 130.1h1.1v1.1h-1.1zM406.6 117.4h1.1v1.1h-1.1zM376.6 139.7h1.1v1.1h-1.1zM394.4 117.5h1.1v1.1h-1.1zM398.6 122.4h1.1v1.1h-1.1zM374.1 144.3h1.1v1.1h-1.1zM397.9 121.3h1.1v1.1h-1.1zM383.4 138.8h1.1v1.1h-1.1zM371.8 151.9h1.1v1.1h-1.1zM406.8 113.2h1.1v1.1h-1.1zM390.3 129.8h1.1v1.1h-1.1zM392.5 124.3h1.1v1.1h-1.1zM396.4 125.8h1.1v1.1h-1.1zM399.3 125.9h1.1v1.1h-1.1zM399.1 112.1h1.1v1.1h-1.1zM397.6 116.4h1.1v1.1h-1.1zM401.9 122.2h1.1v1.1h-1.1zM388.5 126.4h1.1v1.1h-1.1zM395.3 119.9h1.1v1.1h-1.1zM408.1 113.3h1.1v1.1h-1.1zM372.7 141.8h1.1v1.1h-1.1zM402.8 119.1h1.1v1.1h-1.1zM405.1 111.7h1.1v1.1h-1.1zM400.0 123.4h1.1v1.1h-1.1zM400.2 120.7h1.1v1.1h-1.1zM402.9 118.5h1.1v1.1h-1.1zM365.2 159.2h1.1v1.1h-1.1zM400.7 128.6h1.1v1.1h-1.1zM378.6 129.7h1.1v1.1h-1.1zM395.3 126.4h1.1v1.1h-1.1zM402.5 127.0h1.1v1.1h-1.1zM404.1 112.8h1.1v1.1h-1.1zM405.3 120.8h1.1v1.1h-1.1zM389.9 131.6h1.1v1.1h-1.1zM397.0 122.1h1.1v1.1h-1.1zM400.1 125.3h1.1v1.1h-1.1zM408.3 112.8h1.1v1.1h-1.1zM380.6 131.5h1.1v1.1h-1.1zM358.4 160.5h1.1v1.1h-1.1zM399.7 111.0h1.1v1.1h-1.1zM390.6 127.1h1.1v1.1h-1.1zM377.1 145.3h1.1v1.1h-1.1zM401.5 122.0h1.1v1.1h-1.1zM398.6 119.9h1.1v1.1h-1.1zM407.6 111.1h1.1v1.1h-1.1zM392.8 128.3h1.1v1.1h-1.1zM399.7 112.3h1.1v1.1h-1.1zM407.6 113.4h1.1v1.1h-1.1zM383.0 134.9h1.1v1.1h-1.1zM383.2 134.0h1.1v1.1h-1.1zM386.1 131.7h1.1v1.1h-1.1zM390.1 132.8h1.1v1.1h-1.1zM400.5 112.2h1.1v1.1h-1.1zM372.0 146.5h1.1v1.1h-1.1zM359.4 162.0h1.1v1.1h-1.1zM391.5 123.7h1.1v1.1h-1.1zM378.1 135.3h1.1v1.1h-1.1zM401.5 116.4h1.1v1.1h-1.1zM384.4 132.3h1.1v1.1h-1.1zM390.3 129.0h1.1v1.1h-1.1zM388.6 130.3h1.1v1.1h-1.1zM402.2 119.7h1.1v1.1h-1.1zM381.4 137.4h1.1v1.1h-1.1zM399.1 124.2h1.1v1.1h-1.1zM369.5 154.9h1.1v1.1h-1.1zM382.9 136.4h1.1v1.1h-1.1zM393.2 121.0h1.1v1.1h-1.1zM404.9 121.9h1.1v1.1h-1.1zM399.6 124.3h1.1v1.1h-1.1zM404.7 119.8h1.1v1.1h-1.1zM407.7 111.8h1.1v1.1h-1.1zM397.0 123.8h1.1v1.1h-1.1zM405.3 112.4h1.1v1.1h-1.1zM394.1 122.3h1.1v1.1h-1.1zM384.2 135.1h1.1v1.1h-1.1zM389.1 131.3h1.1v1.1h-1.1zM373.1 146.7h1.1v1.1h-1.1zM384.6 134.7h1.1v1.1h-1.1zM401.0 117.3h1.1v1.1h-1.1zM406.7 112.8h1.1v1.1h-1.1zM407.4 112.7h1.1v1.1h-1.1zM385.8 129.8h1.1v1.1h-1.1zM383.1 130.1h1.1v1.1h-1.1zM381.6 134.6h1.1v1.1h-1.1zM376.0 137.8h1.1v1.1h-1.1zM404.3 118.4h1.1v1.1h-1.1zM393.5 127.1h1.1v1.1h-1.1zM408.3 116.7h1.1v1.1h-1.1zM407.8 112.4h1.1v1.1h-1.1zM398.5 121.8h1.1v1.1h-1.1zM388.9 128.7h1.1v1.1h-1.1zM380.7 134.4h1.1v1.1h-1.1zM397.6 133.6h1.1v1.1h-1.1zM405.1 114.3h1.1v1.1h-1.1zM408.2 112.7h1.1v1.1h-1.1zM401.4 120.2h1.1v1.1h-1.1zM391.2 130.4h1.1v1.1h-1.1zM402.5 117.5h1.1v1.1h-1.1zM403.0 112.2h1.1v1.1h-1.1zM386.3 130.5h1.1v1.1h-1.1zM408.1 113.4h1.1v1.1h-1.1zM403.8 112.9h1.1v1.1h-1.1zM383.1 140.0h1.1v1.1h-1.1zM399.3 124.9h1.1v1.1h-1.1zM393.7 120.7h1.1v1.1h-1.1zM363.5 149.5h1.1v1.1h-1.1zM382.2 137.1h1.1v1.1h-1.1zM396.9 127.2h1.1v1.1h-1.1zM378.8 138.7h1.1v1.1h-1.1zM400.6 115.3h1.1v1.1h-1.1zM371.9 146.5h1.1v1.1h-1.1zM392.4 128.3h1.1v1.1h-1.1zM399.6 116.8h1.1v1.1h-1.1zM389.4 127.6h1.1v1.1h-1.1zM400.3 120.9h1.1v1.1h-1.1zM391.4 133.7h1.1v1.1h-1.1zM403.5 114.3h1.1v1.1h-1.1zM386.4 131.1h1.1v1.1h-1.1z" fill="#10eaf2"/>
<path d="M396.2 112.9h1.1v1.1h-1.1zM388.7 114.5h1.1v1.1h-1.1zM398.1 111.2h1.1v1.1h-1.1zM402.0 110.8h1.1v1.1h-1.1zM397.6 112.8h1.1v1.1h-1.1zM394.7 111.2h1.1v1.1h-1.1zM391.1 114.7h1.1v1.1h-1.1zM389.8 116.3h1.1v1.1h-1.1zM398.5 112.5h1.1v1.1h-1.1zM393.0 115.1h1.1v1.1h-1.1zM386.2 123.5h1.1v1.1h-1.1zM395.4 111.5h1.1v1.1h-1.1zM388.5 117.2h1.1v1.1h-1.1zM400.4 110.7h1.1v1.1h-1.1zM392.7 118.6h1.1v1.1h-1.1zM389.9 118.9h1.1v1.1h-1.1zM396.9 111.5h1.1v1.1h-1.1zM400.5 111.9h1.1v1.1h-1.1zM401.0 112.2h1.1v1.1h-1.1zM385.3 125.5h1.1v1.1h-1.1zM383.8 122.9h1.1v1.1h-1.1zM396.1 115.5h1.1v1.1h-1.1zM401.7 111.3h1.1v1.1h-1.1zM394.6 116.0h1.1v1.1h-1.1zM397.8 113.0h1.1v1.1h-1.1zM392.8 116.9h1.1v1.1h-1.1zM394.1 113.1h1.1v1.1h-1.1zM396.0 116.2h1.1v1.1h-1.1zM398.1 114.3h1.1v1.1h-1.1zM386.8 118.9h1.1v1.1h-1.1zM398.3 110.5h1.1v1.1h-1.1zM391.1 115.0h1.1v1.1h-1.1zM393.1 116.1h1.1v1.1h-1.1zM397.3 110.6h1.1v1.1h-1.1zM391.2 115.2h1.1v1.1h-1.1zM386.0 121.2h1.1v1.1h-1.1zM392.7 117.7h1.1v1.1h-1.1zM396.8 115.4h1.1v1.1h-1.1z" fill="#8a8a8a"/>
<path d="M436.0 81.6h1.1v1.1h-1.1zM436.9 80.1h1.1v1.1h-1.1zM435.2 84.2h1.1v1.1h-1.1zM435.2 82.9h1.1v1.1h-1.1zM436.7 78.7h1.1v1.1h-1.1zM440.0 76.6h1.1v1.1h-1.1zM437.5 78.0h1.1v1.1h-1.1zM432.5 82.8h1.1v1.1h-1.1zM433.1 81.6h1.1v1.1h-1.1zM433.5 84.4h1.1v1.1h-1.1zM434.5 79.5h1.1v1.1h-1.1zM433.2 81.0h1.1v1.1h-1.1zM438.4 78.8h1.1v1.1h-1.1zM437.5 83.4h1.1v1.1h-1.1zM435.0 81.4h1.1v1.1h-1.1zM432.5 89.3h1.1v1.1h-1.1zM438.7 77.6h1.1v1.1h-1.1zM433.5 82.2h1.1v1.1h-1.1zM436.5 84.1h1.1v1.1h-1.1zM434.9 86.8h1.1v1.1h-1.1zM432.3 91.5h1.1v1.1h-1.1zM437.2 79.1h1.1v1.1h-1.1zM437.8 79.9h1.1v1.1h-1.1zM441.1 80.9h1.1v1.1h-1.1zM451.2 68.9h1.1v1.1h-1.1zM459.1 68.9h1.1v1.1h-1.1zM467.3 70.5h1.1v1.1h-1.1zM442.1 79.3h1.1v1.1h-1.1zM444.9 78.2h1.1v1.1h-1.1z" fill="#f06080"/>
<rect x="337.5" y="29.5" width="167" height="142" fill="none" stroke="#9a9a9a" stroke-width="1"/>
<line x1="343.4" y1="171" x2="343.4" y2="172.5" stroke="#555" stroke-width="0.6"/>
<text x="343.4" y="177.1" font-family="Liberation Serif, serif" font-size="5.2" text-anchor="middle" fill="#111">-7</text>
<line x1="365.3" y1="171" x2="365.3" y2="172.5" stroke="#555" stroke-width="0.6"/>
<text x="365.3" y="177.1" font-family="Liberation Serif, serif" font-size="5.2" text-anchor="middle" fill="#111">-5</text>
<line x1="387.3" y1="171" x2="387.3" y2="172.5" stroke="#555" stroke-width="0.6"/>
<text x="387.3" y="177.1" font-family="Liberation Serif, serif" font-size="5.2" text-anchor="middle" fill="#111">-3</text>
<line x1="409.2" y1="171" x2="409.2" y2="172.5" stroke="#555" stroke-width="0.6"/>
<text x="409.2" y="177.1" font-family="Liberation Serif, serif" font-size="5.2" text-anchor="middle" fill="#111">-1</text>
<line x1="431.2" y1="171" x2="431.2" y2="172.5" stroke="#555" stroke-width="0.6"/>
<text x="431.2" y="177.1" font-family="Liberation Serif, serif" font-size="5.2" text-anchor="middle" fill="#111">1</text>
<line x1="453.1" y1="171" x2="453.1" y2="172.5" stroke="#555" stroke-width="0.6"/>
<text x="453.1" y="177.1" font-family="Liberation Serif, serif" font-size="5.2" text-anchor="middle" fill="#111">3</text>
<line x1="475.1" y1="171" x2="475.1" y2="172.5" stroke="#555" stroke-width="0.6"/>
<text x="475.1" y="177.1" font-family="Liberation Serif, serif" font-size="5.2" text-anchor="middle" fill="#111">5</text>
<line x1="497.0" y1="171" x2="497.0" y2="172.5" stroke="#555" stroke-width="0.6"/>
<text x="497.0" y="177.1" font-family="Liberation Serif, serif" font-size="5.2" text-anchor="middle" fill="#111">7</text>
<line x1="335.5" y1="164.8" x2="337" y2="164.8" stroke="#555" stroke-width="0.6"/>
<text transform="translate(335.0 164.8) rotate(-90)" font-family="Liberation Serif, serif" font-size="5.2" text-anchor="middle" fill="#111">-6</text>
<line x1="335.5" y1="143.3" x2="337" y2="143.3" stroke="#555" stroke-width="0.6"/>
<text transform="translate(335.0 143.3) rotate(-90)" font-family="Liberation Serif, serif" font-size="5.2" text-anchor="middle" fill="#111">-4</text>
<line x1="335.5" y1="121.8" x2="337" y2="121.8" stroke="#555" stroke-width="0.6"/>
<text transform="translate(335.0 121.8) rotate(-90)" font-family="Liberation Serif, serif" font-size="5.2" text-anchor="middle" fill="#111">-2</text>
<line x1="335.5" y1="100.3" x2="337" y2="100.3" stroke="#555" stroke-width="0.6"/>
<text transform="translate(335.0 100.3) rotate(-90)" font-family="Liberation Serif, serif" font-size="5.2" text-anchor="middle" fill="#111">0</text>
<line x1="335.5" y1="78.8" x2="337" y2="78.8" stroke="#555" stroke-width="0.6"/>
<text transform="translate(335.0 78.8) rotate(-90)" font-family="Liberation Serif, serif" font-size="5.2" text-anchor="middle" fill="#111">2</text>
<line x1="335.5" y1="57.3" x2="337" y2="57.3" stroke="#555" stroke-width="0.6"/>
<text transform="translate(335.0 57.3) rotate(-90)" font-family="Liberation Serif, serif" font-size="5.2" text-anchor="middle" fill="#111">4</text>
<line x1="335.5" y1="35.8" x2="337" y2="35.8" stroke="#555" stroke-width="0.6"/>
<text transform="translate(335.0 35.8) rotate(-90)" font-family="Liberation Serif, serif" font-size="5.2" text-anchor="middle" fill="#111">6</text>
<text x="420.5" y="182.2" font-family="Liberation Serif, serif" font-weight="bold" font-size="4.95" text-anchor="middle">log2(GeneExpression Fold Change)</text>
<text x="420.5" y="187.3" font-family="Liberation Serif, serif" font-weight="bold" font-size="4.95" text-anchor="middle">T_vs_C</text>
<text transform="translate(324.6 100.5) rotate(-90)" font-family="Liberation Serif, serif" font-weight="bold" font-size="4.95" text-anchor="middle">log2(Methylation Fold Change)</text>
<text transform="translate(330.0 100.5) rotate(-90)" font-family="Liberation Serif, serif" font-weight="bold" font-size="4.95" text-anchor="middle">T_vs_C</text>
<text x="88.3" y="214.8" font-family="Liberation Sans, sans-serif" font-weight="bold" font-size="11.4">Pathways of DMEGs</text>
<rect x="108.4" y="248.30" width="122.6" height="8.5" fill="#9a3232"/>
<text x="105.6" y="254.50" font-family="Liberation Serif, serif" font-weight="bold" font-size="5.6" text-anchor="end" stroke="#000" stroke-width="0.12">Endocytosis</text>
<text x="232.9" y="254.50" font-family="Liberation Serif, serif" font-weight="bold" font-size="5.6" stroke="#000" stroke-width="0.12">[75 genes]</text>
<rect x="108.4" y="262.25" width="94.2" height="8.5" fill="#9a3232"/>
<text x="105.6" y="268.45" font-family="Liberation Serif, serif" font-weight="bold" font-size="5.6" text-anchor="end" stroke="#000" stroke-width="0.12">Lysosome</text>
<text x="204.5" y="268.45" font-family="Liberation Serif, serif" font-weight="bold" font-size="5.6" stroke="#000" stroke-width="0.12">[42 genes]</text>
<rect x="108.4" y="276.20" width="93.0" height="8.5" fill="#9a3232"/>
<text x="105.6" y="282.40" font-family="Liberation Serif, serif" font-weight="bold" font-size="5.6" text-anchor="end" stroke="#000" stroke-width="0.12">Autophagy - animal</text>
<text x="203.3" y="282.40" font-family="Liberation Serif, serif" font-weight="bold" font-size="5.6" stroke="#000" stroke-width="0.12">[44 genes]</text>
<rect x="108.4" y="290.15" width="87.8" height="8.5" fill="#9a3232"/>
<text x="105.6" y="296.35" font-family="Liberation Serif, serif" font-weight="bold" font-size="5.6" text-anchor="end" stroke="#000" stroke-width="0.12">Adherens junction</text>
<text x="198.1" y="296.35" font-family="Liberation Serif, serif" font-weight="bold" font-size="5.6" stroke="#000" stroke-width="0.12">[27 genes]</text>
<rect x="108.4" y="304.10" width="87.4" height="8.5" fill="#9a3232"/>
<text x="105.6" y="310.30" font-family="Liberation Serif, serif" font-weight="bold" font-size="5.6" text-anchor="end" stroke="#000" stroke-width="0.12">Sphingolipid metabolism</text>
<text x="197.7" y="310.30" font-family="Liberation Serif, serif" font-weight="bold" font-size="5.6" stroke="#000" stroke-width="0.12">[21 genes]</text>
<rect x="108.4" y="318.05" width="75.1" height="8.5" fill="#9a3232"/>
<text x="105.6" y="324.25" font-family="Liberation Serif, serif" font-weight="bold" font-size="5.6" text-anchor="end" stroke="#000" stroke-width="0.12">Ubiquitin mediated proteolysis</text>
<text x="185.4" y="324.25" font-family="Liberation Serif, serif" font-weight="bold" font-size="5.6" stroke="#000" stroke-width="0.12">[42 genes]</text>
<rect x="108.4" y="332.00" width="73.5" height="8.5" fill="#9a3232"/>
<text x="105.6" y="338.20" font-family="Liberation Serif, serif" font-weight="bold" font-size="5.6" text-anchor="end" stroke="#000" stroke-width="0.12">MAPK signaling pathway</text>
<text x="183.8" y="338.20" font-family="Liberation Serif, serif" font-weight="bold" font-size="5.6" stroke="#000" stroke-width="0.12">[75 genes]</text>
<rect x="108.4" y="345.95" width="70.7" height="8.5" fill="#9a3232"/>
<text x="105.6" y="352.15" font-family="Liberation Serif, serif" font-weight="bold" font-size="5.6" text-anchor="end" stroke="#000" stroke-width="0.12">EGFR tyrosine kinase inhibitor resistance</text>
<text x="181.0" y="352.15" font-family="Liberation Serif, serif" font-weight="bold" font-size="5.6" stroke="#000" stroke-width="0.12">[27 genes]</text>
<rect x="108.4" y="359.90" width="67.6" height="8.5" fill="#9a3232"/>
<text x="105.6" y="366.10" font-family="Liberation Serif, serif" font-weight="bold" font-size="5.6" text-anchor="end" stroke="#000" stroke-width="0.12">Human T-cell leukemia virus 1 infection</text>
<text x="177.9" y="366.10" font-family="Liberation Serif, serif" font-weight="bold" font-size="5.6" stroke="#000" stroke-width="0.12">[58 genes]</text>
<rect x="108.4" y="373.85" width="66.8" height="8.5" fill="#9a3232"/>
<text x="105.6" y="380.05" font-family="Liberation Serif, serif" font-weight="bold" font-size="5.6" text-anchor="end" stroke="#000" stroke-width="0.12">ErbB signaling pathway</text>
<text x="177.1" y="380.05" font-family="Liberation Serif, serif" font-weight="bold" font-size="5.6" stroke="#000" stroke-width="0.12">[28 genes]</text>
<line x1="107.5" y1="238.8" x2="107.5" y2="391.6" stroke="#8a8a8a" stroke-width="1"/>
<line x1="107" y1="391.5" x2="229.8" y2="391.5" stroke="#8a8a8a" stroke-width="1"/>
<line x1="108.7" y1="391.6" x2="108.7" y2="393" stroke="#888" stroke-width="0.6"/>
<text x="108.7" y="398.8" font-family="Liberation Serif, serif" font-weight="bold" font-size="5.6" text-anchor="middle">0</text>
<line x1="127.1" y1="391.6" x2="127.1" y2="393" stroke="#888" stroke-width="0.6"/>
<text x="127.1" y="398.8" font-family="Liberation Serif, serif" font-weight="bold" font-size="5.6" text-anchor="middle">1</text>
<line x1="145.4" y1="391.6" x2="145.4" y2="393" stroke="#888" stroke-width="0.6"/>
<text x="145.4" y="398.8" font-family="Liberation Serif, serif" font-weight="bold" font-size="5.6" text-anchor="middle">2</text>
<line x1="163.8" y1="391.6" x2="163.8" y2="393" stroke="#888" stroke-width="0.6"/>
<text x="163.8" y="398.8" font-family="Liberation Serif, serif" font-weight="bold" font-size="5.6" text-anchor="middle">3</text>
<line x1="182.1" y1="391.6" x2="182.1" y2="393" stroke="#888" stroke-width="0.6"/>
<text x="182.1" y="398.8" font-family="Liberation Serif, serif" font-weight="bold" font-size="5.6" text-anchor="middle">4</text>
<line x1="200.4" y1="391.6" x2="200.4" y2="393" stroke="#888" stroke-width="0.6"/>
<text x="200.4" y="398.8" font-family="Liberation Serif, serif" font-weight="bold" font-size="5.6" text-anchor="middle">5</text>
<line x1="218.8" y1="391.6" x2="218.8" y2="393" stroke="#888" stroke-width="0.6"/>
<text x="218.8" y="398.8" font-family="Liberation Serif, serif" font-weight="bold" font-size="5.6" text-anchor="middle">6</text>
<text x="107.6" y="409.4" font-family="Liberation Serif, serif" font-weight="bold" font-size="8.43">EnrichmentScore (-log10(Pvalue))</text>
<path d="M442.7 314.8L430.0 331.7M460.7 328.3L450.3 320.6M424.1 312.4L429.2 328.9M425.6 316.5L446.0 317.7M455.4 320.3L437.8 330.9M437.1 336.8L445.2 337.9M429.7 322.8L447.7 327.4M429.5 316.0L448.5 303.5M437.3 317.9L441.1 337.5M450.0 324.7L442.0 320.0M452.9 323.3L435.4 305.0M448.5 333.0L441.3 322.3M453.0 323.9L439.5 339.1M450.2 336.3L449.4 320.3M420.6 317.6L434.6 319.7M429.9 320.6L457.1 315.6M425.1 319.8L449.7 311.7M443.5 332.9L458.3 324.5M421.1 327.0L434.3 318.9M436.5 330.9L411.7 319.1M449.3 333.3L452.6 324.7M460.2 318.5L453.0 314.6M448.4 309.4L462.0 313.8M460.8 327.1L448.4 326.1M432.3 316.5L457.1 328.6M444.2 325.5L437.7 321.9M446.1 313.6L419.4 319.7M435.5 304.7L438.8 318.8M452.8 334.0L436.6 317.2M439.7 312.5L434.3 322.4M453.4 322.4L444.7 326.5M461.1 322.4L451.6 326.9M446.4 330.3L430.5 311.4M438.6 312.3L433.0 323.6M440.6 334.2L439.2 319.6M449.8 335.7L477.5 331.1M458.9 313.1L466.4 316.6M450.6 309.4L452.0 325.6M447.0 324.8L462.8 318.7M451.4 334.9L440.2 321.4M440.0 321.3L447.6 318.9M437.2 321.7L460.8 315.9M435.8 324.3L453.3 313.8M454.1 313.9L435.3 325.4M453.5 331.9L448.4 338.7M432.3 326.0L431.5 308.0M460.9 324.6L435.8 337.0M450.5 325.3L430.9 313.1M445.4 315.6L436.3 327.1M422.2 316.1L437.4 335.7M446.4 312.4L425.4 319.6M421.3 327.2L448.7 333.3M424.1 322.7L429.4 334.7M443.8 312.2L440.9 326.4M436.4 313.2L438.5 322.4M438.0 317.7L456.7 313.9M421.7 322.1L440.0 338.6M439.0 332.3L415.9 324.6M448.1 324.3L439.7 328.9M454.3 309.5L440.2 329.2M453.4 319.8L438.3 322.8M433.1 307.2L438.9 314.2M453.5 313.3L438.9 319.7M428.5 332.5L430.1 321.8M448.7 315.9L432.9 306.5M462.5 320.7L443.6 325.8M433.8 314.8L442.8 327.0M449.5 330.7L437.8 320.4M443.6 330.8L435.9 322.7M440.4 330.4L450.6 324.8M441.9 306.4L434.1 322.0M428.2 319.5L435.4 311.8M427.0 319.5L421.4 311.3M453.8 327.4L472.1 314.4M433.7 309.3L441.1 318.7M448.1 329.6L453.2 311.2M440.4 328.6L434.2 319.3M455.1 324.0L443.3 325.2M450.3 334.2L475.3 323.3M440.1 326.0L448.0 313.8M457.2 315.2L444.5 323.7M445.3 333.0L464.3 325.0M453.6 332.6L430.6 323.7M432.1 316.1L456.0 312.3M460.6 317.8L446.9 327.9M422.6 317.0L444.1 326.1M432.1 319.0L442.4 301.7M443.1 328.9L445.8 316.4M432.5 327.7L443.2 315.3M423.6 320.6L439.4 306.6M433.1 326.9L443.3 306.2M436.0 311.1L450.9 305.8M444.2 329.6L423.8 318.1M445.7 313.1L438.8 334.9M443.6 331.3L435.4 318.7M450.3 315.0L429.1 324.2M435.1 311.3L444.8 302.6M442.9 320.9L431.1 331.7M423.4 315.2L431.4 317.0M461.2 315.9L442.7 313.4M421.1 313.9L421.1 320.9M446.0 304.5L468.7 304.7M431.7 307.1L420.5 328.3M451.2 326.9L440.2 320.4M435.4 336.3L447.4 319.6M462.0 323.5L461.2 306.7M444.2 312.4L425.0 322.1M440.5 308.2L451.4 321.5M422.3 318.1L440.7 332.5M441.4 326.8L466.9 315.8M431.2 318.9L455.0 322.8M444.0 325.8L438.3 309.3M447.8 336.5L425.8 327.2M429.9 335.1L441.9 314.7M454.4 313.1L447.9 323.3M444.2 322.6L418.0 316.9M427.8 313.5L438.9 334.8M450.1 334.7L431.3 317.4M430.7 318.1L434.3 306.8M450.8 319.9L441.1 326.0M445.8 315.6L456.5 330.4M422.7 323.1L442.0 323.2M436.3 326.9L436.2 310.3M434.9 336.2L448.0 326.2M453.2 331.4L442.5 350.8M444.7 308.7L425.3 321.0M430.3 335.8L441.1 319.1M453.7 323.2L433.0 326.3M433.8 320.2L440.8 323.8M430.7 310.8L442.8 313.3M438.4 326.0L453.3 322.6M447.7 336.0L425.7 351.8M449.0 316.9L466.2 330.3M449.6 310.9L444.1 317.8M443.6 315.7L436.2 329.3M447.8 335.3L452.5 327.2M440.7 336.7L445.2 324.0M440.1 311.9L455.0 326.0M441.8 321.4L423.7 314.2M453.9 311.2L463.4 321.9M446.5 331.0L442.8 314.7M455.0 320.4L428.8 324.4M429.1 330.5L449.3 332.7M423.9 317.9L449.9 312.5M443.1 327.6L441.5 320.6M444.0 316.4L464.4 330.9M446.4 325.4L441.6 318.6M446.4 311.6L421.9 321.7M424.8 330.0L444.2 322.3M430.2 322.8L419.2 341.6M448.1 306.7L431.0 323.6M421.8 315.2L420.7 322.4M436.6 317.2L457.8 317.1M456.8 310.7L447.8 329.5M437.9 332.8L461.3 330.3M425.4 331.1L445.3 340.0M422.1 319.5L439.0 314.2M462.0 325.9L447.0 327.3M424.1 313.2L441.7 322.1M420.3 321.3L437.3 336.3M430.0 326.4L417.9 311.5M459.4 315.6L430.5 321.6M424.0 320.3L447.9 321.8M432.4 328.7L434.8 335.2M449.0 311.8L425.2 306.0M440.1 331.8L448.0 330.4M427.0 320.9L439.8 319.3M433.1 305.5L433.4 317.8M459.5 328.7L446.4 331.5M434.8 329.6L410.8 315.3" stroke="#7a7a7a" stroke-opacity="0.45" stroke-width="0.4" fill="none"/>
<path d="M417.3 326.5L420.4 337.2M436.5 297.5L419.4 304.9M497.1 268.6L360.8 353.5M484.2 386.5L441.9 401.4M419.4 304.9L460.4 336.9M357.2 330.5L460.4 336.9M387.1 382.9L460.4 336.9M360.8 353.5L466.0 315.7M433.8 391.2L466.0 315.7M426.3 221.7L458.5 303.4M505.3 279.5L433.8 391.2M419.8 232.4L460.4 336.9M355.8 245.4L383.3 251.0M468.0 395.5L420.4 337.2M441.9 401.4L466.0 315.7M510.5 330.6L436.5 297.5M357.5 304.4L433.8 391.2M360.8 292.5L466.3 325.9M507.0 291.5L417.3 326.5M509.1 303.7L419.4 304.9M417.3 326.5L441.7 346.2M463.7 242.5L420.4 337.2M416.0 399.9L417.3 326.5M436.5 297.5L466.0 315.7M509.7 316.2L515.5 343.6M387.1 382.9L458.5 303.4M417.9 250.1L466.0 315.7M401.1 241.0L436.5 297.5M401.1 241.0L441.7 346.2M420.4 337.2L441.7 346.2M401.1 241.0L463.7 242.5M509.7 316.2L408.8 315.7M510.5 330.6L419.4 304.9M383.3 251.0L357.2 330.5M353.2 342.1L460.4 336.9M509.1 303.7L466.0 315.7M408.8 315.7L417.3 326.5M463.7 242.5L436.5 297.5M370.7 364.7L441.9 401.4M463.7 242.5L441.7 346.2M370.7 364.7L420.4 337.2M436.5 297.5L466.3 325.9M401.1 241.0L507.9 354.3M360.5 279.4L408.8 315.7M357.2 330.5L408.8 315.7M373.1 269.9L360.8 353.5M417.9 250.1L466.3 325.9M458.5 303.4L420.4 337.2M401.1 241.0L419.4 304.9M489.4 259.3L360.8 292.5M356.4 317.1L466.0 315.7M440.2 240.4L509.7 316.2M353.2 342.1L484.2 386.5M497.1 268.6L460.4 336.9M360.8 292.5L458.5 303.4M507.0 291.5L436.5 297.5M507.0 291.5L441.7 346.2M489.4 259.3L466.3 325.9M408.8 315.7L420.4 337.2M370.7 364.7L436.5 297.5M511.0 244.4L509.1 303.7M419.8 232.4L505.6 365.0M383.3 251.0L484.2 386.5M416.0 399.9L441.7 346.2M327.3 289.9L419.4 304.9M325.2 345.0L419.4 304.9M383.3 251.0L458.5 303.4M458.5 303.4L441.7 346.2M489.4 259.3L357.5 304.4M515.5 343.6L417.3 326.5M376.1 402.5L436.5 297.5M489.4 259.3L494.0 374.9M510.5 330.6L466.3 325.9M440.2 240.4L505.6 365.0M511.0 244.4L408.8 315.7M505.3 279.5L408.8 315.7M494.0 374.9L466.3 325.9M507.9 354.3L468.0 395.5M408.8 315.7L441.7 346.2M417.3 326.5L466.3 325.9M466.0 315.7L460.4 336.9M463.7 242.5L466.0 315.7M507.9 354.3L417.3 326.5M436.5 297.5L458.5 303.4M505.6 365.0L458.5 303.4M360.5 279.4L420.4 337.2M355.8 245.4L466.0 315.7M417.9 250.1L458.5 303.4M458.5 303.4L419.4 304.9M383.3 251.0L408.8 315.7M382.6 260.9L441.7 346.2M353.3 377.8L364.9 392.1M440.2 240.4L507.0 291.5M515.5 343.6L420.4 337.2M441.9 401.4L408.8 315.7M338.2 272.0L441.7 346.2M373.1 269.9L460.4 336.9M507.0 291.5L466.0 315.7M463.7 242.5L416.0 399.9M360.5 279.4L515.5 343.6M417.3 326.5L460.4 336.9M505.6 365.0L433.8 391.2M466.3 325.9L420.4 337.2M507.9 354.3L420.4 337.2M419.8 232.4L515.5 343.6M505.6 365.0L408.8 315.7M401.1 241.0L353.2 342.1M357.2 330.5L436.5 297.5M416.0 399.9L466.0 315.7M356.4 317.1L484.2 386.5M458.5 303.4L466.0 315.7M382.6 260.9L419.4 304.9M419.4 304.9L408.8 315.7M420.4 337.2L460.4 336.9M419.8 232.4L408.8 315.7M335.7 362.5L417.3 326.5M504.2 233.5L460.4 336.9M463.7 242.5L494.0 374.9M511.0 244.4L420.4 337.2M380.1 374.2L417.3 326.5M408.8 315.7L466.0 315.7M507.9 354.3L436.5 297.5M466.3 325.9L441.7 346.2M417.9 250.1L505.6 365.0M357.5 304.4L420.4 337.2M370.7 364.7L466.3 325.9M479.1 250.2L436.5 297.5M399.8 393.1L441.7 346.2M479.1 250.2L441.7 346.2M458.5 303.4L466.3 325.9M436.5 297.5L460.4 336.9M419.4 304.9L417.3 326.5M515.5 343.6L419.4 304.9M468.0 395.5L458.5 303.4M360.8 353.5L458.5 303.4M509.7 316.2L466.0 315.7M511.0 244.4L436.5 297.5M417.9 250.1L489.4 259.3M327.3 289.9L325.8 311.0M408.8 315.7L466.3 325.9M466.0 315.7L417.3 326.5M360.5 279.4L370.7 364.7M399.8 393.1L419.4 304.9M382.6 260.9L510.5 330.6M505.6 365.0L441.9 401.4M505.6 365.0L420.4 337.2M360.5 279.4L466.0 315.7M515.5 343.6L370.7 364.7M458.5 303.4L460.4 336.9M419.4 304.9L420.4 337.2M531.1 267.5L505.3 279.5M505.3 279.5L507.9 354.3M497.1 268.6L436.5 297.5M419.8 232.4L420.4 337.2M507.0 291.5L484.2 386.5M373.1 269.9L417.3 326.5M505.3 279.5L419.4 304.9M380.1 374.2L436.5 297.5M419.8 232.4L382.6 260.9M314.1 330.2L325.2 345.0M408.8 315.7L460.4 336.9M466.0 315.7L420.4 337.2M360.8 292.5L417.3 326.5M357.5 304.4L419.4 304.9M507.9 354.3L466.0 315.7M325.2 345.0L335.7 362.5M479.1 250.2L399.8 393.1M357.2 330.5L416.0 399.9M401.1 241.0L505.6 365.0M436.5 297.5L408.8 315.7M419.4 304.9L441.7 346.2M373.1 269.9L441.9 401.4M463.7 242.5L357.2 330.5M383.3 251.0L505.3 279.5M360.8 292.5L441.9 401.4M370.7 364.7L433.8 391.2M440.2 240.4L387.1 382.9M466.0 315.7L441.7 346.2M353.2 342.1L420.4 337.2M440.2 240.4L441.7 346.2M460.4 336.9L441.7 346.2M458.5 303.4L408.8 315.7M436.5 297.5L417.3 326.5M387.1 382.9L419.4 304.9M364.9 392.1L376.1 402.5M509.7 316.2L484.2 386.5M419.8 232.4L419.4 304.9M497.1 268.6L466.0 315.7M356.4 317.1L408.8 315.7M373.1 269.9L436.5 297.5M380.1 374.2L399.8 393.1M505.3 279.5L466.3 325.9M510.5 330.6L408.8 315.7M360.8 292.5L436.5 297.5M382.6 260.9L509.7 316.2M466.3 325.9L460.4 336.9M399.8 393.1L460.4 336.9M509.1 303.7L417.3 326.5M440.2 240.4L419.4 304.9M531.1 267.5L419.4 304.9M515.5 343.6L360.8 353.5M383.3 251.0L416.0 399.9M458.5 303.4L417.3 326.5M436.5 297.5L420.4 337.2M419.4 304.9L466.0 315.7M515.5 343.6L458.5 303.4M387.1 382.9L466.0 315.7M484.2 386.5L408.8 315.7M419.8 232.4L399.8 393.1M364.9 392.1L458.5 303.4M433.8 391.2L436.5 297.5M497.1 268.6L466.3 325.9M382.6 260.9L466.3 325.9M325.8 311.0L466.3 325.9M426.3 221.7L419.8 232.4M373.1 269.9L419.4 304.9M357.5 304.4L353.2 342.1M468.0 395.5L408.8 315.7M383.3 251.0L497.1 268.6M441.9 401.4L436.5 297.5M401.1 241.0L511.0 244.4M353.3 377.8L460.4 336.9M353.2 342.1L419.4 304.9M399.8 393.1L458.5 303.4M509.1 303.7L441.9 401.4M382.6 260.9L357.2 330.5M504.2 233.5L511.0 244.4M489.4 259.3L420.4 337.2M440.2 240.4L466.0 315.7M338.2 272.0L327.3 289.9M436.5 297.5L441.7 346.2M419.4 304.9L466.3 325.9M314.1 330.2L420.4 337.2M484.2 386.5L417.3 326.5M433.8 391.2L419.4 304.9M356.4 317.1L441.9 401.4M401.1 241.0L417.3 326.5M468.0 395.5L417.3 326.5M494.0 374.9L420.4 337.2M466.0 315.7L466.3 325.9M353.2 342.1L466.0 315.7M440.2 240.4L466.3 325.9" stroke="#7a7a7a" stroke-opacity="0.6" stroke-width="0.45" fill="none"/>
<ellipse cx="426.3" cy="222.1" rx="13.5" ry="5.6" fill="#82c8ec"/>
<ellipse cx="419.8" cy="232.8" rx="13.5" ry="5.6" fill="#82c8ec"/>
<ellipse cx="401.1" cy="241.4" rx="13.5" ry="5.6" fill="#82c8ec"/>
<ellipse cx="440.2" cy="240.8" rx="13.5" ry="5.6" fill="#82c8ec"/>
<ellipse cx="463.7" cy="242.9" rx="13.5" ry="5.6" fill="#82c8ec"/>
<ellipse cx="479.1" cy="250.6" rx="13.5" ry="5.6" fill="#82c8ec"/>
<ellipse cx="504.2" cy="233.9" rx="13.5" ry="5.6" fill="#82c8ec"/>
<ellipse cx="511" cy="244.8" rx="13.5" ry="5.6" fill="#82c8ec"/>
<ellipse cx="355.8" cy="245.8" rx="13.5" ry="5.6" fill="#82c8ec"/>
<ellipse cx="383.3" cy="251.4" rx="13.5" ry="5.6" fill="#82c8ec"/>
<ellipse cx="417.9" cy="250.5" rx="13.5" ry="5.6" fill="#82c8ec"/>
<ellipse cx="382.6" cy="261.3" rx="13.5" ry="5.6" fill="#82c8ec"/>
<ellipse cx="489.4" cy="259.7" rx="13.5" ry="5.6" fill="#82c8ec"/>
<ellipse cx="497.1" cy="269.0" rx="13.5" ry="5.6" fill="#82c8ec"/>
<ellipse cx="531.1" cy="267.9" rx="13.5" ry="5.6" fill="#82c8ec"/>
<ellipse cx="338.2" cy="272.4" rx="13.5" ry="5.6" fill="#82c8ec"/>
<ellipse cx="373.1" cy="270.3" rx="13.5" ry="5.6" fill="#82c8ec"/>
<ellipse cx="360.5" cy="279.8" rx="13.5" ry="5.6" fill="#82c8ec"/>
<ellipse cx="505.3" cy="279.9" rx="13.5" ry="5.6" fill="#82c8ec"/>
<ellipse cx="327.3" cy="290.3" rx="13.5" ry="5.6" fill="#82c8ec"/>
<ellipse cx="360.8" cy="292.9" rx="13.5" ry="5.6" fill="#82c8ec"/>
<ellipse cx="507" cy="291.9" rx="13.5" ry="5.6" fill="#82c8ec"/>
<ellipse cx="357.5" cy="304.8" rx="13.5" ry="5.6" fill="#82c8ec"/>
<ellipse cx="509.1" cy="304.1" rx="13.5" ry="5.6" fill="#82c8ec"/>
<ellipse cx="325.8" cy="311.4" rx="13.5" ry="5.6" fill="#82c8ec"/>
<ellipse cx="356.4" cy="317.5" rx="13.5" ry="5.6" fill="#82c8ec"/>
<ellipse cx="509.7" cy="316.6" rx="13.5" ry="5.6" fill="#82c8ec"/>
<ellipse cx="314.1" cy="330.6" rx="13.5" ry="5.6" fill="#82c8ec"/>
<ellipse cx="357.2" cy="330.9" rx="13.5" ry="5.6" fill="#82c8ec"/>
<ellipse cx="510.5" cy="331.0" rx="13.5" ry="5.6" fill="#82c8ec"/>
<ellipse cx="325.2" cy="345.4" rx="13.5" ry="5.6" fill="#82c8ec"/>
<ellipse cx="353.2" cy="342.5" rx="13.5" ry="5.6" fill="#82c8ec"/>
<ellipse cx="515.5" cy="344.0" rx="13.5" ry="5.6" fill="#82c8ec"/>
<ellipse cx="360.8" cy="353.9" rx="13.5" ry="5.6" fill="#82c8ec"/>
<ellipse cx="507.9" cy="354.7" rx="13.5" ry="5.6" fill="#82c8ec"/>
<ellipse cx="335.7" cy="362.9" rx="13.5" ry="5.6" fill="#82c8ec"/>
<ellipse cx="370.7" cy="365.1" rx="13.5" ry="5.6" fill="#82c8ec"/>
<ellipse cx="505.6" cy="365.4" rx="13.5" ry="5.6" fill="#82c8ec"/>
<ellipse cx="353.3" cy="378.2" rx="13.5" ry="5.6" fill="#82c8ec"/>
<ellipse cx="380.1" cy="374.6" rx="13.5" ry="5.6" fill="#82c8ec"/>
<ellipse cx="494" cy="375.3" rx="13.5" ry="5.6" fill="#82c8ec"/>
<ellipse cx="387.1" cy="383.3" rx="13.5" ry="5.6" fill="#82c8ec"/>
<ellipse cx="484.2" cy="386.9" rx="13.5" ry="5.6" fill="#82c8ec"/>
<ellipse cx="364.9" cy="392.5" rx="13.5" ry="5.6" fill="#82c8ec"/>
<ellipse cx="433.8" cy="391.6" rx="13.5" ry="5.6" fill="#82c8ec"/>
<ellipse cx="399.8" cy="393.5" rx="13.5" ry="5.6" fill="#82c8ec"/>
<ellipse cx="468" cy="395.9" rx="13.5" ry="5.6" fill="#82c8ec"/>
<ellipse cx="416" cy="400.3" rx="13.5" ry="5.6" fill="#82c8ec"/>
<ellipse cx="441.9" cy="401.8" rx="13.5" ry="5.6" fill="#82c8ec"/>
<ellipse cx="376.1" cy="402.9" rx="13.5" ry="5.6" fill="#82c8ec"/>
<ellipse cx="436.5" cy="297.9" rx="13.5" ry="5.6" fill="#f07020"/>
<ellipse cx="458.5" cy="303.8" rx="13.5" ry="5.6" fill="#f59020"/>
<ellipse cx="419.4" cy="305.3" rx="13.5" ry="5.6" fill="#f0dc1c"/>
<ellipse cx="408.8" cy="316.1" rx="13.5" ry="5.6" fill="#ee1c1c"/>
<ellipse cx="466" cy="316.1" rx="13.5" ry="5.6" fill="#f58c28"/>
<ellipse cx="417.3" cy="326.9" rx="13.5" ry="5.6" fill="#e8401c"/>
<ellipse cx="466.3" cy="326.3" rx="13.5" ry="5.6" fill="#f5b828"/>
<ellipse cx="420.4" cy="337.6" rx="13.5" ry="5.6" fill="#f0601e"/>
<ellipse cx="460.4" cy="337.3" rx="13.5" ry="5.6" fill="#ee2418"/>
<ellipse cx="441.7" cy="346.6" rx="13.5" ry="5.6" fill="#f5c020"/>
<g font-family="Liberation Sans, sans-serif" font-size="6.8" text-anchor="middle" fill="#222" stroke="#222" stroke-width="0.1">
<text x="426.3" y="224.15">GTF2IRD1</text>
<text x="419.8" y="234.85">LIPN</text>
<text x="401.1" y="243.45">SULT2B1</text>
<text x="440.2" y="242.85">ASPRV1</text>
<text x="463.7" y="244.95">BLMH</text>
<text x="479.1" y="252.65">KLK8</text>
<text x="504.2" y="235.95">PADI3</text>
<text x="511" y="246.85">CELA2A</text>
<text x="355.8" y="247.85">KRT28</text>
<text x="383.3" y="253.45">KRT1</text>
<text x="417.9" y="252.55">ALOX12B</text>
<text x="382.6" y="263.35">CALML5</text>
<text x="489.4" y="261.75">FLG</text>
<text x="497.1" y="271.05">CST6</text>
<text x="531.1" y="269.95">IL36G</text>
<text x="338.2" y="274.45">FBXL19</text>
<text x="373.1" y="272.35">DSC1</text>
<text x="360.5" y="281.85">LCE1C</text>
<text x="505.3" y="281.95">IL36RN</text>
<text x="327.3" y="292.35">TNIP1</text>
<text x="360.8" y="294.95">LCE2D</text>
<text x="507" y="293.95">ABCA12</text>
<text x="357.5" y="306.85">PKP3</text>
<text x="509.1" y="306.15">FLG2</text>
<text x="325.8" y="313.45">KAZN</text>
<text x="356.4" y="319.55">SPINK5</text>
<text x="509.7" y="318.65">C1orf68</text>
<text x="314.1" y="332.65">SERPINB8</text>
<text x="357.2" y="332.95">PNPLA1</text>
<text x="510.5" y="333.05">DSG1</text>
<text x="325.2" y="347.45">IQCA1</text>
<text x="353.2" y="344.55">KRT2</text>
<text x="515.5" y="346.05">KRTDAP</text>
<text x="360.8" y="355.95">KRT72</text>
<text x="507.9" y="356.75">SBSN</text>
<text x="335.7" y="364.95">SERPINB5</text>
<text x="370.7" y="367.15">KRT78</text>
<text x="505.6" y="367.45">CRCT1</text>
<text x="353.3" y="380.25">DYNC1I1</text>
<text x="380.1" y="376.65">CRNN</text>
<text x="494" y="377.35">LCE6A</text>
<text x="387.1" y="385.35">SCEL</text>
<text x="484.2" y="388.95">RPTN</text>
<text x="364.9" y="394.55">SERPINB13</text>
<text x="433.8" y="393.65">LCE5A</text>
<text x="399.8" y="395.55">TGM3</text>
<text x="468" y="397.95">LCE1A</text>
<text x="416" y="402.35">KPRP</text>
<text x="441.9" y="403.85">LCE2A</text>
<text x="376.1" y="404.95">CDKN1C</text>
<text x="436.5" y="299.95">LCE1B</text>
<text x="458.5" y="305.85">TGM1</text>
<text x="419.4" y="307.35">SPRR2G</text>
<text x="408.8" y="318.15">LOR</text>
<text x="466" y="318.15">CDSN</text>
<text x="417.3" y="328.95">SPRR1A</text>
<text x="466.3" y="328.35">EVPL</text>
<text x="420.4" y="339.65">LCE3E</text>
<text x="460.4" y="339.35">LCE3D</text>
<text x="441.7" y="348.65">CASP14</text>
</g>
</svg>
</body></html>
